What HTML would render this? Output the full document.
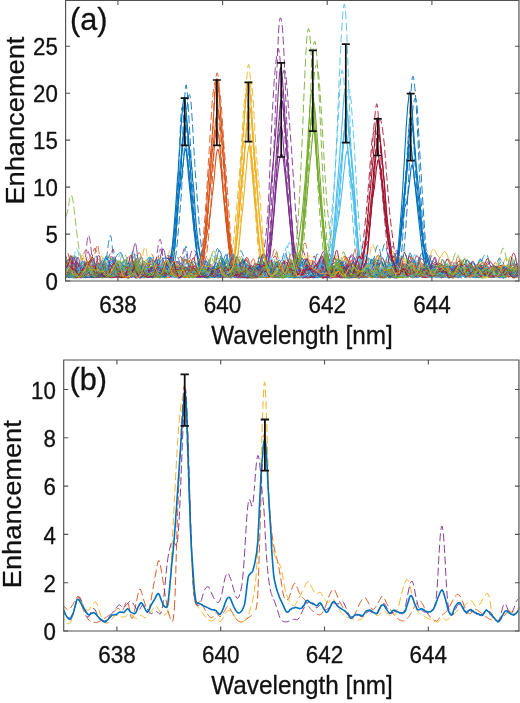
<!DOCTYPE html>
<html lang="en"><head><meta charset="utf-8"><title>Enhancement vs Wavelength</title>
<style>html,body{margin:0;padding:0;background:#fff}svg{display:block}</style></head>
<body>
<svg width="520" height="703" viewBox="0 0 520 703" font-family='"Liberation Sans", Arial, Helvetica, sans-serif' fill="#111" stroke="#111" stroke-width="0.3">
<rect width="520" height="703" fill="#fff" stroke="none"/>
<defs><clipPath id="ca"><rect x="65.6" y="0.5" width="453.9" height="280.5"/></clipPath>
<clipPath id="cb"><rect x="63.7" y="360.0" width="455.8" height="271.0"/></clipPath></defs>
<g clip-path="url(#ca)" fill="none" stroke-linejoin="round" stroke-linecap="butt">
<path d="M64.2 274.6Q65.5 276.9 66.8 274.7T69.3 271.8 71.8 274.1 74.3 277 76.8 277.2 79.3 277.2 81.8 276.8 84.3 277.4 86.8 277.4 89.4 274.8 91.9 272 94.4 274.2 96.9 277.2 99.4 277.1 101.9 275.4 104.4 274.3 106.9 276.1 109.5 277 112 276.8 114.5 276.7 117 273 119.5 271.7 122 272.7 124.5 269.7 127 270.6 129.5 273.3 132.1 272.3 134.6 272.7 137.1 275.3 139.6 273.8 142.1 269.1 144.6 271.3 147.1 272.6 149.6 270.1 152.2 270.1 154.7 263 157.2 260.4 159.7 270.5 162.2 274.5" stroke="#0072BD" stroke-width="0.85"/>
<path d="M162.2 274.5Q163.5 272.6 164.7 270.4T167.2 268 169.7 264.9 172.2 256.3 174.8 237.7 177.5 209.4 179.3 192.2 180 188.3 180.6 184.5 181.3 179.6 182 173.5 182.7 167.4 183.4 161.4 184 155.9 184.7 151.8 185.4 149.7 186.1 150 186.8 152.7 187.4 157.7 188.1 164.2 188.8 171.3 189.5 178.8 190.2 186.3 190.8 193.8 191.5 200.7 192.2 207.1 193.1 215.1 194.9 228.4 197.4 242.5 199.9 254.5 202.4 268.8 204.9 276.6 207.4 275.7 209.9 276.3 212.4 277.2 214.9 273.6" stroke="#0072BD" stroke-width="1.1"/>
<path d="M214.9 273.6Q216.2 270.5 217.5 265.8T220 262.9 222.5 268.7 225 273.7 227.5 272.6 230 266.9 232.5 267.2 235 272.3 237.6 272 240.1 271.4 242.6 274 245.1 276.9 247.6 276.7 250.1 273.4 252.6 267.3 255.1 263.6 257.7 266.3 260.2 268.3 262.7 268.8 265.2 267.6 267.7 266.9 270.2 269.5 272.7 274.1 275.2 277 277.7 276.7 280.3 276.5 282.8 276.7 285.3 276.8 287.8 272.2 290.3 262.2 292.8 264.8 295.3 274.5 297.8 273.7 300.4 269.8 302.9 270.3 305.4 271.6 307.9 269.1 310.4 268.1 312.9 273 315.4 275.6 317.9 274.5 320.4 275.8 323 275.9 325.5 274.2 328 270.6 330.5 267.7 333 270 335.5 273.7 338 276.2 340.5 276.7 343.1 277.2 345.6 277.5 348.1 276.9 350.6 276.4 353.1 277 355.6 275.6 358.1 273.2 360.6 271 363.1 270.7 365.7 274.9 368.2 270.3 370.7 260.4 373.2 263.2 375.7 271.3 378.2 274.6 380.7 275.4 383.2 272 385.8 270.7 388.3 273.9 390.8 276.4 393.3 277.7 395.8 277.3 398.3 272.2 400.8 267.4 403.3 266.7 405.8 268.5 408.4 273.7 410.9 276.5 413.4 276.2 415.9 274.9 418.4 274.3 420.9 276.1 423.4 277.4 425.9 276.4 428.5 271 431 270.2 433.5 275.4 436 273.3 438.5 268.5 441 271.7 443.5 276.3 446 277.1 448.6 277.5 451.1 274.5 453.6 271.1 456.1 271.6 458.6 273.3 461.1 273 463.6 272.8 466.1 274.5 468.6 276.7 471.2 277.3 473.7 272.7 476.2 270 478.7 271.1 481.2 271.7 483.7 273.3 486.2 274 488.7 272 491.3 271.3 493.8 272.4 496.3 271.1 498.8 267.1 501.3 265.2 503.8 267.7 506.3 272.7 508.8 276.3 511.3 272.6 513.9 267.1 516.4 267.6 518.9 268.5 521.4 266.6" stroke="#0072BD" stroke-width="0.85"/>
<path d="M64.2 269.4Q65.5 270.9 66.8 272.5T69.3 272 71.8 270.4 74.3 266.4 76.8 266.1 79.3 273.4 81.8 271.6 84.3 261.2 86.8 261 89.4 266.5 91.9 269.4 94.4 274.9 96.9 277.4 99.4 274.4 101.9 271.3 104.4 271.9 106.9 275 109.5 276.7 112 272.5 114.5 270.5 117 274.7 119.5 277.4 122 274.7 124.5 269.9 127 270.5 129.5 274.3 132.1 275.7 134.6 271.8 137.1 270.1 139.6 270.9 142.1 266.3 144.6 267.7 147.1 275.3 149.6 277.4 152.2 274.2 154.7 266.1 157.2 263.7 159.7 268.4 162.2 267.3 164.7 264.1 167.2 266.4 169.7 265.7 172.2 262 174.8 267 177.3 274.4 179.8 274.6 182.3 268 184.8 264.1 187.3 259.9 189.8 261.7 192.3 271.6 194.9 272.4 197.4 268.3 199.9 266.7 202.4 267.3 204.9 267 207.4 268.8 209.9 273 212.4 275.6 214.9 276.6 217.5 275.2 220 274.7 222.5 275.6 225 274.2 227.5 269.9" stroke="#EDB120" stroke-width="0.8" stroke-dasharray="8 3.5"/>
<polyline points="246.3,92.1 246,92.4 245.6,93.4 245.3,94.8 244.9,96.8 244.6,99.3 244.3,102.5 243.9,106.2 243.6,110.6 243.2,115.7 242.9,121.3 242.6,127 242.2,132.8 241.9,138.7 241.5,144.4 241.2,149.6 240.9,154.5 240.5,159.2 240.2,163.7 239.8,168.3 239.5,172.9 239.2,177.4 238.6,184.5 237.6,196.5 236.3,211.1 235,225.7 233.8,238.9 232.5,249.3 231.3,257.2 230,262.7 228.8,266.7 227.5,269.9" stroke="#EDB120" stroke-width="0.9" stroke-dasharray="8 3.5" stroke-dashoffset="4"/>
<polyline points="246.3,92.1 246.6,92.5 247,93.6 247.3,95.1 247.7,97.3 248,100 248.3,103.3 248.7,107.3 249,111.8 249.4,117 249.7,122.5 250,128 250.4,133.5 250.7,139 251.1,144.3 251.4,149.5 251.7,154.3 252.1,159 252.4,163.6 252.8,168.2 253.1,172.9 253.5,178 254.1,187.9 255.1,207.3 256.4,228.2 257.7,242.9 258.9,252.6 260.2,258.5 261.4,261.6 262.7,263.2 263.9,262.4 265.2,258.2 266.4,255.6 267.7,259.7 269,265.7 270.2,269.1 271.5,270 272.7,268.4 274,267.5 275.2,270.4 276.5,274.2 277.7,276" stroke="#EDB120" stroke-width="0.9" stroke-dasharray="8 3.5" stroke-dashoffset="4"/>
<path d="M277.7 276Q279 276.8 280.3 277.5T282.8 277.5 285.3 274.5 287.8 272.5 290.3 275.1 292.8 272.7 295.3 262.4 297.8 263.6 300.4 271 302.9 268.5 305.4 265.2 307.9 269.7 310.4 275.7 312.9 276.7 315.4 271.3 317.9 267.8 320.4 273.2 323 277 325.5 277.2 328 277.5 330.5 274.8 333 268.5 335.5 259.2 338 256.7 340.5 263.1 343.1 266.5 345.6 271.7 348.1 276.7 350.6 274.7 353.1 271.2 355.6 272.9 358.1 272 360.6 267.1 363.1 268.9 365.7 271.9 368.2 272.1 370.7 271 373.2 269.2 375.7 270 378.2 268.4 380.7 263.2 383.2 265 385.8 273.4 388.3 277.6 390.8 275.5 393.3 274.2 395.8 275.9 398.3 277.6 400.8 277.3 403.3 277.1 405.8 277.2 408.4 276.2 410.9 274.2 413.4 273.7 415.9 273.4 418.4 273.9 420.9 270.7 423.4 268.9 425.9 270.5 428.5 267.6 431 267.1 433.5 268.3 436 270.9 438.5 275.7 441 274.4 443.5 269.2 446 270.9 448.6 276 451.1 276.7 453.6 273.3 456.1 269.2 458.6 266.6 461.1 266 463.6 269 466.1 273 468.6 270.1 471.2 265.9 473.7 267.2 476.2 269.8 478.7 271.8 481.2 270.4 483.7 264.5 486.2 259.5 488.7 260 491.3 261.2 493.8 264.9 496.3 269.5 498.8 270.2 501.3 268.4 503.8 267 506.3 265.8 508.8 265.1 511.3 269.5 513.9 269.2 516.4 266.4 518.9 271.2 521.4 275.9" stroke="#EDB120" stroke-width="0.8" stroke-dasharray="8 3.5"/>
<path d="M64.2 270.8Q65.5 269.9 66.8 267.8T69.3 271.8 71.8 277.2 74.3 269.7 76.8 264.7 79.3 271.4 81.8 277.1 84.3 273.2 86.8 257.7 89.4 255.3 91.9 269.4 94.4 274.3 96.9 272.1 99.4 265.8 101.9 260.8 104.4 260 106.9 259.4 109.5 255.2 112 256.3 114.5 266.1 117 273.6 119.5 275.9 122 273 124.5 269 127 259.3 129.5 259.2 132.1 269.9 134.6 270.6 137.1 269.7 139.6 270.6 142.1 271.3 144.6 272.3 147.1 267.9 149.6 264 152.2 264.8 154.7 269.7 157.2 275.7 159.7 277.2 162.2 277.4 164.7 275.6 167.2 271.9 169.7 270.6 172.2 273.8 174.8 276.2 177.3 276.3 179.8 274.3 182.3 258.9 184.8 249.2 187.3 258.6 189.8 258.2 192.3 249.9 194.9 250.8 197.4 255 199.9 263.1 202.4 271.8 204.9 274.8 207.4 274.2 209.9 275.4 212.4 277 214.9 273.6 217.5 271.5 220 268.9 222.5 262.4 225 264 227.5 267.9 230 270.4 232.5 275.8 235 273.6 237.6 268.1 240.1 270.6 242.6 276.2 245.1 277.6 247.6 276.9 250.1 275 252.6 274.6 255.1 274.6 257.7 271.4 260.2 267" stroke="#7E2F8E" stroke-width="0.8" stroke-dasharray="8 3.5"/>
<polyline points="278.3,48.6 278,48.9 277.6,50 277.3,51.7 277,53.9 276.6,56.4 276.3,59.2 275.9,61.9 275.6,64.9 275.3,68.6 274.9,72.6 274.6,76.6 274.2,80.9 273.9,85.8 273.6,91.3 273.2,97.2 272.9,103.4 272.5,109.5 272.2,115.7 271.9,121.8 271.3,134.7 270.2,161.2 269,191.1 267.7,214.3 266.4,231.1 265.2,242.2 263.9,250.1 262.7,257.5 261.4,263.4 260.2,267" stroke="#7E2F8E" stroke-width="0.9" stroke-dasharray="8 3.5" stroke-dashoffset="4"/>
<polyline points="278.3,48.6 278.7,49.1 279,50.5 279.3,52.7 279.7,55.5 280,59 280.4,63.1 280.7,67.8 281,73 281.4,78.9 281.7,85.1 282.1,91.1 282.4,96.9 282.7,102.7 283.1,108.4 283.4,114.1 283.8,119.6 284.1,125.1 284.4,130.6 284.8,136 285.2,142.9 285.8,152.7 286.7,166.4 287.8,184.6 289,204.3 290.3,222.2 291.6,238.6 292.8,253.6 294.1,264.3 295.3,267.9 296.6,268.1 297.8,268.8 299.1,270.3 300.4,272.8 301.6,275.2 302.9,276.2 304.1,276.5 305.4,276.7 306.6,276.9 307.9,276.9 309.1,276.9 310.4,276.6 311.7,275.8 312.9,274.1" stroke="#7E2F8E" stroke-width="0.9" stroke-dasharray="8 3.5" stroke-dashoffset="4"/>
<path d="M312.9 274.1Q314.2 271.9 315.4 274.8T317.9 277.1 320.4 277.3 323 278.1 325.5 274.4 328 270.7 330.5 272.1 333 275 335.5 274.5 338 272.8 340.5 270.2 343.1 267.9 345.6 268.8 348.1 266.1 350.6 265.2 353.1 266.4 355.6 266.7 358.1 268 360.6 265.7 363.1 264.7 365.7 268.1 368.2 270.7 370.7 270.6 373.2 270.6 375.7 273.5 378.2 276.9 380.7 277.6 383.2 277.7 385.8 274.1 388.3 266 390.8 261 393.3 257 395.8 253.3 398.3 261 400.8 271.7 403.3 272 405.8 271.5 408.4 271.8 410.9 264.8 413.4 259.5 415.9 263 418.4 271.2 420.9 273.7 423.4 269.7 425.9 271.5 428.5 273.6 431 272.8 433.5 275.2 436 273.2 438.5 270.6 441 270.8 443.5 268.5 446 271.2 448.6 274.1 451.1 272.7 453.6 272.8 456.1 272.7 458.6 270.5 461.1 270.8 463.6 271.7 466.1 269.4 468.6 269.7 471.2 271.9 473.7 271.8 476.2 268.6 478.7 266.9 481.2 270 483.7 274.1 486.2 273.5 488.7 270 491.3 268.2 493.8 267.9 496.3 270.2 498.8 267.7 501.3 266.4 503.8 273.9 506.3 277.5 508.8 273.3 511.3 268.6 513.9 269.3 516.4 271.2 518.9 271.2 521.4 270.8" stroke="#7E2F8E" stroke-width="0.8" stroke-dasharray="8 3.5"/>
<path d="M64.2 277.1Q65.5 277.1 66.8 277.1T69.3 276.7 71.8 272.2 74.3 258 76.8 248.8 79.3 256.5 81.8 267.6 84.3 273.3 86.8 276.5 89.4 276.1 91.9 270.7 94.4 265 96.9 264.5 99.4 269.8 101.9 269.6 104.4 263.9 106.9 261.2 109.5 263.1 112 265.7 114.5 268.6 117 274.4 119.5 275.4 122 274.1 124.5 273.2 127 269.9 129.5 266.4 132.1 265 134.6 266.7 137.1 272.2 139.6 273.4 142.1 272.6 144.6 274.3 147.1 275.5 149.6 276.9 152.2 274.7 154.7 274.4 157.2 275.4 159.7 272.6 162.2 274.4 164.7 277.7 167.2 274.6 169.7 271.3 172.2 269.8 174.8 270.1 177.3 272.3 179.8 272.1 182.3 273.3 184.8 275.9 187.3 275.5 189.8 275.7 192.3 277 194.9 277 197.4 271.6 199.9 259 202.4 256.2 204.9 267.5 207.4 275.3 209.9 276.7 212.4 274.4 214.9 269.5 217.5 268.8 220 274.2 222.5 277.6 225 277.6 227.5 277.3 230 276.1 232.5 272.8 235 269.6 237.6 266.6 240.1 265.9 242.6 272.2 245.1 276.9 247.6 271.3 250.1 266.7 252.6 271.3 255.1 274.9 257.7 272.5 260.2 268.6 262.7 269.2 265.2 273.4 267.7 275.5 270.2 270.9 272.7 266.8 275.2 271.9 277.7 276.5 280.3 274.8 282.8 266 285.3 251.5 287.8 247.2 290.3 260.5 292.8 273.4 295.3 276.9 297.8 275.1 300.4 273.3 302.9 271.5 305.4 268.7 307.9 269.3 310.4 272 312.9 270.8 315.4 270.6 317.9 275 320.4 275.5 323 272.4 325.5 269" stroke="#4DBEEE" stroke-width="0.8" stroke-dasharray="8 3.5"/>
<polyline points="344.3,4.1 344,4.6 343.6,6.5 343.3,9.3 342.9,12.8 342.6,16.9 342.3,21.7 341.9,26.8 341.6,31.7 341.2,37 340.9,43.1 340.6,49.8 340.2,56.8 339.9,63.9 339.5,71.4 339.2,79.1 338.9,87.2 338.5,95.5 338.2,103.9 337.8,112.4 337.5,121 336.9,135.1 335.7,159.9 334.3,187.6 333,210 331.8,228.1 330.5,242.8 329.2,254 328,261.6 326.7,266.3 325.5,269" stroke="#4DBEEE" stroke-width="0.9" stroke-dasharray="8 3.5" stroke-dashoffset="4"/>
<polyline points="344.3,4.1 344.6,4.8 345,6.7 345.3,9.6 345.7,13.4 346,18.2 346.3,24 346.7,31 347,39.3 347.4,48.2 347.7,57.4 348.1,66.7 348.4,76.2 348.7,85.7 349.1,95.4 349.4,105 349.8,114.6 350.1,124.1 350.4,133.6 350.8,144.2 351.3,157.4 352,174.2 353.1,195.7 354.4,217.6 355.6,235.7 356.9,250.2 358.1,261.5 359.4,269.5 360.6,274.3 361.9,276.6 363.1,277.1 364.4,276.6 365.7,276 366.9,275.1 368.2,273.6 369.4,272.1 370.7,271 371.9,269.6 373.2,267.1 374.5,265.2 375.7,265.4" stroke="#4DBEEE" stroke-width="0.9" stroke-dasharray="8 3.5" stroke-dashoffset="4"/>
<path d="M375.7 265.4Q377 266.6 378.2 270T380.7 275.5 383.2 276.4 385.8 273.1 388.3 269.4 390.8 271.4 393.3 276.4 395.8 274.8 398.3 267.2 400.8 266.1 403.3 268 405.8 270.4 408.4 275.8 410.9 272.5 413.4 259 415.9 258.4 418.4 271.2 420.9 276.2 423.4 273.3 425.9 261.9 428.5 260.6 431 272.4 433.5 274.1 436 270.7 438.5 273 441 275.7 443.5 272.7 446 267.7 448.6 268.6 451.1 272.7 453.6 271.8 456.1 272.1 458.6 275.3 461.1 274.4 463.6 270.2 466.1 269 468.6 269.9 471.2 266.6 473.7 264.1 476.2 265.5 478.7 261.3 481.2 261.3 483.7 269.2 486.2 271.7 488.7 271.2 491.3 270.9 493.8 271.2 496.3 274.8 498.8 277.6 501.3 274.7 503.8 268.8 506.3 267.5 508.8 270.4 511.3 271 513.9 272.2 516.4 275.3 518.9 275.2 521.4 271.1" stroke="#4DBEEE" stroke-width="0.8" stroke-dasharray="8 3.5"/>
<path d="M64.2 274.4Q65.5 271.5 66.8 268.3T69.3 265.7 71.8 263.7 74.3 264.5 76.8 271.9 79.3 276.4 81.8 277.4 84.3 277.4 86.8 276.8 89.4 277.4 91.9 275 94.4 269.4 96.9 271.9 99.4 275.5 101.9 271.8 104.4 268.9 106.9 268.6 109.5 270.3 112 273 114.5 275.1 117 276.5 119.5 277.1 122 274.9 124.5 271.7 127 271.5 129.5 274.4 132.1 275.8 134.6 266.4 137.1 258.3 139.6 261.2 142.1 264.7 144.6 264.4 147.1 259.9 149.6 257.3 152.2 262.3 154.7 266.6 157.2 267.6 159.7 273.1 162.2 275.8 164.7 272.9 167.2 274.3 169.7 275.5 172.2 269.7 174.8 265.9 177.3 269 179.8 272.5 182.3 267.9 184.8 251.4 187.3 252.8 189.8 271.4 192.3 277.7 194.9 272.9 197.4 268 199.9 269.9 202.4 266 204.9 260.4 207.4 267.3 209.9 275 212.4 273.3 214.9 269.9 217.5 267.5 220 265.5 222.5 268.3 225 272.6 227.5 275.1 230 272.5 232.5 269.5 235 273.6 237.6 277.1 240.1 277 242.6 276.9 245.1 275.4 247.6 270.6 250.1 267.6 252.6 267.2 255.1 267.2 257.7 266.8 260.2 268.9 262.7 274.1 265.2 277.3 267.7 277.6 270.2 276.8 272.7 274.5 275.2 273.7 277.7 276.2 280.3 275.7 282.8 270.1 285.3 265.6 287.8 263 290.3 263.8 292.8 267.1 295.3 263.5 297.8 267.5 300.4 276.8 302.9 277.3 305.4 273.2 307.9 267.8 310.4 267.4 312.9 269.7 315.4 266.3 317.9 263.8 320.4 267.6 323 269.5 325.5 262.1 328 257 330.5 264.4 333 267.5 335.5 266.2 338 268.1 340.5 267.7 343.1 268.9 345.6 270.1 348.1 265.3 350.6 266 353.1 273.4 355.6 277.1 358.1 275.2 360.6 273.7 363.1 272.7 365.7 269.7 368.2 272 370.7 276.7 373.2 273.1 375.7 262.8 378.2 262 380.7 266.7 383.2 266.5 385.8 268.1 388.3 273" stroke="#0072BD" stroke-width="0.8" stroke-dasharray="8 3.5"/>
<polyline points="415.1,98.2 414.8,98.7 414.5,99.7 414.1,100.9 413.8,102.5 413.4,104.7 413.1,107.3 412.8,110.5 412.4,114.3 412.1,119 411.7,124.2 411.4,129.6 411.1,135.1 410.7,140.6 410.4,146.1 410,151.7 409.7,157.6 409.4,164.1 409,171.1 408.7,178.1 408.3,186.7 407.7,198.1 406.9,212 405.8,228 404.6,243.5 403.3,255.7 402.1,264 400.8,267.8 399.6,269.4 398.3,271 397.1,271.6 395.8,270.4 394.5,269.1 393.3,269 392,270.3 390.8,272.8 389.5,274.4 388.3,273" stroke="#0072BD" stroke-width="0.9" stroke-dasharray="8 3.5" stroke-dashoffset="4"/>
<polyline points="415.1,98.2 415.5,98.3 415.8,98.9 416.2,100.1 416.5,101.8 416.8,104.2 417.2,107.4 417.5,111.9 417.9,117.3 418.2,123.4 418.5,129.8 418.9,136.2 419.2,142.5 419.6,148.6 419.9,154.5 420.3,159.9 420.6,165.1 420.9,170.4 421.3,175.6 421.6,180.8 422.2,190.6 423.3,209.6 424.7,230.9 425.9,247.4 427.2,258.6 428.5,263.9 429.7,266.1 431,268.1 432.2,270.3 433.5,273.3 434.7,275.5 436,275.5 437.2,274.2 438.5,272.3 439.8,270.8 441,270.3" stroke="#0072BD" stroke-width="0.9" stroke-dasharray="8 3.5" stroke-dashoffset="4"/>
<path d="M441 270.3Q442.3 270.5 443.5 270.5T446 271.5 448.6 268.2 451.1 266.7 453.6 272.2 456.1 275.5 458.6 276.8 461.1 277.8 463.6 277.4 466.1 274 468.6 270.4 471.2 271.8 473.7 273 476.2 270.1 478.7 263.1 481.2 259.8 483.7 263.7 486.2 266.5 488.7 268 491.3 270.5 493.8 271.9 496.3 266.3 498.8 258.8 501.3 261.1 503.8 269.4 506.3 272.4 508.8 269.8 511.3 270.3 513.9 274.6 516.4 276.7 518.9 277.3 521.4 277.7" stroke="#0072BD" stroke-width="0.8" stroke-dasharray="8 3.5"/>
<path d="M64.2 277.2Q65.5 276.6 66.8 276.9T69.3 276.5 71.8 276.5 74.3 276.5 76.8 276.2 79.3 277.3 81.8 277.5 84.3 275.4 86.8 272.5 89.4 269.1 91.9 265.4 94.4 259 96.9 257.2 99.4 260 101.9 263.1 104.4 267.8 106.9 269.9 109.5 272.7 112 274 114.5 269.2 117 268.5 119.5 273.9 122 274.6 124.5 273.6 127 272.3 129.5 266.2 132.1 259.3 134.6 255.2 137.1 256.2 139.6 261.3 142.1 265.5 144.6 267.8 147.1 267.6 149.6 262.3 152.2 260.7 154.7 262.7 157.2 264.5 159.7 268.9 162.2 274.1 164.7 276.9 167.2 273.9 169.7 265.8 172.2 260.6 174.8 265.9 177.3 270.9 179.8 268.6 182.3 267.1 184.8 268 187.3 268.5 189.8 270.4 192.3 268.7 194.9 268.5 197.4 274.7 199.9 277.8 202.4 273.6 204.9 263.7 207.4 263.8 209.9 272.2 212.4 270.8 214.9 266.6 217.5 267.2 220 267.3 222.5 268.7 225 270.3 227.5 267.5 230 264.8 232.5 265 235 266.5 237.6 266.9 240.1 271.5 242.6 277.2 245.1 274.7 247.6 271.3 250.1 270.5 252.6 270.3 255.1 271.9 257.7 274.2 260.2 271.9 262.7 266.9 265.2 266.6 267.7 262.7 270.2 258.1 272.7 264.3 275.2 270.1 277.7 272.4 280.3 274.9 282.8 276.3 285.3 277.3 287.8 277.6 290.3 277.5 292.8 277.4 295.3 277.6 297.8 277.5 300.4 274 302.9 265.7 305.4 264.9 307.9 271.5 310.4 275.6 312.9 277 315.4 277.5 317.9 277.8 320.4 277.3 323 275.8 325.5 272.5" stroke="#4DBEEE" stroke-width="0.85"/>
<path d="M325.5 272.5Q326.7 270.6 328 269.8T330.5 265.1 333 251.7 335.5 235.1 338 221 339.6 211.5 340.2 205.8 340.9 199.8 341.6 193.9 342.3 187.7 343 181.3 343.6 174.9 344.3 168.5 345 161.9 345.7 156.4 346.4 152.8 347 151.4 347.7 152.4 348.4 155.6 349.1 160.2 349.8 165.5 350.5 171.2 351.1 177.2 351.8 182.9 352.5 187.7 353.2 191.9 353.9 196.5 355.6 215.6 358.1 244 360.6 263.5 363.1 273.6 365.7 274.8 368.2 271.5 370.7 271.3 373.2 275.2 375.7 272.9" stroke="#4DBEEE" stroke-width="1.1"/>
<path d="M375.7 272.9Q377 268.4 378.2 262.2T380.7 256.4 383.2 260 385.8 265.8 388.3 267.1 390.8 265.6 393.3 268.3 395.8 269.9 398.3 267.9 400.8 267.2 403.3 265.2 405.8 267.9 408.4 274.6 410.9 275.3 413.4 272.8 415.9 270.5 418.4 273.1 420.9 276.7 423.4 273.7 425.9 270.2 428.5 271 431 271.7 433.5 272.8 436 273.2 438.5 272.5 441 272.4 443.5 268.5 446 267.6 448.6 271.2 451.1 270.7 453.6 266 456.1 266.4 458.6 271.3 461.1 273.4 463.6 274.8 466.1 276.1 468.6 274.7 471.2 271.9 473.7 270.9 476.2 269.8 478.7 266.2 481.2 265.2 483.7 270.7 486.2 275 488.7 274.9 491.3 272.4 493.8 270 496.3 270.7 498.8 273.2 501.3 276 503.8 277.3 506.3 273.9 508.8 270.7 511.3 270.7 513.9 269.8 516.4 267 518.9 264 521.4 265.6" stroke="#4DBEEE" stroke-width="0.85"/>
<path d="M64.2 265Q65.5 263.7 66.8 265.3T69.3 269.2 71.8 273.5 74.3 276.7 76.8 277.4 79.3 275.4 81.8 275.6 84.3 271 86.8 262.8 89.4 263.5 91.9 258.8 94.4 248.8 96.9 256.1 99.4 271.9 101.9 277.9 104.4 276.6 106.9 275.5 109.5 274.2 112 272.2 114.5 271.4 117 271.6 119.5 274.2 122 276.3 124.5 276.8 127 275.6 129.5 271.8 132.1 270.5 134.6 270.5 137.1 268.4 139.6 270.3 142.1 274.5 144.6 274.5 147.1 271.7 149.6 270.2 152.2 273.2 154.7 277.2 157.2 273.9 159.7 267.9 162.2 262.4 164.7 262.2 167.2 271.4 169.7 275.6 172.2 272.2 174.8 269.4 177.3 264 179.8 257 182.3 261.5 184.8 269.7 187.3 268.9 189.8 266.5 192.3 267.4 194.9 266 197.4 262.6 199.9 265.3 202.4 268.1 204.9 269 207.4 269.6 209.9 272.4 212.4 276.8 214.9 277.3 217.5 277.2 220 275.4 222.5 273.8 225 274.6 227.5 275.4 230 276 232.5 275.9 235 274.5 237.6 274.3 240.1 275.1 242.6 276.4 245.1 277 247.6 274.8 250.1 274.1 252.6 275.6 255.1 276.7 257.7 277.3 260.2 276.9 262.7 276.6 265.2 272.9 267.7 271.1 270.2 273.3 272.7 273.8 275.2 274.7 277.7 275.9 280.3 272.7 282.8 269.4 285.3 271.4 287.8 272.7 290.3 274.8 292.8 277.2 295.3 273.2 297.8 265.9 300.4 265.1 302.9 262.2 305.4 259.8 307.9 267.8 310.4 270.9 312.9 267.9 315.4 269.4 317.9 270.7 320.4 271.9 323 269.7 325.5 259.5 328 253.3 330.5 257 333 266.7 335.5 274 338 269.9 340.5 262.3 343.1 264.2 345.6 272.5 348.1 277.2 350.6 276.7 353.1 276.2 355.6 273.1" stroke="#A2142F" stroke-width="0.8" stroke-dasharray="8 3.5"/>
<polyline points="374.7,130.9 374.3,131 374,131.3 373.6,132 373.3,133 373,134.4 372.6,136.2 372.3,138.4 371.9,141.2 371.6,145.1 371.3,149.5 370.9,153.8 370.6,158.3 370.2,162.7 369.9,167.1 369.6,171.5 369.2,175.9 368.9,180.2 368.5,184.4 368.2,188.6 367.8,193.2 367.4,198.7 366.7,206.4 365.7,217.8 364.4,230.7 363.1,242.5 361.9,252.2 360.6,258.4 359.4,262.7 358.1,266.7 356.9,270.2 355.6,273.1" stroke="#A2142F" stroke-width="0.9" stroke-dasharray="8 3.5" stroke-dashoffset="4"/>
<polyline points="374.7,130.9 375,131.3 375.3,132.1 375.7,133.3 376,134.9 376.4,137 376.7,139.4 377,142.2 377.4,145.2 377.7,148.7 378.1,152.3 378.4,155.9 378.7,159.4 379.1,163 379.4,166.4 379.8,169.5 380.1,172.4 380.4,175.2 380.8,178 381.1,180.8 381.4,183.3 381.7,185.6 382.2,190.9 383.2,202.6 384.5,217.5 385.8,232.1 387,245.6 388.3,256.8 389.5,265.4 390.8,270.8 392,273.3 393.3,273.4 394.5,271.3 395.8,266.8 397.1,263.3 398.3,264 399.6,267.1 400.8,270.6 402.1,273.4 403.3,273.9 404.6,272.5 405.8,269.2 407.1,266.6 408.4,267.1" stroke="#A2142F" stroke-width="0.9" stroke-dasharray="8 3.5" stroke-dashoffset="4"/>
<path d="M408.4 267.1Q409.6 269.3 410.9 273.1T413.4 277 415.9 271.5 418.4 266.6 420.9 269 423.4 270.5 425.9 271.3 428.5 272.7 431 274.9 433.5 276.8 436 277.4 438.5 275.4 441 269.7 443.5 266.6 446 269.3 448.6 272.3 451.1 270.5 453.6 263.9 456.1 262.2 458.6 267.7 461.1 269.4 463.6 269.9 466.1 270.1 468.6 270.2 471.2 274.5 473.7 276.6 476.2 273.8 478.7 268.7 481.2 266.8 483.7 272.3 486.2 275.9 488.7 271.2 491.3 267.3 493.8 267.3 496.3 267.2 498.8 266.1 501.3 265.7 503.8 270.5 506.3 275.9 508.8 275.9 511.3 275.9 513.9 277.2 516.4 276.7 518.9 275.7 521.4 276.2" stroke="#A2142F" stroke-width="0.8" stroke-dasharray="8 3.5"/>
<path d="M64.2 267.8Q65.5 265.5 66.8 262.7T69.3 259.3 71.8 260.1 74.3 265.6 76.8 270.4 79.3 270.9 81.8 273.4 84.3 275.2 86.8 274.6 89.4 275.7 91.9 277.2 94.4 277.6 96.9 274.6 99.4 268.6 101.9 265.3 104.4 267.8 106.9 272.3 109.5 274.6 112 273.5 114.5 271.2 117 268.2 119.5 263.2 122 266 124.5 274.6 127 277.8 129.5 277.7 132.1 277.1 134.6 272.1 137.1 269.4 139.6 273.8 142.1 272.8 144.6 267 147.1 268.6 149.6 274 152.2 274.9 154.7 271.8 157.2 267.5 159.7 262.9 162.2 259.4" stroke="#0072BD" stroke-width="0.85"/>
<path d="M162.2 259.4Q163.5 258.5 164.7 258.3T167.2 258.1 169.7 260.9 172.2 261.8 174.8 246.7 177.3 215.9 178.8 194.6 179.5 186.6 180.2 178.3 180.9 169.8 181.5 160.7 182.2 151.3 182.9 141.9 183.6 133.2 184.3 125.9 185 121 185.6 119 186.3 119.8 187 123.2 187.7 129.5 188.4 137.5 189 144.5 189.7 150.1 190.4 155.5 191.1 161.4 191.8 168.2 192.4 175.7 193.2 183.9 194.9 206.2 197.4 235.7 199.9 253.1 202.4 265 204.9 274.2 207.4 277.3 209.9 277.3 212.4 276.8 214.9 273.6" stroke="#0072BD" stroke-width="1.1"/>
<path d="M214.9 273.6Q216.2 270.4 217.5 268.6T220 270.2 222.5 273.7 225 269.4 227.5 268.7 230 274.8 232.5 274.8 235 271.4 237.6 271.6 240.1 271.4 242.6 272.2 245.1 275.3 247.6 273.8 250.1 270.1 252.6 270.7 255.1 271.7 257.7 268.5 260.2 261.2 262.7 261.6 265.2 266.5 267.7 267.8 270.2 270 272.7 268.6 275.2 264.4 277.7 262 280.3 265.3 282.8 271.7 285.3 274.4 287.8 271.6 290.3 266.9 292.8 263 295.3 262.6 297.8 262.4 300.4 260.6 302.9 265.5 305.4 273.8 307.9 276.7 310.4 276.9 312.9 272.8 315.4 269.4 317.9 268 320.4 263.7 323 259.5 325.5 259.9 328 266.4 330.5 271.4 333 271.9 335.5 271.5 338 272.6 340.5 271.7 343.1 268.6 345.6 271.8 348.1 275.7 350.6 275.2 353.1 273 355.6 269.1 358.1 268.2 360.6 269.9 363.1 273.2 365.7 273 368.2 270.9 370.7 270.5 373.2 272.2 375.7 276.4 378.2 277.9 380.7 273.6 383.2 265.7 385.8 264.5 388.3 269.5 390.8 273.4 393.3 268.9 395.8 260.4 398.3 263.1 400.8 271.9 403.3 276.1 405.8 270.9 408.4 257.9 410.9 254.3 413.4 259.7 415.9 265 418.4 270.4 420.9 271.1 423.4 272.4 425.9 274.5 428.5 271.7 431 268.2 433.5 267.5 436 269.4 438.5 273.2 441 276.2 443.5 275.6 446 275.4 448.6 276.8 451.1 277.6 453.6 277.6 456.1 277.5 458.6 277.3 461.1 276.8 463.6 274.7 466.1 270 468.6 266.8 471.2 270.5 473.7 274.7 476.2 272.3 478.7 270.7 481.2 271 483.7 268.7 486.2 269.5 488.7 274.9 491.3 277.5 493.8 274.8 496.3 272.2 498.8 274.8 501.3 276.7 503.8 273.3 506.3 270.2 508.8 270.9 511.3 270.8 513.9 270.5 516.4 274.1 518.9 275.7 521.4 273.2" stroke="#0072BD" stroke-width="0.85"/>
<path d="M64.2 269.5Q65.5 272.5 66.8 274.7T69.3 273.5 71.8 269.9 74.3 273.3 76.8 276.6 79.3 276.5 81.8 274 84.3 266.4 86.8 264.1 89.4 268.1 91.9 270.7 94.4 269.6 96.9 260.4 99.4 256 101.9 264.8 104.4 272.2 106.9 270.7 109.5 262.7 112 260.3 114.5 264.7 117 269.9 119.5 274.6 122 271.9 124.5 269.6 127 273.8 129.5 273.2 132.1 258.9 134.6 244.4 137.1 252.3 139.6 265 142.1 266 144.6 266 147.1 268.6 149.6 270.3 152.2 268.8 154.7 265.2 157.2 263.4 159.7 266.8 162.2 273 164.7 277.1 167.2 277.3 169.7 277.1 172.2 276.9 174.8 276 177.3 270.6 179.8 268.5 182.3 274.5 184.8 277.8 187.3 277.2 189.8 273.9 192.3 269.7 194.9 270.5 197.4 271.9 199.9 270.1 202.4 266 204.9 261.3 207.4 262.9 209.9 266.5 212.4 269.2 214.9 273.3 217.5 276.5 220 275 222.5 272.4 225 273 227.5 273.5 230 274.1 232.5 275.7 235 275.3 237.6 270.8 240.1 267.7 242.6 267.8 245.1 272.3 247.6 276.8 250.1 274.5 252.6 270.7 255.1 270.4 257.7 269.8 260.2 265.2" stroke="#7E2F8E" stroke-width="0.85"/>
<path d="M260.2 265.2Q261.4 262.6 262.7 262.6T265.2 264 267.7 263.2 270.2 252.5 272.7 228.6 274.6 206.5 275.5 195.8 276.1 187.9 276.8 181.2 277.5 175.5 278.2 169.7 278.9 164.2 279.5 159.8 280.2 156.6 280.9 154.8 281.6 154.3 282.3 154.9 282.9 157.2 283.6 161.5 284.3 167.4 285 173.9 285.7 180.5 286.4 187.2 287 193.7 287.7 200 288.4 206.3 290.1 223.7 292.8 247.6 295.3 256.1 297.8 260 300.4 270.6 302.9 274.4 305.4 269.7 307.9 267.3 310.4 270.4 312.9 273.5" stroke="#7E2F8E" stroke-width="1.1"/>
<path d="M312.9 273.5Q314.2 274.1 315.4 271.6T317.9 268.8 320.4 267.7 323 267.8 325.5 269.5 328 268.3 330.5 268.5 333 271 335.5 273 338 274.4 340.5 274.6 343.1 274.7 345.6 271.8 348.1 263.7 350.6 255.7 353.1 255.6 355.6 262.4 358.1 264.4 360.6 262.2 363.1 262.7 365.7 267.3 368.2 269.5 370.7 268.6 373.2 268.7 375.7 268.8 378.2 269.3 380.7 271.9 383.2 276 385.8 276.8 388.3 275.9 390.8 276 393.3 277.4 395.8 277.9 398.3 277.4 400.8 275.5 403.3 273.4 405.8 274.9 408.4 276.9 410.9 275.4 413.4 272.5 415.9 270.1 418.4 270.1 420.9 271.2 423.4 272.6 425.9 272.8 428.5 271 431 270.7 433.5 273 436 274.8 438.5 275 441 273.7 443.5 268.5 446 260.8 448.6 261.3 451.1 267.2 453.6 268.4 456.1 267.5 458.6 266.7 461.1 266.5 463.6 265.5 466.1 261.4 468.6 261.7 471.2 270.2 473.7 274 476.2 273.7 478.7 275.6 481.2 277 483.7 276.5 486.2 275.3 488.7 274.9 491.3 275.7 493.8 273.5 496.3 268.9 498.8 268.5 501.3 270.9 503.8 272.4 506.3 272.1 508.8 269.4 511.3 266.1 513.9 264.1 516.4 265.5 518.9 267.8 521.4 269.8" stroke="#7E2F8E" stroke-width="0.85"/>
<path d="M64.2 271.5Q65.5 269.6 66.8 267.5T69.3 268.6 71.8 274.7 74.3 276.6 76.8 274.4 79.3 275.1 81.8 277 84.3 276.3 86.8 275.4 89.4 274.1 91.9 275.1 94.4 277.1 96.9 276.9 99.4 272.5 101.9 270.8 104.4 273.2 106.9 272.9 109.5 273.3 112 271 114.5 268.3 117 270.7 119.5 275.1 122 277.3 124.5 277.1 127 277.3 129.5 274.9 132.1 269.1 134.6 264.5 137.1 266.8 139.6 271.5 142.1 269.9 144.6 266.2 147.1 268.3 149.6 271.3 152.2 271.7 154.7 272.5 157.2 271.4 159.7 273.3 162.2 276.7 164.7 274.1 167.2 271.2 169.7 272.4 172.2 272.8 174.8 271.3 177.3 270.8 179.8 269.5 182.3 266.5 184.8 262 187.3 258.8 189.8 262 192.3 268.1 194.9 271.7 197.4 270.7 199.9 262.8 202.4 261.4 204.9 266.5 207.4 267 209.9 272.3 212.4 277.3 214.9 276.9 217.5 277.2 220 277.6 222.5 276 225 269.8 227.5 265" stroke="#EDB120" stroke-width="0.85"/>
<path d="M227.5 265Q228.8 264.8 230 265.6T232.5 264.1 235 253.9 237.6 229.7 239.7 202.1 241 186.7 241.7 179.6 242.4 173.7 243 167.6 243.7 161.3 244.4 153.8 245.1 145.6 245.8 137.6 246.4 131.4 247.1 128.2 247.8 128.3 248.5 131.7 249.2 138.2 249.8 146.7 250.5 155.3 251.2 163.5 251.9 171.2 252.6 178.4 253.2 185.4 253.9 192.4 255.3 207.2 257.7 232.2 260.2 252.5 262.7 262.1 265.2 267.1 267.7 270.9 270.2 271.5 272.7 268.4 275.2 270.4 277.7 271.6" stroke="#EDB120" stroke-width="1.1"/>
<path d="M277.7 271.6Q279 268.8 280.3 268.4T282.8 269.9 285.3 273.2 287.8 275.6 290.3 276.9 292.8 277.7 295.3 278.1 297.8 277.8 300.4 273.5 302.9 270.8 305.4 274.5 307.9 276.9 310.4 275.3 312.9 272 315.4 270.1 317.9 269 320.4 266.6 323 263.1 325.5 259.9 328 262.8 330.5 268.6 333 273.8 335.5 276.8 338 276 340.5 268.2 343.1 257 345.6 259.9 348.1 272 350.6 275.9 353.1 273.2 355.6 270.1 358.1 266.3 360.6 267.1 363.1 273.3 365.7 274 368.2 272.1 370.7 272.7 373.2 269.7 375.7 270.1 378.2 275.4 380.7 277.7 383.2 275.2 385.8 268.1 388.3 262.9 390.8 266 393.3 270.7 395.8 268.3 398.3 266.8 400.8 266.3 403.3 266 405.8 269 408.4 271.2 410.9 271.9 413.4 273.3 415.9 275.5 418.4 275.6 420.9 274.7 423.4 273 425.9 271.5 428.5 272.3 431 273.1 433.5 271.7 436 267.8 438.5 267.8 441 272.1 443.5 273.5 446 271.5 448.6 271 451.1 272.3 453.6 272.8 456.1 271.8 458.6 270.3 461.1 270.9 463.6 274.7 466.1 276.9 468.6 276.7 471.2 273.9 473.7 267.9 476.2 264.7 478.7 266.2 481.2 267.5 483.7 269 486.2 272.5 488.7 275.9 491.3 277.1 493.8 275.2 496.3 270.4 498.8 266 501.3 267.6 503.8 270.5 506.3 271.1 508.8 274.1 511.3 277.1 513.9 277.4 516.4 277.7 518.9 276.7 521.4 274.2" stroke="#EDB120" stroke-width="0.85"/>
<path d="M64.2 264.1Q65.5 262.2 66.8 255.9T69.3 258.6 71.8 272.2 74.3 276.9 76.8 274.6 79.3 267.3 81.8 262.3 84.3 263.7 86.8 269.6 89.4 275.3 91.9 274.2 94.4 272.1 96.9 273.4 99.4 271 101.9 265.5 104.4 267.4 106.9 273.3 109.5 274.5 112 271.5 114.5 269.3 117 267.7 119.5 265.1 122 267.4 124.5 272.1 127 271.7 129.5 266.3 132.1 265.4 134.6 269.7 137.1 270.8 139.6 268.2 142.1 267.6 144.6 271.7 147.1 270.7 149.6 265.1 152.2 261.3 154.7 262.6 157.2 268.8 159.7 273.2 162.2 269.7 164.7 264.2 167.2 268.1 169.7 272.6 172.2 270.6 174.8 269.4 177.3 270 179.8 271.8 182.3 273.3 184.8 271.3 187.3 273.1 189.8 274.8 192.3 273.7 194.9 274.2 197.4 274.4 199.9 273.9 202.4 273.5 204.9 274.2 207.4 276.1 209.9 277.8 212.4 275.5 214.9 271.5 217.5 269.9 220 265.6 222.5 264.3 225 269.6 227.5 274.6 230 277.7 232.5 277.7 235 277.5 237.6 277.8 240.1 277.7 242.6 275.4 245.1 268.6 247.6 265.7 250.1 270.9 252.6 275.7 255.1 270.4 257.7 261.8 260.2 268.1 262.7 277 265.2 276.4 267.7 271.8 270.2 273.2 272.7 277.7 275.2 277.2 277.7 274.3 280.3 269.9 282.8 270.1 285.3 269.4 287.8 268.2 290.3 271.8 292.8 270.4 295.3 261.3 297.8 255.6 300.4 257.5 302.9 259.9 305.4 263.5 307.9 266 310.4 261.2 312.9 263.5 315.4 273.9 317.9 277.7 320.4 277.7 323 278 325.5 277.4 328 277.4 330.5 277.7 333 277.3 335.5 276 338 272.2 340.5 266.5 343.1 259.6 345.6 256.4 348.1 264.4 350.6 274.3 353.1 272.9 355.6 268.6" stroke="#A2142F" stroke-width="0.8" stroke-dasharray="8 3.5"/>
<polyline points="380.4,119.8 380.1,120 379.7,120.5 379.4,121.1 379.1,121.8 378.7,122.6 378.4,123.7 378,125.2 377.7,127.1 377.4,129.4 377,132.5 376.7,136.7 376.3,141.6 376,146.5 375.7,151.5 375.3,156.4 375,161.3 374.6,166.2 374.3,170.9 374,175.3 373.5,181.3 372.8,190.4 371.8,202 370.7,215.4 369.4,228.1 368.2,237.9 366.9,244 365.7,245.7 364.4,247.1 363.1,252.3 361.9,258.9 360.6,264.7 359.4,268.4 358.1,269 356.9,268.5 355.6,268.6" stroke="#A2142F" stroke-width="0.9" stroke-dasharray="8 3.5" stroke-dashoffset="4"/>
<polyline points="380.4,119.8 380.8,120.4 381.1,121.5 381.4,123.1 381.8,125 382.1,126.9 382.5,128.9 382.8,131.2 383.1,133.7 383.5,136.8 383.8,140 384.2,143.1 384.5,146.6 384.8,150.8 385.2,155.4 385.5,159.9 385.9,164.4 386.2,168.8 386.5,173.2 386.9,177.6 387.4,184.8 388.4,197.3 389.5,211.3 390.8,222.6 392,232.6 393.3,242.4 394.5,252 395.8,261.6 397.1,268.2 398.3,269.1 399.6,266.1 400.8,261.3 402.1,256.4 403.3,253.1 404.6,252.4 405.8,255.2 407.1,259.3 408.4,262.4" stroke="#A2142F" stroke-width="0.9" stroke-dasharray="8 3.5" stroke-dashoffset="4"/>
<path d="M408.4 262.4Q409.6 264.9 410.9 265.8T413.4 263.7 415.9 257 418.4 258.7 420.9 268.1 423.4 270.3 425.9 265.8 428.5 268.7 431 275.6 433.5 274.9 436 270.4 438.5 270.6 441 273.7 443.5 272.6 446 269.4 448.6 268.7 451.1 273.1 453.6 276.9 456.1 277.1 458.6 273.1 461.1 269.5 463.6 270.3 466.1 272 468.6 275.6 471.2 277.5 473.7 276.2 476.2 270.5 478.7 267.2 481.2 269.7 483.7 270.3 486.2 264.7 488.7 264.3 491.3 273.4 493.8 276.3 496.3 272 498.8 268 501.3 268.2 503.8 268.9 506.3 268.3 508.8 269.3 511.3 270.9 513.9 269.9 516.4 267.1 518.9 267.6 521.4 268.4" stroke="#A2142F" stroke-width="0.8" stroke-dasharray="8 3.5"/>
<path d="M64.2 265.9Q65.5 262.7 66.8 267.2T69.3 274.8 71.8 277.4 74.3 272.5 76.8 267.2 79.3 267.1 81.8 268.7 84.3 271.8 86.8 275.8 89.4 277.3 91.9 272.4 94.4 258 96.9 245.4 99.4 256.5 101.9 273.6 104.4 276.2 106.9 272.2 109.5 271.1 112 269.9 114.5 262.9 117 263.4 119.5 269.9 122 274.5 124.5 276.9 127 277.6 129.5 276.2 132.1 273.7 134.6 273.2 137.1 270.3 139.6 267.9 142.1 271.7 144.6 276.3 147.1 277.6 149.6 274.4 152.2 265.1 154.7 264.3 157.2 270.6 159.7 271.6 162.2 269.4 164.7 267.5 167.2 271.9 169.7 276.3 172.2 276.3 174.8 271.2 177.3 267.6 179.8 269.2 182.3 273.3 184.8 277.5 187.3 275.4 189.8 271.5 192.3 272.5 194.9 274.4" stroke="#D95319" stroke-width="0.8" stroke-dasharray="8 3.5"/>
<polyline points="217.2,72.9 216.9,73 216.6,74.1 216.2,76 215.9,78.3 215.5,81.2 215.2,85 214.9,89.5 214.5,94.9 214.2,101.1 213.8,108.1 213.5,115.4 213.2,122.3 212.8,129 212.5,135.6 212.1,142.1 211.8,148.5 211.5,154.9 211.1,161.3 210.8,167.7 210.4,174.2 210,182.3 209.4,193.8 208.5,208.7 207.4,227.1 206.2,244.1 204.9,255 203.6,261.8 202.4,267 201.1,270.3 199.9,271.6 198.6,272.1 197.4,273 196.1,274 194.9,274.4" stroke="#D95319" stroke-width="0.9" stroke-dasharray="8 3.5" stroke-dashoffset="4"/>
<polyline points="217.2,72.9 217.6,73.5 217.9,74.9 218.3,76.9 218.6,79.6 218.9,83.3 219.3,87.8 219.6,93.3 220,99.7 220.3,106.5 220.6,113.4 221,120.2 221.3,126.9 221.7,133.3 222,139.7 222.3,146 222.7,152.3 223,158.6 223.4,164.8 223.9,174.9 225,192.7 226.2,213.7 227.5,233.4 228.8,250.3 230,262.7 231.3,270.6 232.5,274.3 233.8,274.5 235,272.3 236.3,270.2 237.6,270.8 238.8,272.7 240.1,274.6 241.3,275.6 242.6,274.6 243.8,272.5 245.1,270.4 246.3,268.6 247.6,267.8" stroke="#D95319" stroke-width="0.9" stroke-dasharray="8 3.5" stroke-dashoffset="4"/>
<path d="M247.6 267.8Q248.9 267.4 250.1 268.2T252.6 272.1 255.1 275.2 257.7 274.6 260.2 275.5 262.7 277.4 265.2 277.8 267.7 277.1 270.2 268.7 272.7 254.5 275.2 248.6 277.7 255.8 280.3 266.1 282.8 268.5 285.3 268.2 287.8 269.7 290.3 273.4 292.8 275.8 295.3 270.7 297.8 261.1 300.4 257.5 302.9 250.4 305.4 243.1 307.9 258.2 310.4 274.1 312.9 276.8 315.4 276.5 317.9 275.2 320.4 272.7 323 266.8 325.5 262.3 328 264.6 330.5 268.9 333 270.2 335.5 269.6 338 268.3 340.5 268.3 343.1 270.1 345.6 273.3 348.1 270.6 350.6 260.5 353.1 262.2 355.6 272.3 358.1 271.8 360.6 272.7 363.1 277 365.7 277.1 368.2 272.5 370.7 266.2 373.2 261.9 375.7 262 378.2 269.2 380.7 275.5 383.2 277 385.8 274.2 388.3 270.7 390.8 273.3 393.3 276.5 395.8 275.6 398.3 275.8 400.8 277.1 403.3 277.2 405.8 274.5 408.4 274.6 410.9 277.4 413.4 277.7 415.9 277.1 418.4 273.7 420.9 270.4 423.4 269.3 425.9 268.6 428.5 269.6 431 268.2 433.5 263.7 436 263 438.5 265 441 267.7 443.5 268.9 446 269.1 448.6 272.7 451.1 274.6 453.6 274.4 456.1 274.4 458.6 272.1 461.1 268.7 463.6 269 466.1 272.2 468.6 275.2 471.2 274 473.7 268.1 476.2 265 478.7 266.9 481.2 271.5 483.7 275.3 486.2 276.1 488.7 276.9 491.3 277.6 493.8 274 496.3 270.8 498.8 269.1 501.3 270.6 503.8 273.6 506.3 274.5 508.8 274.8 511.3 274.8 513.9 274.2 516.4 272.9 518.9 272.5 521.4 269.8" stroke="#D95319" stroke-width="0.8" stroke-dasharray="8 3.5"/>
<path d="M64.2 271.2Q65.5 277.2 66.8 277.6T69.3 274.9 71.8 261.9 74.3 254.4 76.8 265.7 79.3 274.6 81.8 271.9 84.3 268.3 86.8 267.5 89.4 271.5 91.9 276.3 94.4 273 96.9 267.9 99.4 272.1 101.9 277.1 104.4 277.3 106.9 277.9 109.5 276.9 112 275.5 114.5 272.8 117 270.8 119.5 270.4 122 268.7 124.5 270.4 127 274.1 129.5 273.4 132.1 272.9 134.6 271.1 137.1 270.3 139.6 273.5 142.1 271.8 144.6 268.1 147.1 268.9 149.6 273.8 152.2 277.1 154.7 273.9 157.2 269.5 159.7 268.1 162.2 265.7 164.7 265.2 167.2 264.5 169.7 261 172.2 263.3 174.8 268.1 177.3 267.8 179.8 265.9 182.3 267 184.8 270.8 187.3 269.9 189.8 263 192.3 264 194.9 269.9 197.4 270.8 199.9 270.8 202.4 274 204.9 271.2 207.4 265.4 209.9 267.7 212.4 268.7 214.9 264.5 217.5 263 220 263.2 222.5 261 225 262.6 227.5 263.1 230 258.3 232.5 260.6 235 268.3 237.6 266.5 240.1 257.7 242.6 260.1 245.1 267.3 247.6 266.7 250.1 265.8 252.6 268.4 255.1 269.1 257.7 260.4 260.2 258.3 262.7 266.8 265.2 269.1 267.7 266.5 270.2 265.7 272.7 270.9 275.2 273.9 277.7 270.2 280.3 272.5 282.8 276.7 285.3 273.5 287.8 270.3 290.3 271.2" stroke="#77AC30" stroke-width="0.8" stroke-dasharray="8 3.5"/>
<polyline points="314.6,41.1 314.3,41.7 314,43 313.6,45 313.3,47.5 312.9,50.7 312.6,54.5 312.3,58.9 311.9,64.2 311.6,70.4 311.2,77.4 310.9,84.6 310.5,92 310.2,99.5 309.9,107.1 309.5,114.8 309.2,122.4 308.8,129.9 308.5,137.4 308.2,144.8 307.8,153.7 307.2,165.2 306.5,179.6 305.4,196.8 304.1,214 302.9,228.4 301.6,241.6 300.4,254.9 299.1,265.8 297.8,271.7 296.6,274 295.3,274.2 294.1,273.3 292.8,272.6 291.6,272 290.3,271.2" stroke="#77AC30" stroke-width="0.9" stroke-dasharray="8 3.5" stroke-dashoffset="4"/>
<polyline points="314.6,41.1 315,41.5 315.3,42.8 315.7,44.8 316,47.5 316.3,51 316.7,55.2 317,59.7 317.4,64.8 317.7,70.6 318,76.7 318.4,82.7 318.7,88.7 319.1,94.9 319.4,101.6 319.7,108.9 320.1,116.5 320.4,124.1 320.8,131.6 321.1,139.2 321.7,152.2 322.8,176.5 324.2,203.3 325.5,224.3 326.7,238.6 328,245.7 329.2,249.4 330.5,253.6 331.8,258.7 333,265.4 334.3,271.6 335.5,274.9 336.8,276 338,275.2 339.3,271.4 340.5,263.3 341.8,255.2 343.1,251.8" stroke="#77AC30" stroke-width="0.9" stroke-dasharray="8 3.5" stroke-dashoffset="4"/>
<path d="M343.1 251.8Q344.3 250.7 345.6 257.8T348.1 271.5 350.6 277.5 353.1 277.5 355.6 277.9 358.1 276.9 360.6 276 363.1 273.7 365.7 271.9 368.2 272.7 370.7 270.3 373.2 267.2 375.7 268.4 378.2 271.5 380.7 274.9 383.2 277.3 385.8 277.9 388.3 278 390.8 273 393.3 262.2 395.8 261.7 398.3 271.8 400.8 277.2 403.3 277.9 405.8 276.2 408.4 273.1 410.9 271.2 413.4 268.9 415.9 264.7 418.4 264.8 420.9 270.6 423.4 272.4 425.9 272.4 428.5 272.2 431 268.7 433.5 264.4 436 265.3 438.5 270.2 441 271.3 443.5 269.1 446 268 448.6 269.2 451.1 266.7 453.6 258 456.1 252.6 458.6 256.9 461.1 265.8 463.6 271.3 466.1 272.6 468.6 274.1 471.2 272.1 473.7 271.4 476.2 273.6 478.7 274.4 481.2 273.1 483.7 268.9 486.2 267.9 488.7 271.7 491.3 274 493.8 271 496.3 269 498.8 269.3 501.3 270.2 503.8 274.3 506.3 274.5 508.8 266.2 511.3 258.7 513.9 261.5 516.4 268.4 518.9 267.9 521.4 263.2" stroke="#77AC30" stroke-width="0.8" stroke-dasharray="8 3.5"/>
<path d="M64.2 277.3Q65.5 277.2 66.8 277.1T69.3 276.9 71.8 277.1 74.3 275.1 76.8 270.1 79.3 267.9 81.8 261.8 84.3 252.1 86.8 250.1 89.4 253.3 91.9 261.1 94.4 269.5 96.9 269.2 99.4 264.3 101.9 265.3 104.4 272.2 106.9 276.4 109.5 273.7 112 270.9 114.5 273.9 117 274.5 119.5 269.7 122 267.7 124.5 266.7 127 266.9 129.5 272.7 132.1 276.1 134.6 271.3 137.1 262.8 139.6 261.9 142.1 270.9 144.6 275.5 147.1 269 149.6 258 152.2 254.5 154.7 265.2 157.2 275.5 159.7 277.2 162.2 274.8 164.7 273.5 167.2 269.7 169.7 262.3 172.2 265.6 174.8 274.1 177.3 276.7 179.8 274.6 182.3 275.1 184.8 277 187.3 273.6 189.8 268.1 192.3 266.2 194.9 268.1" stroke="#D95319" stroke-width="0.8" stroke-dasharray="8 3.5"/>
<polyline points="215.1,81.6 214.8,82.3 214.5,83.8 214.1,85.8 213.8,88.1 213.4,90.5 213.1,93 212.8,95.8 212.4,99.2 212.1,103.4 211.7,108.4 211.4,113.7 211.1,119.3 210.7,124.9 210.4,130.5 210,136.1 209.7,141.7 209.4,147.2 209,152.7 208.7,158.2 208.3,163.8 207.9,171.8 207.1,184.5 206.1,200.3 204.9,217.8 203.6,234.5 202.4,247.6 201.1,257.6 199.9,264.4 198.6,268.3 197.4,269.5 196.1,269 194.9,268.1" stroke="#D95319" stroke-width="0.9" stroke-dasharray="8 3.5" stroke-dashoffset="4"/>
<polyline points="215.1,81.6 215.5,81.7 215.8,82.3 216.2,83.7 216.5,86.1 216.8,89.4 217.2,93.4 217.5,98 217.9,103.4 218.2,109 218.5,114.7 218.9,120.1 219.2,125.3 219.6,130.3 219.9,135.2 220.2,140.1 220.6,145 220.9,149.9 221.3,155.2 221.8,163.8 222.7,178.7 223.8,195.8 225,211 226.3,224.3 227.5,235.8 228.8,246.5 230,257.1 231.3,265.6 232.5,269.9 233.8,271.5 235,272.1 236.3,272.5 237.6,273.5 238.8,274.9 240.1,276.4 241.3,277.5 242.6,277.7 243.8,277.3 245.1,276.6 246.3,276.2 247.6,276.4" stroke="#D95319" stroke-width="0.9" stroke-dasharray="8 3.5" stroke-dashoffset="4"/>
<path d="M247.6 276.4Q248.9 277.1 250.1 276.9T252.6 276.7 255.1 271 257.7 261.4 260.2 257.6 262.7 266.3 265.2 276.5 267.7 277.5 270.2 277.1 272.7 276.6 275.2 276.3 277.7 275.5 280.3 272.6 282.8 268.2 285.3 259.6 287.8 259.6 290.3 270.7 292.8 273.7 295.3 274.8 297.8 277.6 300.4 277.1 302.9 276.6 305.4 271.9 307.9 270.4 310.4 275.4 312.9 277.3 315.4 274.4 317.9 269.2 320.4 271.8 323 277.4 325.5 276.7 328 276.6 330.5 276.3 333 270.4 335.5 268 338 273.2 340.5 276.8 343.1 277.1 345.6 276.8 348.1 272.8 350.6 263.8 353.1 260.8 355.6 268.7 358.1 275.1 360.6 275 363.1 275.6 365.7 277.1 368.2 277.1 370.7 277.4 373.2 277.4 375.7 277 378.2 277.4 380.7 277.9 383.2 277.4 385.8 276.8 388.3 276.9 390.8 273.4 393.3 270.6 395.8 273.4 398.3 275.8 400.8 276.7 403.3 276.7 405.8 271.8 408.4 267.4 410.9 268.7 413.4 268.6 415.9 269.9 418.4 270.9 420.9 271 423.4 273.7 425.9 274 428.5 274.9 431 275.1 433.5 273.7 436 271.3 438.5 265.4 441 264.8 443.5 270.5 446 273.6 448.6 274.9 451.1 277 453.6 278 456.1 275.5 458.6 272.9 461.1 274.8 463.6 275.7 466.1 272.1 468.6 271 471.2 273.2 473.7 272.7 476.2 272.6 478.7 271.2 481.2 267.8 483.7 271.9 486.2 275.1 488.7 271.8 491.3 270.8 493.8 273.7 496.3 276.5 498.8 277.4 501.3 275.3 503.8 271.9 506.3 273.2 508.8 276.4 511.3 276.5 513.9 274.4 516.4 272.4 518.9 272.1 521.4 273.5" stroke="#D95319" stroke-width="0.8" stroke-dasharray="8 3.5"/>
<path d="M64.2 261.4Q65.5 264.3 66.8 263.5T69.3 265.3 71.8 269.6 74.3 269.7 76.8 272 79.3 276.9 81.8 277.6 84.3 277.2 86.8 272.1 89.4 262.3 91.9 260.6 94.4 266.8 96.9 273.7 99.4 277.2 101.9 274.4 104.4 266.1 106.9 264.4 109.5 271.5 112 276 114.5 277 117 274.3 119.5 272.2 122 272.1 124.5 270.1 127 269.3 129.5 274 132.1 277.3 134.6 273.2 137.1 269 139.6 272 142.1 274.6 144.6 275.8 147.1 275.2 149.6 270.3 152.2 272.9 154.7 276.5 157.2 275.3 159.7 275.9 162.2 274.1 164.7 274.2 167.2 277.1 169.7 277.3 172.2 273.4 174.8 266.3 177.3 261.9 179.8 265.9 182.3 271.9 184.8 269.4 187.3 267.7 189.8 266.6 192.3 259.5 194.9 261.2 197.4 272.1 199.9 277 202.4 276.8 204.9 273.4 207.4 271.1 209.9 270 212.4 268 214.9 268.9 217.5 271.2 220 272.5 222.5 268.2 225 263.5 227.5 263.4 230 270.2 232.5 276.6 235 273.5 237.6 272.6 240.1 274.6 242.6 274.1 245.1 274.1 247.6 275.4 250.1 277.4 252.6 278 255.1 276.3 257.7 273 260.2 266.2 262.7 262 265.2 262.9 267.7 266.1 270.2 269.3 272.7 272.5 275.2 276.4 277.7 276.3 280.3 271.5 282.8 262.5 285.3 266.1 287.8 275.6 290.3 273.1 292.8 270.1 295.3 269.9 297.8 268.3 300.4 269.9 302.9 274.9 305.4 277.2 307.9 275.7 310.4 271.2 312.9 267.4 315.4 265.7 317.9 267.8 320.4 272 323 275 325.5 277.3 328 276 330.5 273.1 333 271.4 335.5 273.7 338 276.7 340.5 277.4 343.1 277.8 345.6 277.3 348.1 275.4 350.6 271.6 353.1 269.5 355.6 269.5" stroke="#A2142F" stroke-width="0.85"/>
<path d="M355.6 269.5Q356.9 269.5 358.1 271.4T360.6 274.8 363.1 274.2 365.7 265.8 368.2 246.4 370.5 220.2 371.9 203.9 372.6 198.5 373.3 194.1 374 189.9 374.7 184.8 375.3 178.8 376 172.6 376.7 166.8 377.4 162.3 378.1 159.9 378.7 159.8 379.4 161.8 380.1 165.1 380.8 169.3 381.5 173.9 382.1 179.1 382.8 185.4 383.5 192.1 384.2 198.9 384.9 205.9 386.1 218.6 388.3 240.8 390.8 256.2 393.3 257 395.8 261.4 398.3 269.4 400.8 273.7 403.3 275.9 405.8 270.7 408.4 259.3" stroke="#A2142F" stroke-width="1.1"/>
<path d="M408.4 259.3Q409.6 252.8 410.9 258.2T413.4 262.9 415.9 267.4 418.4 273.9 420.9 274.6 423.4 270.1 425.9 267.1 428.5 267.9 431 265.4 433.5 263.6 436 268.1 438.5 272.2 441 272.1 443.5 271.4 446 273 448.6 270.8 451.1 269.7 453.6 275 456.1 276.4 458.6 275.4 461.1 273.9 463.6 271.1 466.1 269.8 468.6 273.5 471.2 274.1 473.7 269.9 476.2 271.2 478.7 271.6 481.2 268.8 483.7 272.1 486.2 276.4 488.7 276 491.3 273.1 493.8 268.6 496.3 267.5 498.8 268.5 501.3 268.5 503.8 270.6 506.3 275.1 508.8 277.2 511.3 274.8 513.9 272.5 516.4 271.5 518.9 269.7 521.4 268.7" stroke="#A2142F" stroke-width="0.85"/>
<path d="M64.2 273.7Q65.5 273.6 66.8 275.2T69.3 275.1 71.8 271.9 74.3 268.5 76.8 266.3 79.3 261.9 81.8 255.4 84.3 261.1 86.8 272 89.4 272.9 91.9 270.8 94.4 271.4 96.9 272.5 99.4 271.5 101.9 272.3 104.4 275.6 106.9 276.5 109.5 272.2 112 266.8 114.5 269.6 117 273.9 119.5 271.4 122 270.2 124.5 271.4 127 269 129.5 266.9 132.1 269.3 134.6 273.5 137.1 272.3 139.6 271 142.1 271.5 144.6 263.9 147.1 260.8 149.6 270.1 152.2 276.3 154.7 276.3 157.2 276.7 159.7 277.8 162.2 273.9 164.7 267.4 167.2 267.1 169.7 270.7 172.2 271.1 174.8 269.9 177.3 273.1 179.8 276.4 182.3 275.1 184.8 271.2 187.3 270.1 189.8 274.5 192.3 275.7 194.9 269.7 197.4 269.1 199.9 273.1 202.4 272.8 204.9 269.1 207.4 268.3 209.9 273.3 212.4 277.2 214.9 275.8 217.5 270 220 267.6 222.5 271.1 225 270.1 227.5 268.7" stroke="#EDB120" stroke-width="0.85"/>
<path d="M227.5 268.7Q228.8 270.7 230 271.5T232.5 266 235 245.7 237.6 214.3 240.1 178.5 241.8 154.5 242.5 144.2 243.1 134.1 243.8 124.6 244.5 116 245.2 108 245.9 100 246.5 92 247.2 85.5 247.9 82 248.6 81.8 249.3 84.9 249.9 90.9 250.6 99.2 251.3 108.2 252 117.5 252.7 127 253.3 136.6 254 145.8 254.7 154.3 255.7 166.6 257.7 193.3 260.2 227.1 262.7 250.3 265.2 260.2 267.7 267.2 270.2 274.6 272.7 277 275.2 277.4 277.7 277.2" stroke="#EDB120" stroke-width="1.1"/>
<path d="M277.7 277.2Q279 276.7 280.3 274.5T282.8 271.4 285.3 266.9 287.8 263.9 290.3 267.2 292.8 270.4 295.3 269.6 297.8 270.8 300.4 273.4 302.9 270.1 305.4 263.8 307.9 258.9 310.4 264.7 312.9 274.6 315.4 273.3 317.9 266.1 320.4 264.4 323 261.2 325.5 257 328 264.8 330.5 275 333 277.3 335.5 273.3 338 267.6 340.5 267.5 343.1 273.7 345.6 278 348.1 277.8 350.6 277.7 353.1 278 355.6 277.7 358.1 276.3 360.6 271.9 363.1 268.1 365.7 269.6 368.2 273.4 370.7 273.4 373.2 270.6 375.7 270.6 378.2 272.2 380.7 273.4 383.2 274.7 385.8 275 388.3 275.1 390.8 273.6 393.3 274.3 395.8 276 398.3 274.9 400.8 269.4 403.3 265 405.8 270.3 408.4 275.8 410.9 277.3 413.4 275.6 415.9 268.6 418.4 260.9 420.9 264.3 423.4 269.9 425.9 270.3 428.5 270.5 431 267.9 433.5 266.6 436 268.1 438.5 270.4 441 271.6 443.5 270.4 446 269.2 448.6 272.7 451.1 277.1 453.6 277.9 456.1 277.5 458.6 275.7 461.1 269.6 463.6 260.6 466.1 260.3 468.6 268.9 471.2 274.3 473.7 275 476.2 272.4 478.7 267.1 481.2 265.3 483.7 266.8 486.2 270.9 488.7 276 491.3 277.2 493.8 275.4 496.3 271 498.8 267.1 501.3 268.5 503.8 271 506.3 270 508.8 268.1 511.3 269.6 513.9 272.9 516.4 271.3 518.9 268.2 521.4 269.7" stroke="#EDB120" stroke-width="0.85"/>
<path d="M64.2 269.7Q65.5 267.9 66.8 268T69.3 266.3 71.8 263.5 74.3 263.1 76.8 268.9 79.3 272.4 81.8 267 84.3 264.2 86.8 271.8 89.4 277.4 91.9 277.3 94.4 275.7 96.9 272.6 99.4 269.6 101.9 264.1 104.4 261.9 106.9 265.4 109.5 262.6 112 251.2 114.5 254.9 117 266.9 119.5 269.4 122 269.3 124.5 270.1 127 271.7 129.5 273.9 132.1 271.5 134.6 261.1 137.1 263.4 139.6 272.7 142.1 271.5 144.6 273.1 147.1 276.9 149.6 277 152.2 273.8 154.7 267 157.2 265.2 159.7 267.1 162.2 265.4 164.7 264.3 167.2 260.4 169.7 256 172.2 260.8 174.8 263 177.3 261.9 179.8 266.2 182.3 268.7 184.8 267.9 187.3 272.5 189.8 277.5 192.3 269.8 194.9 256.4 197.4 255.4 199.9 263.9 202.4 272.1 204.9 277.2 207.4 277.3 209.9 275.1 212.4 272.3 214.9 272 217.5 272.3 220 271 222.5 267.6 225 261.7 227.5 257.4 230 257.5 232.5 264 235 273.3 237.6 276.9 240.1 277.3 242.6 273.5 245.1 267.7 247.6 268.1 250.1 272.4 252.6 275.9 255.1 276.9 257.7 276.7 260.2 276.8 262.7 277.4 265.2 274.2 267.7 270.5 270.2 268.5 272.7 260.9 275.2 255.9 277.7 261.5 280.3 264.7 282.8 262.7 285.3 264.9 287.8 269 290.3 272.2 292.8 273.2 295.3 273.3 297.8 273.4 300.4 270.6 302.9 267.3 305.4 268.2 307.9 271.6 310.4 270.2 312.9 259.9 315.4 259.2 317.9 269 320.4 274.2 323 276.4 325.5 276.9 328 275.9 330.5 269 333 259.4 335.5 259.5 338 265.2 340.5 267.8 343.1 270.7 345.6 270.5 348.1 266.9 350.6 266.5 353.1 270.6 355.6 272.8" stroke="#A2142F" stroke-width="0.8" stroke-dasharray="8 3.5"/>
<polyline points="376.6,103.8 376.3,104.7 376,106.7 375.6,109.2 375.3,112.2 374.9,115.7 374.6,119.4 374.3,123 373.9,126.7 373.6,130.7 373.2,135.3 372.9,140.4 372.6,145.8 372.2,151.3 371.9,156.5 371.5,161.2 371.2,165.6 370.9,170.1 370.5,174.5 370.2,179 369.8,183.5 369.5,188.1 369,195.7 368,209 366.9,223.9 365.7,236 364.4,246.1 363.1,254.7 361.9,261.3 360.6,265.3 359.4,267.9 358.1,270.4 356.9,272.1 355.6,272.8" stroke="#A2142F" stroke-width="0.9" stroke-dasharray="8 3.5" stroke-dashoffset="4"/>
<polyline points="376.6,103.8 377,104.2 377.3,105.8 377.7,108.8 378,112.5 378.3,116.8 378.7,121.7 379,127.1 379.4,132.9 379.7,138.8 380.1,144.8 380.4,150.7 380.7,156.6 381.1,162.5 381.4,168.3 381.8,174 382.1,179.2 382.4,183.8 382.9,189.6 383.6,198.8 384.6,210.2 385.8,222.6 387,234.4 388.3,243.9 389.5,251.6 390.8,258.2 392,263.1 393.3,265.8 394.5,268.2 395.8,272.2 397.1,275.7 398.3,276.8 399.6,276.1 400.8,274.2 402.1,272.1 403.3,270.8 404.6,270 405.8,269.3 407.1,269.1 408.4,269.8" stroke="#A2142F" stroke-width="0.9" stroke-dasharray="8 3.5" stroke-dashoffset="4"/>
<path d="M408.4 269.8Q409.6 271 410.9 272.5T413.4 274 415.9 270.3 418.4 263.2 420.9 258.9 423.4 260.3 425.9 265.4 428.5 270 431 271.4 433.5 272.1 436 275.1 438.5 277 441 274.6 443.5 268.7 446 261.7 448.6 259.5 451.1 265.9 453.6 271.5 456.1 273.2 458.6 274.6 461.1 274.2 463.6 271.5 466.1 269.8 468.6 272.6 471.2 275.2 473.7 273.7 476.2 268 478.7 262.3 481.2 265.9 483.7 271.9 486.2 270.5 488.7 267.9 491.3 270.7 493.8 273.6 496.3 272.8 498.8 272.1 501.3 269.3 503.8 267.5 506.3 270.2 508.8 272.7 511.3 271.8 513.9 272.8 516.4 276 518.9 275.7 521.4 274.8" stroke="#A2142F" stroke-width="0.8" stroke-dasharray="8 3.5"/>
<path d="M64.2 272Q65.5 271.2 66.8 270.9T69.3 269 71.8 269.8 74.3 273.2 76.8 272.9 79.3 272.5 81.8 273.2 84.3 275.4 86.8 277.4 89.4 275 91.9 272.9 94.4 270.1 96.9 268.5 99.4 272.1 101.9 275.7 104.4 274.7 106.9 273.6 109.5 275.9 112 275.6 114.5 272.4 117 274.2 119.5 277.4 122 277.8 124.5 276.4 127 273.1 129.5 269.6 132.1 262.2 134.6 261.6 137.1 270.3 139.6 275.6 142.1 274.3 144.6 269.3 147.1 268.4 149.6 265.1 152.2 265.2 154.7 271 157.2 273.5 159.7 276.1 162.2 277.7 164.7 278 167.2 277.8 169.7 274.8 172.2 274 174.8 273.5 177.3 264.3 179.8 264.7 182.3 274.7 184.8 277.6 187.3 276 189.8 270.3 192.3 267.1 194.9 272.7 197.4 277 199.9 271.4 202.4 266.7 204.9 269.9 207.4 270.6 209.9 261.6 212.4 255.6 214.9 257.1 217.5 266.4 220 275.8 222.5 276.1 225 275.6 227.5 274.3 230 274.2 232.5 275.7 235 276.9 237.6 277.7 240.1 274.1 242.6 270.5 245.1 273.8 247.6 277.6 250.1 275.9 252.6 274.5 255.1 271.5 257.7 263.8 260.2 263.7 262.7 271.6 265.2 270.2 267.7 264 270.2 267.7 272.7 272.1 275.2 266.9 277.7 263.6 280.3 265.1 282.8 262.6 285.3 256.9 287.8 246.3 290.3 244 292.8 257.8 295.3 268.4 297.8 270.1 300.4 268.7 302.9 270.3 305.4 271.7 307.9 273.6 310.4 276.7 312.9 272.8 315.4 267.4 317.9 267.5 320.4 270.6 323 272.1 325.5 269.1" stroke="#4DBEEE" stroke-width="0.8" stroke-dasharray="8 3.5"/>
<polyline points="342.1,70.1 341.7,71.1 341.4,73 341,75.8 340.7,79.1 340.4,83 340,87.5 339.7,92.6 339.3,98.4 339,104.6 338.7,110.8 338.3,117.1 338,123.3 337.6,129.6 337.3,135.9 337,142 336.6,147.8 336.3,153.4 335.9,158.8 335.5,165.5 334.9,174.8 334.1,185.9 333,198.5 331.8,212.1 330.5,226.6 329.2,240.8 328,253.8 326.7,263.8 325.5,269.1" stroke="#4DBEEE" stroke-width="0.9" stroke-dasharray="8 3.5" stroke-dashoffset="4"/>
<polyline points="342.1,70.1 342.4,70.2 342.7,71.2 343.1,73 343.4,75.4 343.8,78.5 344.1,82.3 344.4,86.8 344.8,91.9 345.1,97.7 345.5,104.3 345.8,111.2 346.1,118 346.5,124.7 346.8,131.2 347.2,137.4 347.5,143.3 347.8,149 348.2,154.7 348.5,160.4 348.9,166 349.4,174.8 350.5,190.3 351.8,208.5 353.1,225.9 354.4,240.8 355.6,252 356.9,258.8 358.1,260.8 359.4,260.7 360.6,261.3 361.9,262.5 363.1,264.3 364.4,266.6 365.7,269.1 366.9,270.6 368.2,269.9 369.4,268.7 370.7,268.8 371.9,269.9 373.2,271.7 374.5,273.7 375.7,275.4" stroke="#4DBEEE" stroke-width="0.9" stroke-dasharray="8 3.5" stroke-dashoffset="4"/>
<path d="M375.7 275.4Q377 276.9 378.2 276.8T380.7 275.8 383.2 273.1 385.8 268.8 388.3 259.7 390.8 257.1 393.3 264.7 395.8 270.5 398.3 274.9 400.8 276.9 403.3 275.4 405.8 274.4 408.4 266.9 410.9 259.1 413.4 265.7 415.9 268.2 418.4 259.8 420.9 256.1 423.4 257.5 425.9 259.5 428.5 266.5 431 272.7 433.5 271.1 436 270.6 438.5 273.7 441 271.7 443.5 266.7 446 267.3 448.6 268.6 451.1 269 453.6 273.3 456.1 277 458.6 276.7 461.1 275.7 463.6 276.5 466.1 277.7 468.6 273.5 471.2 267 473.7 267.4 476.2 266.8 478.7 261.9 481.2 260.4 483.7 261.9 486.2 265.9 488.7 268.9 491.3 273 493.8 276.3 496.3 272.9 498.8 269.8 501.3 273.9 503.8 277.6 506.3 274.5 508.8 269.9 511.3 267.8 513.9 269.8 516.4 273.1 518.9 270.6 521.4 266.1" stroke="#4DBEEE" stroke-width="0.8" stroke-dasharray="8 3.5"/>
<path d="M64.2 271.6Q65.5 273.6 66.8 274.3T69.3 272.1 71.8 271.2 74.3 274.9 76.8 276.8 79.3 276.8 81.8 274.2 84.3 267.3 86.8 261.4 89.4 258.3 91.9 259 94.4 266.3 96.9 269.3 99.4 261.2 101.9 256.2 104.4 266.7 106.9 276.4 109.5 274.7 112 273.6 114.5 275.2 117 274.8 119.5 275.5 122 277.8 124.5 276.9 127 272.8 129.5 267.9 132.1 265.4 134.6 266.9 137.1 271.3 139.6 275.6 142.1 277.7 144.6 276.3 147.1 270.4 149.6 263.2 152.2 259 154.7 264.6 157.2 274 159.7 272.8 162.2 268.3 164.7 272.3 167.2 277.5 169.7 275.4 172.2 271.5 174.8 273.2 177.3 276.5 179.8 277.2 182.3 277.4 184.8 277.6 187.3 276.3 189.8 274.6 192.3 275.8 194.9 277.2 197.4 274 199.9 271.7 202.4 274.7 204.9 276.4 207.4 275.8 209.9 275.9 212.4 275.5 214.9 272.5 217.5 270.2 220 273 222.5 276.6 225 273.5 227.5 267.1" stroke="#EDB120" stroke-width="0.85"/>
<path d="M227.5 267.1Q228.8 264.1 230 268.9T232.5 272.8 235 268.8 237.6 256.5 240.1 234 242.1 213.6 243.2 203.1 243.8 196.2 244.5 188.7 245.2 181.1 245.9 173.5 246.6 166 247.2 158.8 247.9 152.2 248.6 147.5 249.3 145.6 250 146.6 250.6 150 251.3 155.6 252 162.5 252.7 169.9 253.4 177.5 254 185 254.7 192.6 255.4 200.3 256.1 208.1 257.7 225.3 260.2 249.2 262.7 263.9 265.2 267.1 267.7 266.7 270.2 266.8 272.7 268.2 275.2 273.2 277.7 275.3" stroke="#EDB120" stroke-width="1.1"/>
<path d="M277.7 275.3Q279 274.1 280.3 272.8T282.8 273 285.3 275.7 287.8 272.9 290.3 265.2 292.8 262.4 295.3 265.8 297.8 267.3 300.4 263.1 302.9 257.1 305.4 256.8 307.9 263.6 310.4 269.1 312.9 270.2 315.4 270.6 317.9 271.5 320.4 271.2 323 272.6 325.5 275.6 328 274.4 330.5 273.6 333 276.1 335.5 277.4 338 274.6 340.5 271.2 343.1 270.8 345.6 270.2 348.1 270 350.6 270.7 353.1 266.7 355.6 265.3 358.1 265.2 360.6 261.4 363.1 265.4 365.7 272.2 368.2 273.5 370.7 271.2 373.2 271.1 375.7 274 378.2 270.1 380.7 265.9 383.2 268.9 385.8 269.1 388.3 263.9 390.8 254.9 393.3 252 395.8 263.3 398.3 273.3 400.8 275.8 403.3 274.4 405.8 271.1 408.4 268.9 410.9 270.3 413.4 275 415.9 276.3 418.4 269.6 420.9 263.5 423.4 266.3 425.9 268.8 428.5 263.2 431 253.3 433.5 249.3 436 252.6 438.5 257 441 256.6 443.5 252.4 446 252.6 448.6 258.6 451.1 268.3 453.6 271.2 456.1 268.8 458.6 272.4 461.1 276.1 463.6 273 466.1 268.8 468.6 268.9 471.2 271.1 473.7 273.2 476.2 272.3 478.7 271.8 481.2 272.5 483.7 275.1 486.2 277.2 488.7 276.6 491.3 274.2 493.8 274.3 496.3 276.8 498.8 273.7 501.3 268.5 503.8 262.2 506.3 258 508.8 261.8 511.3 268.1 513.9 274.1 516.4 277.5 518.9 276.1 521.4 274.8" stroke="#EDB120" stroke-width="0.85"/>
<path d="M64.2 277.2Q65.5 277.1 66.8 276.6T69.3 274.6 71.8 274.9 74.3 277.4 76.8 277.8 79.3 277.1 81.8 273.9 84.3 270.3 86.8 273.2 89.4 276.8 91.9 273.6 94.4 272.1 96.9 273.9 99.4 272.2 101.9 268.9 104.4 265.8 106.9 265.4 109.5 270.2 112 273.7 114.5 274.8 117 276.6 119.5 277.4 122 274.7 124.5 274.2 127 272.8 129.5 269.3 132.1 269.9 134.6 269.6 137.1 267.3 139.6 266 142.1 268.9 144.6 273 147.1 271.9 149.6 264.5 152.2 262.2 154.7 270.2 157.2 276 159.7 276.5 162.2 274.4 164.7 269.6 167.2 264.7 169.7 268.4 172.2 271.8 174.8 269.5 177.3 272.1 179.8 274.9 182.3 274.8 184.8 272.8 187.3 270.4 189.8 272.3 192.3 271.9 194.9 268.5" stroke="#D95319" stroke-width="0.85"/>
<path d="M194.9 268.5Q196.1 268 197.4 264.6T199.9 259.4 202.4 251.1 204.9 235.2 207.4 213.8 209.2 197.8 210 190.5 210.7 184.5 211.3 177.7 212 170.2 212.7 162.8 213.4 155.8 214.1 148.4 214.7 140.7 215.4 134.7 216.1 130.8 216.8 129.1 217.5 129.6 218.1 132.2 218.8 137.2 219.5 143.8 220.2 151 220.9 158.4 221.5 167.3 222.2 177.8 222.9 188.4 224.7 209.1 227.5 234.9 230 256.7 232.5 268.3 235 262.1 237.6 258 240.1 265.2 242.6 266.5 245.1 261.2 247.6 261.8" stroke="#D95319" stroke-width="1.1"/>
<path d="M247.6 261.8Q248.9 264 250.1 266T252.6 269.8 255.1 274.1 257.7 275.6 260.2 271.8 262.7 267.5 265.2 264.1 267.7 268.4 270.2 276.1 272.7 277.6 275.2 274.3 277.7 270.1 280.3 270.8 282.8 272.5 285.3 270.1 287.8 269.1 290.3 270.5 292.8 272.2 295.3 275 297.8 274.2 300.4 275.2 302.9 277.9 305.4 275.1 307.9 271.9 310.4 270.2 312.9 270.3 315.4 270.7 317.9 265.4 320.4 265 323 272.1 325.5 275.9 328 276.6 330.5 272.7 333 268.5 335.5 269.9 338 273 340.5 273.7 343.1 275.1 345.6 277.1 348.1 276.5 350.6 276 353.1 275.3 355.6 275.2 358.1 274.8 360.6 267.4 363.1 260.8 365.7 261.5 368.2 264.9 370.7 265.7 373.2 263.1 375.7 258.8 378.2 254.9 380.7 260.6 383.2 269.3 385.8 274 388.3 277.4 390.8 277.9 393.3 275.8 395.8 271.7 398.3 270.3 400.8 267.4 403.3 263.4 405.8 265.3 408.4 263.8 410.9 258.1 413.4 262 415.9 269.9 418.4 269.6 420.9 268.7 423.4 271.9 425.9 273 428.5 272.2 431 269.2 433.5 265.4 436 264 438.5 266.3 441 271.2 443.5 272.9 446 270.5 448.6 268.2 451.1 263.6 453.6 264.4 456.1 270.5 458.6 269.6 461.1 267.3 463.6 269 466.1 271.2 468.6 270.4 471.2 268 473.7 267.4 476.2 269.4 478.7 269.9 481.2 268.1 483.7 269.7 486.2 274.6 488.7 276.9 491.3 276.5 493.8 274.9 496.3 271.6 498.8 268.5 501.3 267.6 503.8 269.5 506.3 270 508.8 267.6 511.3 268.3 513.9 269.7 516.4 266.9 518.9 267.9 521.4 274.4" stroke="#D95319" stroke-width="0.85"/>
<path d="M64.2 268.9Q65.5 267.9 66.8 271.6T69.3 273.9 71.8 269.6 74.3 266.3 76.8 266 79.3 265 81.8 267.4 84.3 269.5 86.8 266.4 89.4 268.6 91.9 271.2 94.4 268.3 96.9 267.4 99.4 269.1 101.9 272.4 104.4 273.6 106.9 271.9 109.5 270.2 112 267.6 114.5 261.1 117 255.1 119.5 252.8 122 254.8 124.5 261.4 127 263.8 129.5 263.7 132.1 270.1 134.6 276.8 137.1 277.8 139.6 274.6 142.1 271.8 144.6 272.6 147.1 271.4 149.6 268.9 152.2 270.7 154.7 275.1 157.2 275.4 159.7 271.4 162.2 269.1 164.7 267.9 167.2 266 169.7 268.9 172.2 274.7 174.8 277.5 177.3 277.6 179.8 277.4 182.3 276.5 184.8 276.4 187.3 275.7 189.8 273 192.3 271.3 194.9 272.9 197.4 273.6 199.9 271.6 202.4 274.3 204.9 275.9 207.4 275.2 209.9 276.5 212.4 277.1 214.9 276.7 217.5 275.7 220 274.7 222.5 274.4 225 276.2 227.5 273.1 230 262.4 232.5 262.2 235 271 237.6 272.4 240.1 266.2 242.6 259.1 245.1 267 247.6 277.6 250.1 277.5 252.6 274.7 255.1 273.1 257.7 275.4 260.2 277.4 262.7 277 265.2 275.6 267.7 273.9 270.2 274.6 272.7 276.8 275.2 277.7 277.7 273.4 280.3 269 282.8 267.9 285.3 263.9 287.8 263.4 290.3 270.1 292.8 275.7 295.3 273.3 297.8 268.7 300.4 272.5 302.9 277.2 305.4 275.6 307.9 271.6 310.4 268.7 312.9 271.8 315.4 274.7 317.9 271 320.4 269.8 323 274.3 325.5 277.8 328 275.7 330.5 268.3 333 268 335.5 273.3 338 270.8 340.5 266.4 343.1 265.3 345.6 269.7 348.1 274.4 350.6 272.4 353.1 270.9 355.6 273.3 358.1 275.6 360.6 277.1 363.1 277.2 365.7 277.1 368.2 277.1 370.7 276.2 373.2 274 375.7 267.5 378.2 261.1 380.7 263 383.2 264.9 385.8 267.1 388.3 273.8" stroke="#0072BD" stroke-width="0.85"/>
<path d="M388.3 273.8Q389.5 276.6 390.8 276.5T393.3 275.8 395.8 270.2 398.3 259.5 400.8 240.3 403.3 217.3 404.9 207.1 405.5 205.5 406.2 203.6 406.9 201.5 407.5 197.7 408.2 192.5 408.9 187.2 409.6 181.5 410.3 175 410.9 169.3 411.6 165.7 412.3 165.2 413 168 413.7 172.8 414.3 178.8 415 184.4 415.7 189.5 416.4 194.8 417.1 200.1 417.7 204.9 418.4 209.4 419.2 214.6 420.9 227.4 423.4 243.9 425.9 252.4 428.5 259.2 431 266.8 433.5 273.4 436 277.2 438.5 276.2 441 273.3" stroke="#0072BD" stroke-width="1.1"/>
<path d="M441 273.3Q442.3 271 443.5 270.4T446 270.8 448.6 273.4 451.1 275 453.6 274.5 456.1 275.6 458.6 277.2 461.1 275.2 463.6 272 466.1 270.8 468.6 272 471.2 273.9 473.7 275.3 476.2 274.7 478.7 270.1 481.2 265.5 483.7 266.9 486.2 270.7 488.7 273.9 491.3 276.9 493.8 277.1 496.3 275.4 498.8 274.4 501.3 274.7 503.8 272.8 506.3 269.5 508.8 269.9 511.3 270.8 513.9 268.8 516.4 266.9 518.9 266.3 521.4 266.7" stroke="#0072BD" stroke-width="0.85"/>
<path d="M64.2 277.3Q65.5 276.9 66.8 276.9T69.3 277.2 71.8 272.5 74.3 269.7 76.8 273.6 79.3 276 81.8 277.3 84.3 277.5 86.8 277.1 89.4 276.8 91.9 276.8 94.4 277.5 96.9 277.4 99.4 273.2 101.9 269 104.4 273 106.9 275.2 109.5 271.5 112 268.8 114.5 270.3 117 274.5 119.5 273.8 122 271 124.5 273.6 127 274.6 129.5 271.7 132.1 273.4 134.6 273.9 137.1 268.5 139.6 260.7 142.1 257.7 144.6 267.6 147.1 277 149.6 277 152.2 276.5 154.7 274.2 157.2 264 159.7 250.8 162.2 257 164.7 272.9 167.2 274.8 169.7 272.9 172.2 272.6 174.8 268.8 177.3 267.1 179.8 269.4 182.3 269.7 184.8 266.7 187.3 261.9 189.8 262.2 192.3 271 194.9 277.1 197.4 277 199.9 272.3 202.4 267.6 204.9 268.6 207.4 273.9 209.9 276.6 212.4 272.5 214.9 270.7 217.5 273 220 270.9 222.5 267.2 225 271.7 227.5 271.9 230 268 232.5 272.1 235 272.6 237.6 268.9 240.1 267.1 242.6 269.3 245.1 271.2 247.6 272.6 250.1 272.8 252.6 269.1 255.1 268.5 257.7 269.7 260.2 270.8" stroke="#7E2F8E" stroke-width="0.8" stroke-dasharray="8 3.5"/>
<polyline points="284.3,69.9 283.9,70.4 283.6,71.3 283.2,72.8 282.9,74.7 282.6,77.2 282.2,80.1 281.9,83.5 281.5,87.7 281.2,92.3 280.9,97 280.5,101.8 280.2,106.7 279.8,111.7 279.5,116.7 279.2,121.8 278.8,127.4 278.5,133.1 278.1,139 277.7,146.4 277.1,156.6 276.3,170.7 275.2,189.9 274,210.3 272.7,228.2 271.5,243.1 270.2,254.8 269,263.2 267.7,267.9 266.4,269.7 265.2,269.3 263.9,268.6 262.7,269.7 261.4,271.1 260.2,270.8" stroke="#7E2F8E" stroke-width="0.9" stroke-dasharray="8 3.5" stroke-dashoffset="4"/>
<polyline points="284.3,69.9 284.6,70.1 284.9,70.9 285.3,72.3 285.6,74.3 286,76.7 286.3,79.6 286.6,82.9 287,86.7 287.3,90.9 287.7,95.8 288,101 288.3,106.2 288.7,111.3 289,116.3 289.4,121.1 289.7,125.7 290,130.2 290.4,134.6 290.7,139 291.1,143.5 291.7,151.8 292.7,167.9 294.1,187.6 295.3,206.9 296.6,223.9 297.8,236.6 299.1,245 300.4,248.7 301.6,249.8 302.9,250.6 304.1,252.8 305.4,258.1 306.6,264.3 307.9,269.1 309.1,272 310.4,272.5 311.7,272.2 312.9,272.5" stroke="#7E2F8E" stroke-width="0.9" stroke-dasharray="8 3.5" stroke-dashoffset="4"/>
<path d="M312.9 272.5Q314.2 273.2 315.4 272.9T317.9 273.4 320.4 269.9 323 266.5 325.5 271.9 328 277 330.5 276.6 333 275.1 335.5 274.4 338 275.8 340.5 276.6 343.1 271.1 345.6 265.6 348.1 270.8 350.6 276.2 353.1 273.4 355.6 272.1 358.1 271.6 360.6 264.8 363.1 265.5 365.7 272.2 368.2 274.2 370.7 276.4 373.2 277.4 375.7 275.4 378.2 273.7 380.7 274.3 383.2 269.9 385.8 268.5 388.3 274.5 390.8 276.9 393.3 272.2 395.8 269.3 398.3 273.7 400.8 276.9 403.3 276.8 405.8 274.9 408.4 275.1 410.9 276.9 413.4 277.2 415.9 272.2 418.4 259.7 420.9 264 423.4 276.6 425.9 276.1 428.5 275.4 431 276.8 433.5 275 436 273.6 438.5 276.2 441 278 443.5 276.7 446 275.4 448.6 276.5 451.1 275.4 453.6 273.3 456.1 270.4 458.6 267.8 461.1 269.9 463.6 271.7 466.1 273 468.6 272.2 471.2 268 473.7 267.9 476.2 270.5 478.7 272.7 481.2 273.3 483.7 271 486.2 272.7 488.7 276.1 491.3 277.1 493.8 277.4 496.3 276.1 498.8 271.1 501.3 268.3 503.8 271.9 506.3 274.5 508.8 274.3 511.3 275.7 513.9 273.6 516.4 265.8 518.9 263 521.4 268.9" stroke="#7E2F8E" stroke-width="0.8" stroke-dasharray="8 3.5"/>
<path d="M64.2 271.8Q65.5 275.5 66.8 276.7T69.3 277.6 71.8 277.5 74.3 277.9 76.8 275.3 79.3 268.7 81.8 262.2 84.3 263.7 86.8 270.7 89.4 272.5 91.9 270.6 94.4 266.2 96.9 264.5 99.4 271.6 101.9 273.8 104.4 262.4 106.9 256.2 109.5 266.7 112 276.1 114.5 274.9 117 270.2 119.5 268.2 122 267.3 124.5 266.1 127 266.9 129.5 269.2 132.1 271 134.6 270.5 137.1 272.1 139.6 275.9 142.1 277.4 144.6 275.6 147.1 275.3 149.6 277.2 152.2 276.4 154.7 274.5 157.2 275.6 159.7 277.7 162.2 276.9 164.7 272.4 167.2 266.6 169.7 268.4 172.2 275.4 174.8 275.2 177.3 270.3 179.8 268 182.3 265.4 184.8 260.1 187.3 262.3 189.8 268.8 192.3 272.3 194.9 276.2 197.4 277.7 199.9 277 202.4 277.1 204.9 276.5 207.4 271.3 209.9 269.3 212.4 274.4 214.9 277.4 217.5 275.9 220 275.5 222.5 276.6 225 277.2 227.5 274.6 230 270.1 232.5 273.2 235 277.6 237.6 276 240.1 272.7 242.6 265.7 245.1 265 247.6 273.7 250.1 276.9 252.6 276.2 255.1 273 257.7 269 260.2 267.8 262.7 270.5 265.2 270.8 267.7 265.4 270.2 267.2 272.7 274.6 275.2 276.4 277.7 274 280.3 272.4 282.8 270.2 285.3 267.7 287.8 272.2 290.3 277.3 292.8 277.6 295.3 277.4 297.8 277.4 300.4 277.9 302.9 278 305.4 277 307.9 276.1 310.4 277 312.9 277.8 315.4 277.7 317.9 275.8 320.4 272.8 323 270 325.5 265.1 328 264.4 330.5 268.7 333 271.6 335.5 273.5 338 272.6 340.5 268 343.1 269 345.6 273.3 348.1 272.7 350.6 270.4 353.1 270.3 355.6 274.6 358.1 278.1 360.6 276.2 363.1 272.4 365.7 269.6 368.2 269.2 370.7 271.9 373.2 275.6 375.7 277.3 378.2 277.2 380.7 272.8 383.2 267.1 385.8 271.4 388.3 277.2" stroke="#0072BD" stroke-width="0.85"/>
<path d="M388.3 277.2Q389.5 277.3 390.8 277.3T393.3 274.4 395.8 269.1 398.3 257 400.8 231.8 403.3 203.8 404.8 187.9 405.5 180.8 406.2 173.7 406.8 166.5 407.5 158.6 408.2 149.9 408.9 141.5 409.6 133.6 410.2 127.3 410.9 123.7 411.6 123.1 412.3 125.6 413 130.9 413.6 138.4 414.3 146.5 415 155.4 415.7 164.9 416.4 174.3 417 183.1 417.7 190.7 418.9 201.8 420.9 222.8 423.4 245 425.9 262.3 428.5 273.2 431 276.7 433.5 275.9 436 273.4 438.5 273 441 272.8" stroke="#0072BD" stroke-width="1.1"/>
<path d="M441 272.8Q442.3 272.3 443.5 272.3T446 273.1 448.6 273.5 451.1 275.3 453.6 277 456.1 274.7 458.6 273.1 461.1 274.2 463.6 276.5 466.1 277.3 468.6 276.2 471.2 276.5 473.7 276 476.2 276.2 478.7 277.3 481.2 277.1 483.7 276.2 486.2 275.1 488.7 272.8 491.3 270.2 493.8 270.8 496.3 270.5 498.8 268.7 501.3 273 503.8 277.8 506.3 274.2 508.8 269.8 511.3 265 513.9 264.8 516.4 273.1 518.9 275.3 521.4 272.7" stroke="#0072BD" stroke-width="0.85"/>
<path d="M64.2 271.8Q65.5 270.9 66.8 268.7T69.3 266.4 71.8 271.4 74.3 276.5 76.8 274.8 79.3 270.5 81.8 269.2 84.3 270.6 86.8 271 89.4 269 91.9 266.3 94.4 268.6 96.9 273.3 99.4 276.3 101.9 274.4 104.4 269.5 106.9 269.2 109.5 271.1 112 274.7 114.5 277.5 117 277.3 119.5 277.4 122 275.1 124.5 272.5 127 271.4 129.5 269.9 132.1 272.3 134.6 276.5 137.1 277.2 139.6 272.6 142.1 273.1 144.6 275.9 147.1 268.4 149.6 265.3 152.2 271.2 154.7 272.9 157.2 267.8 159.7 264.6 162.2 268.5 164.7 270.3 167.2 267.5 169.7 263.4 172.2 261 174.8 267.4 177.3 275.5 179.8 273.3 182.3 263.1 184.8 259.8 187.3 262.4 189.8 260.3 192.3 264 194.9 270" stroke="#D95319" stroke-width="0.85"/>
<path d="M194.9 270Q196.1 269.9 197.4 270.8T199.9 269.9 202.4 262.3 204.9 247.2 207.4 232.1 209.8 216.7 211.3 204.3 211.9 198.5 212.6 192.7 213.3 186.8 214 180 214.7 172.3 215.3 164.6 216 157.6 216.7 152.5 217.4 149.9 218.1 149.6 218.7 151.7 219.4 155.9 220.1 161.6 220.8 167.6 221.5 173.9 222.1 180.7 222.8 187.4 223.5 194 224.2 200 225.4 209.8 227.5 226.1 230 245.6 232.5 259.7 235 265.3 237.6 271.2 240.1 276.2 242.6 273.3 245.1 268.2 247.6 268.8" stroke="#D95319" stroke-width="1.1"/>
<path d="M247.6 268.8Q248.9 270.5 250.1 273.8T252.6 277.2 255.1 277.6 257.7 277.8 260.2 272.6 262.7 266.9 265.2 268.3 267.7 269.7 270.2 268.7 272.7 269.3 275.2 270.4 277.7 272.5 280.3 275.9 282.8 276.2 285.3 271 287.8 268.9 290.3 272.8 292.8 275.2 295.3 274.5 297.8 270.4 300.4 270.5 302.9 275.5 305.4 277.3 307.9 276.9 310.4 276.7 312.9 277.2 315.4 274.1 317.9 270.5 320.4 273.8 323 273.7 325.5 269.8 328 271.3 330.5 273.1 333 275.3 335.5 277.6 338 277.1 340.5 277 343.1 275 345.6 274.6 348.1 277.1 350.6 277 353.1 275 355.6 272.4 358.1 270.5 360.6 272.9 363.1 276.9 365.7 277.2 368.2 275.7 370.7 275.1 373.2 272 375.7 265 378.2 266 380.7 270.1 383.2 267.9 385.8 270.2 388.3 275.4 390.8 277.1 393.3 274.3 395.8 269.9 398.3 269.9 400.8 270 403.3 265.6 405.8 265 408.4 272.2 410.9 275.5 413.4 272.2 415.9 269.3 418.4 270.7 420.9 274.6 423.4 277 425.9 277.5 428.5 276.9 431 275.1 433.5 273.4 436 274.5 438.5 276.6 441 276.9 443.5 276.7 446 274.1 448.6 271.9 451.1 272.3 453.6 274 456.1 275.7 458.6 276.5 461.1 277.1 463.6 275.4 466.1 272 468.6 270.4 471.2 270.7 473.7 269.8 476.2 268.8 478.7 268.6 481.2 268.3 483.7 269.8 486.2 272 488.7 272.2 491.3 272 493.8 270.8 496.3 267.5 498.8 266.7 501.3 270.8 503.8 275.3 506.3 275.4 508.8 272.6 511.3 269.8 513.9 270.2 516.4 272 518.9 271.2 521.4 271.5" stroke="#D95319" stroke-width="0.85"/>
<path d="M64.2 268.9Q65.5 275 66.8 276.4T69.3 277.1 71.8 267.9 74.3 256.4 76.8 259.8 79.3 271 81.8 274.5 84.3 272.8 86.8 271.8 89.4 271.2 91.9 270.1 94.4 269.8 96.9 268.3 99.4 267.5 101.9 270.4 104.4 270.2 106.9 256.3 109.5 237.6 112 244.1 114.5 263.7 117 273.1 119.5 277 122 274.9 124.5 272.8 127 271.3 129.5 270.1 132.1 274.4 134.6 277.8 137.1 277.9 139.6 277.1 142.1 277.3 144.6 274.2 147.1 270.2 149.6 270.2 152.2 271.2 154.7 272.1 157.2 273.5 159.7 273.2 162.2 269.8" stroke="#0072BD" stroke-width="0.8" stroke-dasharray="8 3.5"/>
<polyline points="186.3,84.9 185.9,85.2 185.6,87.2 185.2,90.5 184.9,94.6 184.6,99.3 184.2,104.6 183.9,110.5 183.5,116.9 183.2,123.5 182.9,130.3 182.5,137 182.2,143.6 181.8,150.2 181.5,156.6 181.2,162.8 180.8,168.6 180.5,173.9 180.1,179 179.8,184.2 179.4,189.8 179,196.3 178.3,205.8 177.3,220.1 176,235.8 174.8,249.4 173.5,260.4 172.2,268.2 171,273 169.7,275.1 168.5,275 167.2,273.3 166,271 164.7,269.4 163.5,268.8 162.2,269.8" stroke="#0072BD" stroke-width="0.9" stroke-dasharray="8 3.5" stroke-dashoffset="4"/>
<polyline points="186.3,84.9 186.6,86.8 187,90.2 187.3,94 187.6,98.4 188,103.4 188.3,108.6 188.7,113.9 189,119.4 189.3,125.3 189.7,131.4 190,137.5 190.4,143.8 190.7,150 191,156.3 191.4,162.6 191.7,168.9 192.1,175.2 192.4,181.5 192.7,187.7 193.1,193.6 193.3,198.7 193.8,206.6 194.9,221 196.1,237.3 197.4,251.2 198.6,261.4 199.9,266.6 201.1,268.1 202.4,267.2 203.6,266.4 204.9,268.2 206.2,271.2 207.4,273.9 208.7,275.5 209.9,275.2 211.2,274.1 212.4,273.1 213.7,272.7 214.9,273.3" stroke="#0072BD" stroke-width="0.9" stroke-dasharray="8 3.5" stroke-dashoffset="4"/>
<path d="M214.9 273.3Q216.2 274.4 217.5 275.2T220 276.3 222.5 275.1 225 267.1 227.5 255 230 253.9 232.5 261.4 235 260.9 237.6 255.2 240.1 251.2 242.6 253.7 245.1 263.1 247.6 268.8 250.1 269 252.6 268.7 255.1 270 257.7 274.3 260.2 277.1 262.7 277 265.2 277 267.7 276.4 270.2 275.5 272.7 276 275.2 273 277.7 266.4 280.3 263.6 282.8 257 285.3 252.4 287.8 262.6 290.3 268.7 292.8 265.9 295.3 265.3 297.8 266 300.4 270.5 302.9 275.7 305.4 276.9 307.9 277.3 310.4 277.1 312.9 276.9 315.4 276.8 317.9 273.6 320.4 270.2 323 271.7 325.5 275.3 328 276.9 330.5 276.6 333 275.1 335.5 273 338 269.8 340.5 268.3 343.1 270.1 345.6 270.2 348.1 268.7 350.6 268.7 353.1 266.8 355.6 264.9 358.1 267.2 360.6 268.9 363.1 267.3 365.7 262.3 368.2 259.5 370.7 261.9 373.2 264.1 375.7 264.8 378.2 264.2 380.7 268 383.2 275.5 385.8 273.2 388.3 269.4 390.8 274.3 393.3 277.4 395.8 274.3 398.3 264.2 400.8 261.8 403.3 272.1 405.8 274.6 408.4 270.2 410.9 265.6 413.4 270.4 415.9 277.8 418.4 277.3 420.9 274.5 423.4 267.1 425.9 255.7 428.5 253.6 431 261.2 433.5 269.6 436 272.3 438.5 268.7 441 262.5 443.5 261.5 446 267.1 448.6 267.3 451.1 266.9 453.6 269.7 456.1 270.8 458.6 272.6 461.1 275.5 463.6 271.2 466.1 268.4 468.6 272 471.2 273.7 473.7 275.3 476.2 277 478.7 276.9 481.2 275.4 483.7 272 486.2 268.5 488.7 268.7 491.3 269.5 493.8 269.2 496.3 272 498.8 273.9 501.3 273.2 503.8 270.2 506.3 267.5 508.8 270 511.3 274.5 513.9 275.4 516.4 273.7 518.9 271.5 521.4 270.8" stroke="#0072BD" stroke-width="0.8" stroke-dasharray="8 3.5"/>
<path d="M64.2 277Q65.5 276.8 66.8 277.3T69.3 275.2 71.8 271.9 74.3 270.3 76.8 265.3 79.3 265.1 81.8 272.7 84.3 276.9 86.8 274.1 89.4 268.6 91.9 270.1 94.4 274.9 96.9 271.8 99.4 267.8 101.9 266.8 104.4 262 106.9 265.5 109.5 274.5 112 277.1 114.5 276.4 117 270.4 119.5 265.6 122 269.4 124.5 270 127 265 129.5 262.7 132.1 255.8 134.6 258.1 137.1 270.8 139.6 274.7 142.1 275.6 144.6 269.5 147.1 261.2 149.6 264.4 152.2 267.5 154.7 262.4 157.2 256.9 159.7 264.1 162.2 275.3 164.7 277.8 167.2 277.8 169.7 277.4 172.2 276 174.8 272.4 177.3 272.3 179.8 274.4 182.3 270.4 184.8 267.4 187.3 268 189.8 267.7 192.3 272.5 194.9 275.1 197.4 263.6 199.9 261.2 202.4 272.9 204.9 277 207.4 276.8 209.9 277.3 212.4 276.8 214.9 274.1 217.5 270.9 220 271 222.5 274.5 225 277.5 227.5 274.3" stroke="#EDB120" stroke-width="0.8" stroke-dasharray="8 3.5"/>
<polyline points="248.6,64.3 248.2,64.8 247.9,66.5 247.5,69.2 247.2,72.7 246.9,77 246.5,81.8 246.2,86.7 245.8,92.1 245.5,97.9 245.2,104.4 244.8,111.6 244.5,119.2 244.1,126.7 243.8,133.8 243.5,140.4 243.1,146.7 242.8,152.9 242.4,159.1 242.1,165.3 241.8,171.5 241.4,177.7 240.9,187.5 239.9,204.3 238.8,222.6 237.6,236.6 236.3,246.8 235,253.4 233.8,258.1 232.5,263 231.3,267 230,269.3 228.8,271.3 227.5,274.3" stroke="#EDB120" stroke-width="0.9" stroke-dasharray="8 3.5" stroke-dashoffset="4"/>
<polyline points="248.6,64.3 248.9,64.9 249.2,66.8 249.6,69.7 249.9,73.5 250.3,78.1 250.6,83.5 250.9,89.6 251.3,96.7 251.6,104.7 252,113.2 252.3,121.7 252.6,130.2 253,138.6 253.3,146.8 253.7,154.9 254,162.5 254.3,169.4 254.8,178.3 255.5,191.7 256.5,207.7 257.7,224.1 258.9,239.6 260.2,252.6 261.4,262.9 262.7,270.4 263.9,275 265.2,276.7 266.4,275.8 267.7,273.1 269,270.2 270.2,269.2 271.5,269.4 272.7,270.4 274,270.5 275.2,268.2 276.5,265 277.7,262.3" stroke="#EDB120" stroke-width="0.9" stroke-dasharray="8 3.5" stroke-dashoffset="4"/>
<path d="M277.7 262.3Q279 259.8 280.3 263.9T282.8 270.3 285.3 272.7 287.8 270.2 290.3 261.7 292.8 256 295.3 264.2 297.8 274.3 300.4 276 302.9 270.8 305.4 266.3 307.9 266.6 310.4 266.6 312.9 267 315.4 270.4 317.9 275 320.4 276.7 323 273.6 325.5 270 328 270.9 330.5 271.7 333 267.6 335.5 267.1 338 270.5 340.5 272.8 343.1 276.1 345.6 277.2 348.1 277.4 350.6 276.7 353.1 272.9 355.6 273.5 358.1 275.3 360.6 271.2 363.1 268.4 365.7 267.3 368.2 267.4 370.7 273.2 373.2 277.5 375.7 275.7 378.2 269.9 380.7 266.1 383.2 264.8 385.8 259.7 388.3 262.5 390.8 269.1 393.3 269.2 395.8 268.3 398.3 263.6 400.8 258 403.3 258.8 405.8 264.7 408.4 271 410.9 274 413.4 276 415.9 277.1 418.4 273.8 420.9 268.2 423.4 267.9 425.9 271.6 428.5 272.1 431 269.9 433.5 267.1 436 263.7 438.5 266.3 441 269.9 443.5 268.2 446 268.4 448.6 271.6 451.1 275 453.6 275.2 456.1 270.1 458.6 265.3 461.1 267.1 463.6 269.4 466.1 267.4 468.6 265.5 471.2 266 473.7 267 476.2 267.6 478.7 271.3 481.2 275.1 483.7 276.7 486.2 277.7 488.7 277.5 491.3 277.2 493.8 273.5 496.3 268.1 498.8 268.5 501.3 271.5 503.8 272.4 506.3 272.3 508.8 271.2 511.3 270.1 513.9 271.8 516.4 274.7 518.9 274.5 521.4 271.1" stroke="#EDB120" stroke-width="0.8" stroke-dasharray="8 3.5"/>
<path d="M64.2 275.1Q65.5 273.6 66.8 272.5T69.3 264.7 71.8 260.6 74.3 261.7 76.8 264.8 79.3 272.4 81.8 276.5 84.3 276.9 86.8 271.9 89.4 264.7 91.9 265.7 94.4 272.6 96.9 274.9 99.4 276.2 101.9 277.6 104.4 277.6 106.9 277.4 109.5 277 112 275.4 114.5 273.7 117 271.8 119.5 263.2 122 254.9 124.5 253.9 127 260.1 129.5 265.2 132.1 262.1 134.6 264.5 137.1 269.9 139.6 269.5 142.1 268.3 144.6 267.1 147.1 266.9 149.6 267.6 152.2 270.6 154.7 272.8 157.2 273 159.7 269.2 162.2 263.9 164.7 266.9 167.2 272.8 169.7 273 172.2 271.7 174.8 274.5 177.3 277.2 179.8 273.3 182.3 271.5 184.8 275.2 187.3 277.3 189.8 277.7 192.3 277.5 194.9 276.1 197.4 271.2 199.9 265.2 202.4 267.8 204.9 273.1 207.4 275.4 209.9 277.1 212.4 276.8 214.9 274.7 217.5 267.2 220 265.4 222.5 269.6 225 264.8 227.5 265.5 230 273.7 232.5 275.6 235 275.2 237.6 271.1 240.1 266.9 242.6 271.8 245.1 277.3 247.6 277.7 250.1 278.1 252.6 278.1 255.1 278 257.7 277.5 260.2 273.5 262.7 268 265.2 267 267.7 269.9 270.2 274.6 272.7 276.9 275.2 273 277.7 268.7 280.3 268.6 282.8 269.5 285.3 272 287.8 275.8 290.3 275.5" stroke="#77AC30" stroke-width="0.8" stroke-dasharray="8 3.5"/>
<polyline points="316.4,64.9 316,65 315.7,65.7 315.4,66.9 315,68.7 314.7,71 314.3,74 314,77.8 313.7,82.5 313.3,87.7 313,93 312.6,98.4 312.3,103.9 312,109.4 311.6,115 311.3,120.6 310.9,126.2 310.6,131.9 310.3,137.5 309.9,143.3 309.5,149.6 308.9,160.4 307.9,180 306.6,202.4 305.4,221.8 304.1,237.4 302.9,248.5 301.6,256.5 300.4,262.5 299.1,267.4 297.8,272.3 296.6,275.9 295.3,277.2 294.1,277 292.8,275.7 291.6,274.8 290.3,275.5" stroke="#77AC30" stroke-width="0.9" stroke-dasharray="8 3.5" stroke-dashoffset="4"/>
<polyline points="316.4,64.9 316.7,65.1 317.1,65.6 317.4,66.4 317.7,67.9 318.1,69.9 318.4,72.5 318.8,75.7 319.1,79.4 319.4,83.6 319.8,88.3 320.1,93.2 320.5,98.2 320.8,103.2 321.1,108.2 321.5,113.5 321.8,119 322.2,124.9 322.5,130.9 322.8,137 323.2,143.1 323.5,149.1 323.9,155.3 324.4,165.1 325.5,182.3 326.7,200.8 328,214.5 329.2,225.6 330.5,236.2 331.8,245.5 333,252.6 334.3,257.6 335.5,260.4 336.8,263.3 338,268.9 339.3,274.2 340.5,276.1 341.8,275.6 343.1,273.9" stroke="#77AC30" stroke-width="0.9" stroke-dasharray="8 3.5" stroke-dashoffset="4"/>
<path d="M343.1 273.9Q344.3 271.5 345.6 264.6T348.1 257.3 350.6 263.4 353.1 269.7 355.6 267 358.1 265.1 360.6 265.9 363.1 261.7 365.7 254.9 368.2 260.7 370.7 273.2 373.2 276.2 375.7 274 378.2 272.5 380.7 269.4 383.2 264.6 385.8 262.4 388.3 264.2 390.8 268.7 393.3 274.4 395.8 277.3 398.3 276.8 400.8 274.4 403.3 271.8 405.8 271.2 408.4 270 410.9 269.3 413.4 266.3 415.9 264.3 418.4 268.3 420.9 269.3 423.4 269.8 425.9 274.3 428.5 276.7 431 277.2 433.5 273.8 436 269.3 438.5 271.7 441 273 443.5 269.1 446 266.8 448.6 266.6 451.1 268 453.6 270.1 456.1 269.4 458.6 267.5 461.1 267.1 463.6 268.1 466.1 270.5 468.6 271.4 471.2 269.2 473.7 268.5 476.2 273.7 478.7 277.6 481.2 277.8 483.7 277.9 486.2 276.3 488.7 273.6 491.3 271.2 493.8 268.9 496.3 270.3 498.8 274.9 501.3 276.7 503.8 275.3 506.3 273.1 508.8 273.6 511.3 276.5 513.9 277.9 516.4 275.9 518.9 274.7 521.4 275.9" stroke="#77AC30" stroke-width="0.8" stroke-dasharray="8 3.5"/>
<path d="M64.2 260.9Q65.5 268.3 66.8 269.6T69.3 273.7 71.8 277.3 74.3 277.7 76.8 275.3 79.3 274.2 81.8 273.2 84.3 265.9 86.8 264 89.4 267.5 91.9 268.1 94.4 271.5 96.9 273.3 99.4 269.6 101.9 268.5 104.4 269.9 106.9 271.4 109.5 272.2 112 269.5 114.5 272.3 117 277 119.5 276.8 122 274.4 124.5 273.4 127 272.4 129.5 264.9 132.1 253.4 134.6 254.9 137.1 267.7 139.6 268.3 142.1 266.8 144.6 273.4 147.1 276.1 149.6 276.1 152.2 277.3 154.7 277.6 157.2 277.5 159.7 277 162.2 273.3 164.7 268.1 167.2 265.7 169.7 266.1 172.2 267.3 174.8 261.8 177.3 256.9 179.8 262.9 182.3 268.4 184.8 270.7 187.3 273.8 189.8 272.3 192.3 270.5 194.9 274.3 197.4 277.1 199.9 276.7 202.4 274.3 204.9 268.8 207.4 266.5 209.9 269.9 212.4 272.9 214.9 275.2 217.5 272.2 220 261.7 222.5 263.4 225 273.3 227.5 272 230 269.1 232.5 270.3 235 269.9 237.6 270 240.1 270.4 242.6 273.2 245.1 276.5 247.6 273.8 250.1 269.4 252.6 267.7 255.1 267.4 257.7 269.6 260.2 273.5 262.7 274.8 265.2 275.9 267.7 275.2 270.2 268.6 272.7 262.6 275.2 261.9 277.7 266.8 280.3 273 282.8 275.8 285.3 276 287.8 272.3 290.3 267.1 292.8 265.1 295.3 261.5 297.8 263.7 300.4 273.4 302.9 275.4 305.4 273.5 307.9 273.6 310.4 275.5 312.9 274.1 315.4 261.4 317.9 254.5 320.4 265.1 323 274.7 325.5 277.1 328 276 330.5 270.6 333 266.6 335.5 271.8 338 274.7 340.5 272 343.1 271.3 345.6 270.2 348.1 272.7 350.6 277.1 353.1 277 355.6 276.8 358.1 276 360.6 272.7 363.1 272.3 365.7 267.8 368.2 259.2 370.7 262.3 373.2 269.2 375.7 273.5 378.2 276.6 380.7 276.6 383.2 275.7 385.8 270.4 388.3 264.6" stroke="#0072BD" stroke-width="0.8" stroke-dasharray="8 3.5"/>
<polyline points="413,76.2 412.6,76.5 412.3,77.7 412,80 411.6,83.6 411.3,88.2 410.9,93.3 410.6,99.2 410.3,105.7 409.9,112.4 409.6,119 409.2,125.4 408.9,131.6 408.6,137.7 408.2,143.8 407.9,149.8 407.5,155.8 407.2,161.8 406.9,167.7 406.4,176.1 405.6,189.7 404.5,207.3 403.3,228.1 402.1,247.3 400.8,260.4 399.6,268.5 398.3,272.8 397.1,275 395.8,276.3 394.5,275.8 393.3,272.5 392,268.3 390.8,265.5 389.5,264.1 388.3,264.6" stroke="#0072BD" stroke-width="0.9" stroke-dasharray="8 3.5" stroke-dashoffset="4"/>
<polyline points="413,76.2 413.3,76.8 413.7,78.2 414,80.5 414.3,83.3 414.7,86.5 415,89.8 415.4,93.5 415.7,97.9 416,102.9 416.4,108.6 416.7,114.8 417.1,121.3 417.4,128.1 417.7,135.4 418.1,143 418.4,150.6 418.8,158.2 419.1,165.9 419.4,173.1 419.8,179.6 420.3,187.8 421.1,200.3 422.2,215.2 423.4,230.5 424.7,245.3 425.9,258.8 427.2,268.7 428.5,272.4 429.7,270.9 431,265.4 432.2,260.8 433.5,261.8 434.7,264.6 436,264.9 437.2,264.5 438.5,265 439.8,266.1 441,267.6" stroke="#0072BD" stroke-width="0.9" stroke-dasharray="8 3.5" stroke-dashoffset="4"/>
<path d="M441 267.6Q442.3 269.3 443.5 271.4T446 275.8 448.6 278.1 451.1 276.6 453.6 273.5 456.1 274.9 458.6 277.7 461.1 274.3 463.6 271.4 466.1 273.4 468.6 275.9 471.2 277.1 473.7 277.6 476.2 277.5 478.7 277.6 481.2 277.4 483.7 277.5 486.2 274.6 488.7 274.1 491.3 274.3 493.8 272.6 496.3 275.1 498.8 277.4 501.3 277.4 503.8 276.8 506.3 277.5 508.8 274.3 511.3 269.7 513.9 270 516.4 270.3 518.9 268 521.4 267.2" stroke="#0072BD" stroke-width="0.8" stroke-dasharray="8 3.5"/>
<path d="M64.2 270.2Q65.5 268.4 66.8 267.1T69.3 259.8 71.8 257.1 74.3 263.2 76.8 267.7 79.3 269.4 81.8 266.4 84.3 264.6 86.8 269.5 89.4 270 91.9 265 94.4 263 96.9 266.1 99.4 273.6 101.9 276.9 104.4 269.4 106.9 265.9 109.5 273 112 275.3 114.5 275.2 117 277 119.5 277.6 122 277.4 124.5 275.2 127 272.6 129.5 271.7 132.1 270.5 134.6 270.6 137.1 274.9 139.6 277.1 142.1 276.9 144.6 276.9 147.1 277 149.6 275.7 152.2 275.1 154.7 276.7 157.2 274.9 159.7 268.1 162.2 269.8" stroke="#0072BD" stroke-width="0.8" stroke-dasharray="8 3.5"/>
<polyline points="189.2,94.5 188.9,94.8 188.5,95.9 188.2,97.6 187.9,99.9 187.5,102.7 187.2,106.1 186.8,110 186.5,114.5 186.2,119.4 185.8,124.7 185.5,130.1 185.1,135.5 184.8,140.9 184.5,146.3 184.1,151.7 183.8,157.1 183.4,162.3 183.1,167.5 182.8,172.5 182.4,177.6 182,183.3 181.6,190.4 180.9,200 179.8,213.5 178.5,228.6 177.3,242.9 176,254.4 174.8,260.9 173.5,263.9 172.2,265.2 171,266.3 169.7,268.9 168.5,272 167.2,275 166,276.9 164.7,277 163.5,274.8 162.2,269.8" stroke="#0072BD" stroke-width="0.9" stroke-dasharray="8 3.5" stroke-dashoffset="4"/>
<polyline points="189.2,94.5 189.6,94.8 189.9,95.6 190.2,97 190.6,99 190.9,101.7 191.3,105.3 191.6,109.7 191.9,115.1 192.3,120.8 192.6,126.7 193,132.6 193.3,138.6 193.6,144.5 194,150.2 194.3,155.7 194.7,161.3 195,166.8 195.3,172.2 196,181.4 197.2,198 198.6,216.8 199.9,232.2 201.1,244.7 202.4,254.8 203.6,263.1 204.9,270.2 206.2,275.2 207.4,277 208.7,276.8 209.9,275.5 211.2,274.7 212.4,275.6 213.7,276.8 214.9,276.7" stroke="#0072BD" stroke-width="0.9" stroke-dasharray="8 3.5" stroke-dashoffset="4"/>
<path d="M214.9 276.7Q216.2 276 217.5 274.9T220 274.3 222.5 273.4 225 271.1 227.5 273.9 230 272.2 232.5 258.7 235 258.3 237.6 267.3 240.1 265.5 242.6 261.1 245.1 266.6 247.6 273.3 250.1 272.1 252.6 269.5 255.1 267.9 257.7 267.9 260.2 270 262.7 272.6 265.2 274.8 267.7 276.4 270.2 275.3 272.7 274.3 275.2 274.5 277.7 270.1 280.3 268.6 282.8 273.9 285.3 273.1 287.8 270.8 290.3 270.9 292.8 269.8 295.3 269.5 297.8 270.2 300.4 272.2 302.9 270.7 305.4 266.6 307.9 271.6 310.4 276.3 312.9 273.1 315.4 274.4 317.9 276.7 320.4 268.9 323 262.3 325.5 258.7 328 258.4 330.5 265.1 333 267.4 335.5 264.9 338 261.6 340.5 262.9 343.1 267.2 345.6 267.6 348.1 262.9 350.6 262.6 353.1 271 355.6 276 358.1 274.2 360.6 273.6 363.1 275.8 365.7 276.7 368.2 275.2 370.7 270.5 373.2 265.7 375.7 263.8 378.2 259.3 380.7 255.2 383.2 248 385.8 246.2 388.3 259.5 390.8 272.1 393.3 276.7 395.8 277.1 398.3 272.3 400.8 264.3 403.3 265.9 405.8 266.7 408.4 265.3 410.9 270.2 413.4 275.1 415.9 276.7 418.4 274 420.9 269.9 423.4 270 425.9 273 428.5 270.9 431 266.3 433.5 265.2 436 264 438.5 263.8 441 268.3 443.5 274.4 446 276.9 448.6 271.8 451.1 266.5 453.6 268.1 456.1 271.3 458.6 272.1 461.1 271.7 463.6 272.5 466.1 272.1 468.6 266.5 471.2 265 473.7 271.5 476.2 276.3 478.7 276.2 481.2 271.7 483.7 267.9 486.2 269 488.7 271.2 491.3 272.9 493.8 273.9 496.3 270.4 498.8 264.8 501.3 260.9 503.8 264.7 506.3 270.7 508.8 269.9 511.3 270.8 513.9 275.2 516.4 277 518.9 274.3 521.4 270.8" stroke="#0072BD" stroke-width="0.8" stroke-dasharray="8 3.5"/>
<path d="M64.2 268.6Q65.5 271.5 66.8 273.2T69.3 273.6 71.8 266 74.3 260.7 76.8 263 79.3 267 81.8 270.4 84.3 274 86.8 277.3 89.4 277.1 91.9 276 94.4 271.6 96.9 264.9 99.4 263.7 101.9 270.2 104.4 275.8 106.9 274.4 109.5 271.7 112 274.3 114.5 275.5 117 270.2 119.5 268.2 122 272 124.5 276.1 127 276.1 129.5 270.7 132.1 267.8 134.6 273.1 137.1 275.9 139.6 274.6 142.1 274.2 144.6 267.5 147.1 264.2 149.6 272.4 152.2 277.4 154.7 276.8 157.2 277.3 159.7 276.7 162.2 274.1 164.7 274.9 167.2 275 169.7 272 172.2 272.3 174.8 271.8 177.3 268.5 179.8 268.4 182.3 271.3 184.8 271.2 187.3 270.7 189.8 271.6 192.3 271.6 194.9 274 197.4 277.1 199.9 274 202.4 268.6 204.9 268.1 207.4 269.3 209.9 271.4 212.4 273.1 214.9 273.8 217.5 275.6 220 277.3 222.5 277.6 225 276.8 227.5 277 230 277.1 232.5 273.9 235 268.7 237.6 266.1 240.1 264.6 242.6 263.1 245.1 259.6 247.6 258 250.1 266.1 252.6 274.8 255.1 277.3 257.7 275.8 260.2 270.9 262.7 267.8 265.2 269.4 267.7 273.7 270.2 276.2 272.7 275.2 275.2 275.4 277.7 277.2 280.3 277.1 282.8 273.6 285.3 271.2 287.8 267.6 290.3 263.1 292.8 266.3 295.3 273.5 297.8 274.1 300.4 270.4 302.9 272.8 305.4 276.9 307.9 277.9 310.4 277.2 312.9 277.1 315.4 274 317.9 272.2 320.4 271.5 323 265.1 325.5 255.9 328 255.8 330.5 262.5 333 269 335.5 275.4 338 273.6 340.5 267.8 343.1 267.7 345.6 268 348.1 266.5 350.6 268.4 353.1 270.3 355.6 271.4" stroke="#A2142F" stroke-width="0.85"/>
<path d="M355.6 271.4Q356.9 272.2 358.1 273.3T360.6 272.3 363.1 268.1 365.7 261.4 368.2 243.4 370.7 215.9 372.3 198 373 190.4 373.7 182.7 374.4 174.8 375 166.7 375.7 158.5 376.4 150.3 377.1 142.9 377.8 137.7 378.4 135.5 379.1 136.1 379.8 138.8 380.5 143.3 381.2 149.3 381.8 155.7 382.5 162.9 383.2 170.8 383.9 178.9 384.6 187.4 385.2 196.6 386.3 211.3 388.3 233.4 390.8 254.2 393.3 268.2 395.8 269.9 398.3 264.4 400.8 267 403.3 274.5 405.8 274.2 408.4 268.9" stroke="#A2142F" stroke-width="1.1"/>
<path d="M408.4 268.9Q409.6 266.9 410.9 265.2T413.4 267.3 415.9 271.5 418.4 272 420.9 274.6 423.4 277.3 425.9 277.4 428.5 277.2 431 277 433.5 274.6 436 269.6 438.5 264.4 441 264.4 443.5 270.8 446 272.2 448.6 269.7 451.1 270.8 453.6 272.7 456.1 267.6 458.6 260.9 461.1 264.3 463.6 272.7 466.1 276.8 468.6 276.9 471.2 274.7 473.7 274.2 476.2 272.8 478.7 270.2 481.2 269.7 483.7 266.3 486.2 260.3 488.7 260.9 491.3 267.6 493.8 270.3 496.3 270.5 498.8 271 501.3 272.1 503.8 274 506.3 274.7 508.8 274.6 511.3 272.6 513.9 271.8 516.4 274.6 518.9 272.9 521.4 269.1" stroke="#A2142F" stroke-width="0.85"/>
<path d="M64.2 277.5Q65.5 277.4 66.8 275.8T69.3 275.2 71.8 276.9 74.3 277.2 76.8 274.8 79.3 275.4 81.8 276.5 84.3 268.6 86.8 263.5 89.4 271.6 91.9 277.8 94.4 276.3 96.9 276.3 99.4 276.8 101.9 274.9 104.4 274.5 106.9 276.6 109.5 277.5 112 277.4 114.5 274 117 271.9 119.5 275.2 122 273.9 124.5 269.6 127 269.9 129.5 272.3 132.1 270.1 134.6 265.6 137.1 265.4 139.6 267.9 142.1 270.1 144.6 273.5 147.1 275.9 149.6 274.7 152.2 273 154.7 272.3 157.2 268.9 159.7 266 162.2 267.5 164.7 272.9 167.2 274.9 169.7 274.3 172.2 276.1 174.8 275.9 177.3 270.4 179.8 266.3 182.3 271.2 184.8 276.4 187.3 275.9 189.8 272.8 192.3 269.2 194.9 272.8" stroke="#D95319" stroke-width="0.85"/>
<path d="M194.9 272.8Q196.1 278 197.4 276.8T199.9 274 202.4 265.7 204.9 247.2 207.4 216.9 209.8 181.6 211.2 160.8 211.9 154.3 212.6 148.9 213.3 143.5 213.9 137.6 214.6 131.1 215.3 124.6 216 118.2 216.7 112.7 217.3 109.2 218 109 218.7 111.6 219.4 116.7 220.1 123.5 220.7 130.8 221.4 138.2 222.1 145.9 222.8 153.7 223.5 161.6 224.2 170.4 225.4 187.4 227.5 214.7 230 241 232.5 254.7 235 262.4 237.6 272.1 240.1 276.7 242.6 277 245.1 277.2 247.6 274.7" stroke="#D95319" stroke-width="1.1"/>
<path d="M247.6 274.7Q248.9 272 250.1 266.7T252.6 259.4 255.1 262.8 257.7 271.6 260.2 275.2 262.7 271.9 265.2 268.6 267.7 270.5 270.2 270.3 272.7 269.8 275.2 274.3 277.7 274.4 280.3 271 282.8 272.2 285.3 272.2 287.8 264.1 290.3 254.9 292.8 255.8 295.3 267 297.8 274.9 300.4 273.2 302.9 274.4 305.4 277.8 307.9 278 310.4 270.5 312.9 261.3 315.4 263.1 317.9 268.4 320.4 272.1 323 273.6 325.5 272 328 271.1 330.5 269.7 333 270.6 335.5 273.7 338 270.7 340.5 268 343.1 269.4 345.6 273.6 348.1 276.9 350.6 276.4 353.1 275.8 355.6 273.9 358.1 274.6 360.6 277.4 363.1 275.5 365.7 271.2 368.2 270.8 370.7 274.2 373.2 274.2 375.7 274.7 378.2 277.1 380.7 277.3 383.2 275.2 385.8 271.5 388.3 270.6 390.8 270.3 393.3 269.8 395.8 273.7 398.3 277.3 400.8 277.4 403.3 276.1 405.8 275.2 408.4 276.5 410.9 274.2 413.4 268.9 415.9 270.5 418.4 275.8 420.9 276.6 423.4 274.2 425.9 271.7 428.5 270 431 269.5 433.5 269.6 436 270.2 438.5 274.1 441 277.8 443.5 275.9 446 274.7 448.6 274.3 451.1 274 453.6 274.8 456.1 275 458.6 275 461.1 273.1 463.6 272 466.1 271 468.6 266.7 471.2 266.7 473.7 271.6 476.2 270.9 478.7 266.6 481.2 263.4 483.7 262.7 486.2 267.1 488.7 268.9 491.3 266.5 493.8 267.8 496.3 272.5 498.8 276.2 501.3 276.5 503.8 272.3 506.3 272.6 508.8 276 511.3 273 513.9 268.7 516.4 267.1 518.9 271.4 521.4 274.1" stroke="#D95319" stroke-width="0.85"/>
<path d="M64.2 277.3Q65.5 277.4 66.8 276.6T69.3 276.4 71.8 277 74.3 273.5 76.8 268.1 79.3 265.8 81.8 266.4 84.3 269.6 86.8 271.3 89.4 271.1 91.9 272.8 94.4 274.1 96.9 275.4 99.4 275.8 101.9 275.3 104.4 276.1 106.9 271.5 109.5 263.9 112 261.3 114.5 259.8 117 260.7 119.5 263.4 122 263.4 124.5 268 127 274.7 129.5 273.4 132.1 269.6 134.6 267.6 137.1 267.1 139.6 270.8 142.1 274.3 144.6 275.8 147.1 275.1 149.6 272.1 152.2 267.4 154.7 261.4 157.2 263 159.7 269.5 162.2 271.8 164.7 272.1 167.2 273 169.7 273.4 172.2 275.4 174.8 277.1 177.3 273.5 179.8 268.1 182.3 266.9 184.8 268.7 187.3 267.8 189.8 265.2 192.3 262.2 194.9 263.1 197.4 269.3 199.9 273.4 202.4 270.2 204.9 263.3 207.4 262.2 209.9 268.4 212.4 273.9 214.9 271.2 217.5 270.6 220 275.2 222.5 276.1 225 274.4 227.5 269.6 230 266.7 232.5 272.7 235 275.5 237.6 271.8 240.1 270.7 242.6 274.3 245.1 277.2 247.6 275.4 250.1 276 252.6 276.4 255.1 271.6 257.7 267.6 260.2 264.9 262.7 258.9 265.2 257.4 267.7 265.2 270.2 271.8 272.7 274 275.2 271.2 277.7 262.8 280.3 260.9 282.8 268.5 285.3 274.9 287.8 277 290.3 276.9 292.8 275.8 295.3 274.1 297.8 274 300.4 272.7 302.9 271.6 305.4 273.3 307.9 273.2 310.4 272.8 312.9 273.7 315.4 274.2 317.9 274.2 320.4 275.3 323 275.3 325.5 270.9 328 266.5 330.5 264.9 333 263.6 335.5 262.3 338 259.9 340.5 265.5 343.1 275.2 345.6 277.6 348.1 278 350.6 277.7 353.1 277.2 355.6 277.2 358.1 276 360.6 275.8 363.1 274.8 365.7 269.2 368.2 264.7 370.7 267.5 373.2 274.5 375.7 277 378.2 269.7 380.7 262.3 383.2 264.9 385.8 267.9 388.3 267.1" stroke="#0072BD" stroke-width="0.85"/>
<path d="M388.3 267.1Q389.5 267.3 390.8 268.3T393.3 267.7 395.8 264.6 398.3 252.5 400.8 229.2 402.9 209.9 404.1 200.6 404.8 194.6 405.5 187.8 406.1 180.8 406.8 173.8 407.5 166.3 408.2 158.4 408.9 150.9 409.5 145.5 410.2 144 410.9 145.8 411.6 150.1 412.3 156.1 412.9 163.1 413.6 170.3 414.3 177.4 415 184.2 415.7 190.6 416.3 197.2 417 203.7 418.5 218 420.9 239.9 423.4 258 425.9 265.4 428.5 267 431 269.8 433.5 273.7 436 274.3 438.5 268.5 441 264.6" stroke="#0072BD" stroke-width="1.1"/>
<path d="M441 264.6Q442.3 264.4 443.5 265.5T446 266.2 448.6 266.3 451.1 267.8 453.6 268.9 456.1 269.3 458.6 269.5 461.1 265.3 463.6 259.6 466.1 262.6 468.6 267.4 471.2 264.5 473.7 263.4 476.2 266.7 478.7 268.3 481.2 269.7 483.7 270.9 486.2 271.1 488.7 272.2 491.3 270.5 493.8 266.1 496.3 267.4 498.8 270 501.3 267.5 503.8 267.4 506.3 270.8 508.8 271.1 511.3 273.4 513.9 276.6 516.4 275.8 518.9 274.5 521.4 274.9" stroke="#0072BD" stroke-width="0.85"/>
<path d="M64.2 272.1Q65.5 273.5 66.8 275.5T69.3 277.5 71.8 277.2 74.3 277.1 76.8 277.4 79.3 276.7 81.8 271.8 84.3 268.5 86.8 271.4 89.4 272.6 91.9 272.6 94.4 275.3 96.9 276.7 99.4 272.2 101.9 265.4 104.4 259.8 106.9 258.5 109.5 263.6 112 267.5 114.5 268.1 117 270.4 119.5 271.6 122 266.6 124.5 260.4 127 263.4 129.5 269.9 132.1 269.7 134.6 266.1 137.1 265.2 139.6 266.4 142.1 270.1 144.6 274.1 147.1 272.9 149.6 268.9 152.2 267.3 154.7 272.6 157.2 277.5 159.7 275.8 162.2 275.3" stroke="#0072BD" stroke-width="0.85"/>
<path d="M162.2 275.3Q163.5 277 164.7 277.1T167.2 271.2 169.7 260.7 172.2 247.7 174.8 227.2 176.8 205.9 177.9 192.5 178.5 184.3 179.2 176.5 179.9 168.9 180.6 161.5 181.3 154.2 181.9 147.1 182.6 140.5 183.3 135.7 184 134.2 184.7 136.1 185.3 140.6 186 147.2 186.7 154.9 187.4 162.9 188.1 171 188.7 178.6 189.4 185.6 190.1 192.4 190.8 199.2 192.4 215 194.9 237.6 197.4 255.8 199.9 268.5 202.4 273.3 204.9 272.4 207.4 270.4 209.9 271.4 212.4 272.9 214.9 266.2" stroke="#0072BD" stroke-width="1.1"/>
<path d="M214.9 266.2Q216.2 260.2 217.5 254.7T220 251.1 222.5 259.8 225 266.8 227.5 265.3 230 267.2 232.5 273.5 235 274.1 237.6 271.7 240.1 274.6 242.6 277.8 245.1 277.9 247.6 275.6 250.1 273.7 252.6 273.8 255.1 271.5 257.7 269.3 260.2 270 262.7 271.4 265.2 273.7 267.7 276.3 270.2 276 272.7 271.8 275.2 269.8 277.7 273.5 280.3 275.4 282.8 273.7 285.3 272.2 287.8 274.6 290.3 276.9 292.8 273.6 295.3 262.7 297.8 257.7 300.4 264.3 302.9 265.9 305.4 261 307.9 263.8 310.4 270.1 312.9 268.2 315.4 265.4 317.9 266.8 320.4 268.3 323 262.8 325.5 255.9 328 259.1 330.5 267.1 333 273.8 335.5 274.7 338 271.7 340.5 269.6 343.1 268.5 345.6 271.8 348.1 276.5 350.6 276.3 353.1 275 355.6 275.6 358.1 276 360.6 276.9 363.1 277.7 365.7 273.7 368.2 267.8 370.7 262.8 373.2 258.5 375.7 264.2 378.2 274.2 380.7 277.6 383.2 277.7 385.8 277 388.3 276.4 390.8 276.4 393.3 276.6 395.8 277.2 398.3 275.6 400.8 272.9 403.3 272.9 405.8 273.6 408.4 274.7 410.9 276.5 413.4 277.5 415.9 274.5 418.4 263.9 420.9 254.4 423.4 255.4 425.9 262.7 428.5 268.8 431 268.8 433.5 268.4 436 271 438.5 272.5 441 272.5 443.5 272.8 446 273.7 448.6 275 451.1 273.6 453.6 267.4 456.1 266.2 458.6 270.2 461.1 270.3 463.6 269.6 466.1 272.3 468.6 273.6 471.2 270.5 473.7 268.7 476.2 268.8 478.7 267.7 481.2 269.3 483.7 272.2 486.2 272.1 488.7 270.7 491.3 273.3 493.8 277 496.3 275.5 498.8 271.4 501.3 267.9 503.8 267.4 506.3 271 508.8 272.8 511.3 272.1 513.9 273.1 516.4 272.9 518.9 274.4 521.4 276.5" stroke="#0072BD" stroke-width="0.85"/>
<path d="M64.2 272.7Q65.5 272.9 66.8 275.4T69.3 274.7 71.8 263.1 74.3 257.8 76.8 267.6 79.3 276.1 81.8 277.8 84.3 274.2 86.8 269.5 89.4 267.6 91.9 266 94.4 266.4 96.9 268.9 99.4 271.9 101.9 267.8 104.4 265.7 106.9 270.5 109.5 267.5 112 262.9 114.5 264.6 117 269.2 119.5 270.9 122 269.9 124.5 272.9 127 275.6 129.5 274.6 132.1 274.5 134.6 276.2 137.1 277.5 139.6 274.5 142.1 269.3 144.6 266.3 147.1 268.2 149.6 274.3 152.2 277.9 154.7 276.3 157.2 271.6 159.7 261 162.2 250.1 164.7 252.7 167.2 266.9 169.7 276 172.2 276.9 174.8 275.4 177.3 270 179.8 267.6 182.3 271 184.8 271.5 187.3 268.7 189.8 270.1 192.3 273.2 194.9 275.6 197.4 277 199.9 275.5 202.4 272.8 204.9 269.3 207.4 265.4 209.9 265.1 212.4 271.4 214.9 276.6 217.5 277.8 220 277 222.5 275.5 225 274.2 227.5 269.7 230 265.7 232.5 268.6 235 273.4 237.6 274.3 240.1 273.2 242.6 273.8 245.1 276.6 247.6 278.1 250.1 277.7 252.6 275.7 255.1 272.3 257.7 272.8 260.2 274" stroke="#7E2F8E" stroke-width="0.85"/>
<path d="M260.2 274Q261.4 272.9 262.7 271.9T265.2 264.5 267.7 236.9 270.2 198 272.7 167.4 274.3 150.1 275 141.6 275.7 132.9 276.4 123.6 277.1 112.9 277.7 101.4 278.4 90 279.1 79.6 279.8 71.8 280.5 67.9 281.1 68 281.8 71.9 282.5 79.3 283.2 89 283.9 99.3 284.5 110.1 285.2 121.3 285.9 132.5 286.6 143.6 287.3 154.3 288.3 170.9 290.3 200.4 292.8 233.8 295.3 252 297.8 259.3 300.4 269.9 302.9 276.7 305.4 276.9 307.9 276.8 310.4 276.9 312.9 277.2" stroke="#7E2F8E" stroke-width="1.1"/>
<path d="M312.9 277.2Q314.2 277.4 315.4 277.1T317.9 274.7 320.4 273.1 323 275.5 325.5 277.1 328 277.4 330.5 278.1 333 277.4 335.5 275.4 338 271.2 340.5 267.9 343.1 270.1 345.6 272 348.1 264.5 350.6 255.9 353.1 260.1 355.6 267.4 358.1 266.1 360.6 262.5 363.1 264.7 365.7 265.1 368.2 264.7 370.7 267 373.2 269.6 375.7 272.4 378.2 273.3 380.7 272 383.2 269.4 385.8 271.5 388.3 274.1 390.8 272 393.3 269.6 395.8 266.8 398.3 267.2 400.8 265.6 403.3 264.6 405.8 265.8 408.4 261.2 410.9 263.5 413.4 273.1 415.9 276.7 418.4 273.3 420.9 268.9 423.4 264.8 425.9 261.6 428.5 262.3 431 267.8 433.5 271.6 436 274.3 438.5 276.2 441 276.2 443.5 277.3 446 274.3 448.6 270.1 451.1 269.8 453.6 273.9 456.1 277 458.6 275.7 461.1 274.6 463.6 273.8 466.1 273.9 468.6 274.9 471.2 274.9 473.7 271.9 476.2 271 478.7 273.9 481.2 272.7 483.7 269.4 486.2 269.2 488.7 270.4 491.3 272.1 493.8 274.6 496.3 276.5 498.8 277.2 501.3 277.2 503.8 273.8 506.3 268.9 508.8 268.9 511.3 270.8 513.9 269.7 516.4 269.3 518.9 269.7 521.4 270.1" stroke="#7E2F8E" stroke-width="0.85"/>
<path d="M64.2 261.8Q65.5 257.9 66.8 261.2T69.3 267.8 71.8 274.3 74.3 277.3 76.8 277.3 79.3 275.2 81.8 272.6 84.3 270.9 86.8 267.6 89.4 265.9 91.9 266.5 94.4 266.6 96.9 267.4 99.4 269.2 101.9 271.1 104.4 274.7 106.9 274 109.5 272.3 112 271.4 114.5 267.8 117 265.4 119.5 267.2 122 272 124.5 270.2 127 267.1 129.5 268.4 132.1 268.7 134.6 264.9 137.1 262.3 139.6 267.1 142.1 274.5 144.6 277 147.1 271.9 149.6 262.1 152.2 260.4 154.7 265.8 157.2 265.8 159.7 266.5 162.2 270 164.7 272.4 167.2 275.2 169.7 272.5 172.2 267.8 174.8 270.8 177.3 275.7 179.8 273.4 182.3 266.5 184.8 268.7 187.3 275.2 189.8 275.9 192.3 276.3 194.9 276.9" stroke="#D95319" stroke-width="0.85"/>
<path d="M194.9 276.9Q196.1 276.5 197.4 275.6T199.9 271.8 202.4 259.9 204.9 233.4 207.4 195.8 209.3 168.8 210.2 158 210.9 150.2 211.6 142.1 212.3 133.7 213 125 213.6 115.5 214.3 104.9 215 94.1 215.7 85.7 216.4 80.5 217 78.7 217.7 80.9 218.4 86.8 219.1 95.1 219.8 103.4 220.4 111.4 221.1 119.3 221.8 127.2 222.5 135.1 223.2 142.7 224.9 170.3 227.5 216.8 230 251.8 232.5 267.8 235 272.3 237.6 274.9 240.1 271.2 242.6 266.8 245.1 270.4 247.6 272.8" stroke="#D95319" stroke-width="1.1"/>
<path d="M247.6 272.8Q248.9 272.4 250.1 273.4T252.6 274.7 255.1 273.1 257.7 273.5 260.2 277 262.7 277.5 265.2 276.3 267.7 275.2 270.2 271.6 272.7 269.4 275.2 264.6 277.7 261.2 280.3 268.3 282.8 271.5 285.3 266.8 287.8 268.1 290.3 274.4 292.8 272.8 295.3 265.1 297.8 267.5 300.4 272.2 302.9 270.5 305.4 271.3 307.9 273.2 310.4 272.5 312.9 267.5 315.4 265.6 317.9 269.4 320.4 269.4 323 270.2 325.5 271.2 328 267.4 330.5 263.2 333 261.6 335.5 262.5 338 264.4 340.5 264.7 343.1 261.4 345.6 257.7 348.1 261.3 350.6 265.1 353.1 264.1 355.6 267.3 358.1 271.3 360.6 273 363.1 275.6 365.7 277.3 368.2 275.1 370.7 274.3 373.2 270.9 375.7 267.7 378.2 269.1 380.7 269.3 383.2 268.9 385.8 270.6 388.3 272.9 390.8 271.7 393.3 265.2 395.8 258 398.3 256.2 400.8 261.7 403.3 270.5 405.8 276.2 408.4 273.5 410.9 267.4 413.4 267.3 415.9 266.2 418.4 261.5 420.9 262.2 423.4 264.3 425.9 267.4 428.5 274.1 431 277.3 433.5 275.2 436 272.1 438.5 272.9 441 275.4 443.5 276.1 446 274.4 448.6 270.9 451.1 267.1 453.6 265.3 456.1 267 458.6 268.9 461.1 269.6 463.6 268.9 466.1 268.3 468.6 273.3 471.2 276.5 473.7 271.8 476.2 268.1 478.7 270.3 481.2 271.4 483.7 268.9 486.2 271.3 488.7 276.2 491.3 277.2 493.8 276.2 496.3 273.7 498.8 271.1 501.3 267.4 503.8 266.6 506.3 271.9 508.8 275.6 511.3 276 513.9 272.2 516.4 266.3 518.9 265.8 521.4 268.4" stroke="#D95319" stroke-width="0.85"/>
<path d="M64.2 273.3Q65.5 278.1 66.8 276.6T69.3 274.7 71.8 275.9 74.3 277.5 76.8 275.5 79.3 271.9 81.8 271.8 84.3 273.9 86.8 272.1 89.4 269.2 91.9 272.4 94.4 275.3 96.9 273.8 99.4 271.8 101.9 269.7 104.4 272.4 106.9 276.5 109.5 276.8 112 276 114.5 268.8 117 262.4 119.5 268.5 122 275.8 124.5 277.6 127 277.5 129.5 273.9 132.1 265.5 134.6 262.1 137.1 265.5 139.6 266.6 142.1 268.2 144.6 270.3 147.1 272.7 149.6 273.7 152.2 270.7 154.7 272.8 157.2 276.2 159.7 274.3 162.2 271.4 164.7 271.8 167.2 274.4 169.7 275.6 172.2 273.5 174.8 273.9 177.3 277.5 179.8 277.4 182.3 276.8 184.8 276.1 187.3 276.4 189.8 277 192.3 275.8 194.9 273.9 197.4 272.4 199.9 270.8 202.4 267.5 204.9 270.5 207.4 276.1 209.9 275.1 212.4 270.1 214.9 264 217.5 264.1 220 266.4 222.5 262.9 225 255.9 227.5 259 230 265.7 232.5 267 235 268.6 237.6 266.8 240.1 264.8 242.6 268.9 245.1 274.5 247.6 276.7 250.1 276.9 252.6 271.5 255.1 266.8 257.7 270.2 260.2 274.9 262.7 275.2 265.2 270.9 267.7 265.6 270.2 265.4 272.7 270.1 275.2 275 277.7 277.5 280.3 277.4 282.8 276.9 285.3 276.9 287.8 273.6 290.3 268.7 292.8 272.5 295.3 277.5 297.8 276.6 300.4 276.4 302.9 270.6 305.4 264 307.9 264.4 310.4 267.7 312.9 273.4 315.4 275.4 317.9 275.3 320.4 275.6 323 273.4 325.5 270.5 328 268.1 330.5 267.3 333 266.2 335.5 266.9 338 271 340.5 272.2 343.1 271.5 345.6 270.5 348.1 271 350.6 272.6 353.1 271.9 355.6 274.1 358.1 275.5 360.6 273.1 363.1 270.1 365.7 268.6 368.2 271.6 370.7 271 373.2 265.1 375.7 265.3 378.2 265.5 380.7 261.2 383.2 268.3 385.8 274.7 388.3 267.4" stroke="#0072BD" stroke-width="0.85"/>
<path d="M388.3 267.4Q389.5 262 390.8 264.8T393.3 268.6 395.8 264.8 398.3 246.8 400.8 217 402.8 187.3 403.9 168 404.6 155.8 405.3 144 405.9 132.4 406.6 121.2 407.3 111.7 408 104.1 408.7 97.5 409.3 93 410 91.9 410.7 94.5 411.4 100.6 412.1 109.4 412.7 119 413.4 128.3 414.1 137.6 414.8 146.5 415.5 154.7 416.1 162.8 416.8 170.9 418.4 185.7 420.9 214 423.4 241.9 425.9 255.6 428.5 264.6 431 271 433.5 270.3 436 271.2 438.5 274.6 441 274.9" stroke="#0072BD" stroke-width="1.1"/>
<path d="M441 274.9Q442.3 273.8 443.5 272.5T446 272.8 448.6 274.1 451.1 273.3 453.6 274.2 456.1 275.3 458.6 273.4 461.1 271.9 463.6 273.6 466.1 274.5 468.6 271.9 471.2 271.2 473.7 272.6 476.2 273.2 478.7 273.5 481.2 272.2 483.7 272.7 486.2 275.4 488.7 272.6 491.3 269.5 493.8 270.7 496.3 271.3 498.8 273.1 501.3 276.5 503.8 278 506.3 276.3 508.8 272.8 511.3 271.3 513.9 273 516.4 275.6 518.9 277.3 521.4 276.4" stroke="#0072BD" stroke-width="0.85"/>
<path d="M64.2 275.4Q65.5 273.4 66.8 274.3T69.3 276.4 71.8 277.1 74.3 275 76.8 273.6 79.3 271.5 81.8 272.5 84.3 276.1 86.8 273.8 89.4 270.9 91.9 272.8 94.4 275.7 96.9 276.7 99.4 276.9 101.9 275.9 104.4 272.3 106.9 264.3 109.5 258.3 112 262.4 114.5 267.4 117 263.4 119.5 262 122 265.8 124.5 269.6 127 273 129.5 274.3 132.1 275 134.6 274.1 137.1 274.2 139.6 274.1 142.1 269 144.6 264 147.1 269.7 149.6 275.2 152.2 271.3 154.7 269.5 157.2 268.3 159.7 266.2 162.2 267.4 164.7 270.9 167.2 273.7 169.7 274.8 172.2 276.3 174.8 276.2 177.3 276.7 179.8 277.3 182.3 277.2 184.8 274.1 187.3 272.3 189.8 274.9 192.3 273 194.9 270.9 197.4 271.3 199.9 271 202.4 270.5 204.9 272.1 207.4 275.9 209.9 272.1 212.4 266.6 214.9 270.8 217.5 272.7 220 270.5 222.5 269.6 225 264.5 227.5 259.7 230 257.7 232.5 254.2 235 256.6 237.6 268.1 240.1 276.3 242.6 275.9 245.1 275.8 247.6 277.4 250.1 276.4 252.6 274.5 255.1 269.2 257.7 266.3 260.2 268.8 262.7 269 265.2 268.5 267.7 264.3 270.2 257.3 272.7 261.5 275.2 269.1 277.7 270.3 280.3 273.6 282.8 276.9 285.3 277.5 287.8 277.4 290.3 275.7 292.8 272.5 295.3 270.7 297.8 270.4 300.4 266.6 302.9 261.4 305.4 260.3 307.9 265.4 310.4 268.9 312.9 264.8 315.4 261.8 317.9 263.2 320.4 267.7 323 272.7 325.5 274.5" stroke="#4DBEEE" stroke-width="0.85"/>
<path d="M325.5 274.5Q326.7 274.9 328 272.6T330.5 266.4 333 254.4 335.5 231.3 338 206.2 339.6 191.4 340.3 182.5 341 173.7 341.7 165 342.4 156.5 343.1 148.1 343.7 139.8 344.4 130.9 345.1 121.9 345.8 114.9 346.5 111.2 347.2 111.1 347.8 114.5 348.5 120.7 349.2 128.4 349.9 136.3 350.6 144.2 351.2 152.3 351.9 160.6 352.6 169.4 353.3 178.4 354 187.9 355.6 210.6 358.1 243 360.6 264.8 363.1 270.6 365.7 266.4 368.2 264 370.7 270.4 373.2 274.9 375.7 273.5" stroke="#4DBEEE" stroke-width="1.1"/>
<path d="M375.7 273.5Q377 273.3 378.2 272.5T380.7 270 383.2 267.1 385.8 266.8 388.3 267.5 390.8 264.4 393.3 264 395.8 267.6 398.3 268.4 400.8 272.5 403.3 276.2 405.8 271.4 408.4 270.2 410.9 275.4 413.4 273.1 415.9 267.5 418.4 270.8 420.9 276.2 423.4 275.3 425.9 272.8 428.5 273.5 431 275.5 433.5 273.1 436 271 438.5 274.9 441 277.4 443.5 276.2 446 275.2 448.6 272.7 451.1 268.7 453.6 264 456.1 263.8 458.6 268 461.1 273.6 463.6 276.2 466.1 273.2 468.6 272.3 471.2 270.7 473.7 267.7 476.2 269 478.7 272.2 481.2 275.8 483.7 277.4 486.2 276.7 488.7 274.3 491.3 271 493.8 272.2 496.3 276.1 498.8 277.2 501.3 275.5 503.8 271.8 506.3 266.8 508.8 261.8 511.3 263.9 513.9 270.7 516.4 272.7 518.9 271.2 521.4 271.9" stroke="#4DBEEE" stroke-width="0.85"/>
<path d="M64.2 272.5Q65.5 274.7 66.8 271.4T69.3 262.6 71.8 261.5 74.3 271.6 76.8 277.7 79.3 275.2 81.8 270.2 84.3 269.2 86.8 268.3 89.4 268.4 91.9 272 94.4 274.7 96.9 274.3 99.4 273.3 101.9 273.1 104.4 269.3 106.9 268.5 109.5 273.9 112 272.9 114.5 268.1 117 270.9 119.5 274.7 122 273.7 124.5 272.2 127 270.8 129.5 268.9 132.1 268 134.6 264.2 137.1 265.9 139.6 270.9 142.1 260.1 144.6 247.2 147.1 255.4 149.6 269.9 152.2 274.4 154.7 271 157.2 268.4 159.7 271.8 162.2 270.8 164.7 262.8 167.2 256.2 169.7 250.5 172.2 250.2 174.8 259.8 177.3 267.3 179.8 267 182.3 261.8 184.8 258.2 187.3 259.6 189.8 263.2 192.3 264 194.9 262.3 197.4 266.9 199.9 273.1 202.4 268.3 204.9 263.7 207.4 268.4 209.9 271.5 212.4 273.7 214.9 276.5 217.5 277.2 220 277.6 222.5 275.7 225 271.2 227.5 267.2" stroke="#EDB120" stroke-width="0.8" stroke-dasharray="8 3.5"/>
<polyline points="250.8,81 250.4,81.5 250.1,82.8 249.7,84.7 249.4,87.1 249.1,90 248.7,93.3 248.4,96.8 248,100.9 247.7,105.5 247.4,110.4 247,115.3 246.7,120.2 246.3,125.2 246,130.3 245.7,135.6 245.3,140.9 245,146.2 244.6,151.5 244.3,156.8 243.7,167.3 242.6,188.3 241.3,212.2 240.1,231.4 238.8,246.1 237.6,256.1 236.3,262.3 235,265.6 233.8,267.1 232.5,267.8 231.3,267.7 230,266.8 228.8,266.2 227.5,267.2" stroke="#EDB120" stroke-width="0.9" stroke-dasharray="8 3.5" stroke-dashoffset="4"/>
<polyline points="250.8,81 251.1,81.3 251.4,82.5 251.8,84.6 252.1,87.4 252.5,90.8 252.8,94.9 253.1,99.6 253.5,105 253.8,110.9 254.2,117.1 254.5,123.2 254.8,129.1 255.2,134.9 255.5,140.7 255.9,146.4 256.2,151.7 256.5,156.4 256.9,160.6 257.2,164.4 257.6,169 258.2,175.3 259.1,184.9 260.2,199.2 261.4,216.5 262.7,235 263.9,251.5 265.2,262.8 266.4,269.4 267.7,272 269,271.3 270.2,268.4 271.5,265.8 272.7,266.6 274,268.1 275.2,267.8 276.5,267.1 277.7,267.5" stroke="#EDB120" stroke-width="0.9" stroke-dasharray="8 3.5" stroke-dashoffset="4"/>
<path d="M277.7 267.5Q279 268.3 280.3 268.1T282.8 270.8 285.3 275.5 287.8 274.8 290.3 265 292.8 261.9 295.3 267.4 297.8 270.4 300.4 271.8 302.9 270 305.4 264.8 307.9 256.9 310.4 259.6 312.9 270.1 315.4 275.8 317.9 277.9 320.4 277.2 323 276.1 325.5 276 328 271.2 330.5 264.8 333 268.6 335.5 275.5 338 275.6 340.5 271 343.1 267.7 345.6 270.1 348.1 274.1 350.6 273.9 353.1 273.8 355.6 276.2 358.1 277.8 360.6 277.1 363.1 276.8 365.7 274.2 368.2 264.5 370.7 250 373.2 245 375.7 252.3 378.2 256.6 380.7 262.2 383.2 268.6 385.8 264.4 388.3 266.3 390.8 274.3 393.3 273.1 395.8 267.8 398.3 267.2 400.8 269.3 403.3 271.7 405.8 275.6 408.4 274.6 410.9 272.5 413.4 275 415.9 277 418.4 275.9 420.9 271 423.4 266.7 425.9 267.2 428.5 268.6 431 270.3 433.5 271.3 436 273.2 438.5 276.5 441 276.8 443.5 273.6 446 270.1 448.6 269.2 451.1 273 453.6 275.3 456.1 272.9 458.6 272.8 461.1 273.2 463.6 273.3 466.1 274.4 468.6 272.6 471.2 272 473.7 271.7 476.2 271.5 478.7 274.9 481.2 277.2 483.7 277.2 486.2 276.2 488.7 275 491.3 275.2 493.8 271.9 496.3 265.2 498.8 264.3 501.3 271.2 503.8 276.7 506.3 277.3 508.8 275.2 511.3 271.8 513.9 271.9 516.4 272.5 518.9 272.6 521.4 273.6" stroke="#EDB120" stroke-width="0.8" stroke-dasharray="8 3.5"/>
<path d="M64.2 274.4Q65.5 271.8 66.8 272.6T69.3 274.4 71.8 274.9 74.3 271.6 76.8 269.4 79.3 271.3 81.8 275.2 84.3 277 86.8 275.4 89.4 275.6 91.9 276.8 94.4 275 96.9 268.9 99.4 264.1 101.9 262.3 104.4 265.3 106.9 272.8 109.5 276.6 112 275.6 114.5 268.6 117 263.5 119.5 264.1 122 264.9 124.5 267.8 127 270.9 129.5 270.6 132.1 267.7 134.6 266 137.1 266.5 139.6 269 142.1 273.3 144.6 276 147.1 275.7 149.6 273.8 152.2 274.8 154.7 274.3 157.2 263.6 159.7 262.9 162.2 273.9" stroke="#0072BD" stroke-width="0.8" stroke-dasharray="8 3.5"/>
<polyline points="182.5,106.6 182.1,107 181.8,108 181.5,110 181.1,113.7 180.8,119 180.4,126 180.1,133.8 179.8,141.7 179.4,149.7 179.1,157.6 178.7,165.2 178.4,171.9 178.1,178.1 177.7,183.9 177.3,190.9 176.7,200.5 175.9,212.5 174.8,226.8 173.5,240.4 172.2,250.9 171,257.8 169.7,260.9 168.5,262.9 167.2,266.4 166,270.5 164.7,274.1 163.5,275.8 162.2,273.9" stroke="#0072BD" stroke-width="0.9" stroke-dasharray="8 3.5" stroke-dashoffset="4"/>
<polyline points="182.5,106.6 182.8,106.6 183.2,107.2 183.5,108 183.8,108.8 184.2,109.8 184.5,111.4 184.9,113.7 185.2,116.4 185.5,119.6 185.9,123.1 186.2,126.8 186.6,130.4 186.9,134.4 187.2,138.9 187.6,143.7 187.9,148.5 188.3,153.3 188.6,158 188.9,162.6 189.3,167.2 189.6,171.7 190,176.3 190.3,180.9 190.6,185.5 191.2,193.4 192.3,208.1 193.6,224.5 194.9,237.7 196.1,248.6 197.4,258.1 198.6,266 199.9,271.8 201.1,274.8 202.4,274.3 203.6,272.8 204.9,272.4 206.2,273.2 207.4,274.7 208.7,276.4 209.9,277.3 211.2,277.6 212.4,277.3 213.7,276.9 214.9,276.8" stroke="#0072BD" stroke-width="0.9" stroke-dasharray="8 3.5" stroke-dashoffset="4"/>
<path d="M214.9 276.8Q216.2 277 217.5 276.7T220 276.7 222.5 275.5 225 273.6 227.5 275.4 230 277.7 232.5 276.8 235 274.9 237.6 275.5 240.1 277.6 242.6 278 245.1 276.7 247.6 272.3 250.1 270.9 252.6 272.9 255.1 272.2 257.7 263.6 260.2 255.7 262.7 260.5 265.2 271.7 267.7 277.5 270.2 272.8 272.7 269.4 275.2 271.4 277.7 272.4 280.3 274.1 282.8 272.6 285.3 269 287.8 269.2 290.3 271.2 292.8 271.9 295.3 271.4 297.8 268.1 300.4 260.9 302.9 258.6 305.4 262.5 307.9 268.7 310.4 274.5 312.9 274.9 315.4 272.1 317.9 271.5 320.4 273.9 323 276.6 325.5 276.5 328 270.7 330.5 264.1 333 267.7 335.5 273.6 338 270.6 340.5 267.6 343.1 263.5 345.6 263.5 348.1 270.6 350.6 268.2 353.1 262.2 355.6 266.3 358.1 268.8 360.6 266 363.1 265.1 365.7 268.7 368.2 275.2 370.7 273.3 373.2 262.9 375.7 250.3 378.2 245.9 380.7 255.1 383.2 267.3 385.8 273.5 388.3 275.5 390.8 276.7 393.3 277.5 395.8 277.8 398.3 276.8 400.8 270.5 403.3 256.7 405.8 254 408.4 265.3 410.9 271.2 413.4 274.2 415.9 276.8 418.4 277 420.9 271.9 423.4 267.3 425.9 271.7 428.5 273.6 431 268.9 433.5 266.3 436 268.3 438.5 272.6 441 275.1 443.5 272.7 446 269.6 448.6 271.8 451.1 274.9 453.6 272.5 456.1 270.6 458.6 269.5 461.1 267.3 463.6 265.1 466.1 260.9 468.6 261 471.2 265.9 473.7 271.4 476.2 274.3 478.7 270.6 481.2 262.8 483.7 256.4 486.2 254 488.7 259.6 491.3 266.7 493.8 267.3 496.3 268.1 498.8 271.2 501.3 273.4 503.8 272.3 506.3 271.9 508.8 273.1 511.3 273.7 513.9 272.5 516.4 271.5 518.9 272.2 521.4 274.4" stroke="#0072BD" stroke-width="0.8" stroke-dasharray="8 3.5"/>
<path d="M64.2 257.8Q65.5 259.2 66.8 262.1T69.3 271.1 71.8 277.3 74.3 275.5 76.8 272.4 79.3 274.2 81.8 277.4 84.3 275.9 86.8 272.7 89.4 274.4 91.9 277.4 94.4 277.1 96.9 277 99.4 275.1 101.9 271.6 104.4 269.3 106.9 271.3 109.5 275.6 112 275 114.5 267.3 117 265.7 119.5 269.1 122 268.9 124.5 271.8 127 271.3 129.5 268.9 132.1 273.4 134.6 277 137.1 276.9 139.6 277.4 142.1 277.4 144.6 277 147.1 275.2 149.6 275.1 152.2 277.2 154.7 274.1 157.2 268.5 159.7 271.8 162.2 277.1 164.7 274.4 167.2 274.8 169.7 276.5 172.2 270.4 174.8 268.2 177.3 273.1 179.8 273.4 182.3 270.6 184.8 272 187.3 274.6 189.8 274.3 192.3 271.8 194.9 270.2 197.4 272.9 199.9 274.2 202.4 270.6 204.9 265.6 207.4 267 209.9 273.2 212.4 271.8 214.9 258.3 217.5 248.5 220 254.5 222.5 265.9 225 264.9 227.5 260.1 230 264.5 232.5 268.3 235 270.8 237.6 275.2 240.1 275.5 242.6 273.2 245.1 268.1 247.6 265.1 250.1 272.1 252.6 276.9 255.1 274.3 257.7 266.6 260.2 264.5 262.7 269.9 265.2 272.2 267.7 268.5 270.2 267.9 272.7 273 275.2 273.8 277.7 273.9 280.3 276.1 282.8 277 285.3 277 287.8 275.7 290.3 274.2 292.8 271.5 295.3 267.6 297.8 265 300.4 262.9 302.9 262.3 305.4 266.6 307.9 270.8 310.4 270.2 312.9 273.3 315.4 277.4 317.9 277.5 320.4 277 323 268.9 325.5 260.5 328 266.9 330.5 276.2 333 278.1 335.5 273.4 338 264.3 340.5 263.2 343.1 265.2 345.6 265.9 348.1 271.4 350.6 269.7 353.1 259.9 355.6 259.9 358.1 265.7 360.6 264.1 363.1 262.5 365.7 265.6 368.2 265.8 370.7 263.5 373.2 268.3 375.7 274.8 378.2 274.9 380.7 272.3 383.2 270.6 385.8 271.5 388.3 271.5" stroke="#0072BD" stroke-width="0.8" stroke-dasharray="8 3.5"/>
<polyline points="410.7,117 410.4,117.3 410,118.3 409.7,120.1 409.3,122.6 409,126 408.7,130.1 408.3,134.6 408,139.8 407.6,145.5 407.3,151.2 407,156.5 406.6,161.4 406.3,166.2 405.9,170.8 405.6,175.3 405.3,179.9 404.9,184.4 404.6,188.9 404.2,193.5 403.8,199.9 403,209.9 402,222 400.8,234.4 399.6,244.6 398.3,249.6 397.1,252.1 395.8,254.4 394.5,257.5 393.3,262.3 392,266.9 390.8,269.3 389.5,270.5 388.3,271.5" stroke="#0072BD" stroke-width="0.9" stroke-dasharray="8 3.5" stroke-dashoffset="4"/>
<polyline points="410.7,117 411,117.4 411.4,118.4 411.7,119.9 412.1,122 412.4,125.1 412.7,128.9 413.1,133.2 413.4,138.1 413.8,143.5 414.1,149.1 414.4,154.7 414.8,160.1 415.1,165.2 415.5,170.3 415.8,175.3 416.1,180.4 416.5,185.6 416.8,190.4 417.2,194.7 417.7,199.9 418.6,207.4 419.7,217.2 420.9,229.3 422.2,242.7 423.4,256.5 424.7,267.7 425.9,273.4 427.2,275.8 428.5,276.9 429.7,276.2 431,273.1 432.2,269.9 433.5,268.9 434.7,269.4 436,270.9 437.2,272.5 438.5,273.4 439.8,273.4 441,272.1" stroke="#0072BD" stroke-width="0.9" stroke-dasharray="8 3.5" stroke-dashoffset="4"/>
<path d="M441 272.1Q442.3 270.2 443.5 269.9T446 267.9 448.6 267.2 451.1 267.5 453.6 267.1 456.1 268.6 458.6 269.5 461.1 264.4 463.6 261.6 466.1 266.8 468.6 269 471.2 270.3 473.7 271.2 476.2 268.5 478.7 269.6 481.2 274.4 483.7 276.3 486.2 273 488.7 271.7 491.3 272.6 493.8 271.9 496.3 273.7 498.8 276.2 501.3 276.7 503.8 275.2 506.3 270.7 508.8 269 511.3 269.7 513.9 264.1 516.4 257.9 518.9 259.9 521.4 264.7" stroke="#0072BD" stroke-width="0.8" stroke-dasharray="8 3.5"/>
<path d="M64.2 266.6Q65.5 265.5 66.8 261.6T69.3 260.5 71.8 265.6 74.3 264.6 76.8 261.8 79.3 266.1 81.8 271 84.3 272 86.8 271.5 89.4 273.7 91.9 276.9 94.4 277.3 96.9 277.3 99.4 277.4 101.9 277.4 104.4 275.4 106.9 273.7 109.5 275.2 112 276.8 114.5 277.1 117 276.8 119.5 274.2 122 268.7 124.5 265.8 127 266.8 129.5 265.6 132.1 263.9 134.6 264.3 137.1 266 139.6 270 142.1 274.8 144.6 277.4 147.1 275.7 149.6 270.6 152.2 266.6 154.7 270.8 157.2 274.4 159.7 274 162.2 275 164.7 275.2 167.2 273.5 169.7 270.5 172.2 268.1 174.8 267.4 177.3 267 179.8 264 182.3 264.2 184.8 267.5 187.3 267.1 189.8 267.3 192.3 269.6 194.9 272.2 197.4 275.9 199.9 277.4 202.4 276.8 204.9 275.5 207.4 270.6 209.9 264.8 212.4 267.7 214.9 271.1 217.5 269.7 220 270.7 222.5 274.1 225 274.8 227.5 270.5 230 262.2 232.5 255 235 259.5 237.6 266.9 240.1 263.6 242.6 263.5 245.1 269.6 247.6 270.8 250.1 268.9 252.6 268 255.1 270.5 257.7 270.9 260.2 262.4" stroke="#7E2F8E" stroke-width="0.85"/>
<path d="M260.2 262.4Q261.4 255.7 262.7 254.6T265.2 256 267.7 254.9 270.2 237.8 272.7 205 274.5 179.1 275.3 168 276 159 276.6 150 277.3 141 278 132.1 278.7 123.5 279.4 115.4 280 108.1 280.7 102.8 281.4 100.4 282.1 100.6 282.8 103.7 283.5 109.5 284.1 117.1 284.8 125 285.5 133.1 286.2 141.6 286.9 150.7 287.5 160.6 288.2 170.6 290.1 197.8 292.8 233.7 295.3 255.8 297.8 268.4 300.4 274 302.9 273.7 305.4 269 307.9 264.8 310.4 266.1 312.9 270.4" stroke="#7E2F8E" stroke-width="1.1"/>
<path d="M312.9 270.4Q314.2 272 315.4 270.1T317.9 262.9 320.4 261.1 323 269.4 325.5 274.4 328 274.9 330.5 276.4 333 277.4 335.5 277 338 276.7 340.5 275.3 343.1 268.1 345.6 263.7 348.1 270.5 350.6 276.7 353.1 277.2 355.6 277.3 358.1 277.9 360.6 277.2 363.1 276.2 365.7 272.9 368.2 270.6 370.7 270.8 373.2 265.6 375.7 261.9 378.2 264.2 380.7 260.8 383.2 258.6 385.8 266.2 388.3 271.8 390.8 273.9 393.3 275.5 395.8 267.8 398.3 260.9 400.8 267.5 403.3 274.1 405.8 275.5 408.4 273 410.9 269.9 413.4 270.2 415.9 268.2 418.4 267.7 420.9 270.1 423.4 269.5 425.9 268.9 428.5 268.8 431 268.3 433.5 267.7 436 266.7 438.5 267.6 441 269.9 443.5 268.5 446 266.3 448.6 266.3 451.1 268.7 453.6 272.5 456.1 272.3 458.6 269.7 461.1 269.6 463.6 271.9 466.1 275.1 468.6 276.3 471.2 273.5 473.7 273.1 476.2 275.8 478.7 275.5 481.2 272.6 483.7 268.7 486.2 265.8 488.7 263.1 491.3 262.5 493.8 266.9 496.3 270.9 498.8 272.3 501.3 272.5 503.8 274.7 506.3 274.5 508.8 273.8 511.3 275.9 513.9 276.9 516.4 274.9 518.9 270.3 521.4 268.4" stroke="#7E2F8E" stroke-width="0.85"/>
<path d="M64.2 270.2Q65.5 274.2 66.8 275.1T69.3 273.7 71.8 274.3 74.3 277.2 76.8 275 79.3 273.6 81.8 275.8 84.3 277.5 86.8 277.5 89.4 277.4 91.9 276.8 94.4 275.8 96.9 276.5 99.4 276.4 101.9 276.2 104.4 277.4 106.9 274.4 109.5 272.4 112 274.9 114.5 271.5 117 269.3 119.5 271.5 122 269.1 124.5 265.2 127 266.1 129.5 268.6 132.1 269.7 134.6 269.9 137.1 271.3 139.6 272.4 142.1 265 144.6 261.9 147.1 264.5 149.6 259.5 152.2 260.4 154.7 269.9 157.2 272.6 159.7 272.8 162.2 269.4" stroke="#0072BD" stroke-width="0.85"/>
<path d="M162.2 269.4Q163.5 265 164.7 263.6T167.2 265.6 169.7 265.7 172.2 248.5 174.8 217.8 176.7 190.5 177.8 175.4 178.5 165.5 179.2 155.2 179.9 144.7 180.5 134.3 181.2 124.8 181.9 116.2 182.6 107.9 183.3 101.4 183.9 97.9 184.6 97.8 185.3 101.6 186 108.7 186.7 117.7 187.3 126.9 188 136 188.7 145.3 189.4 154.8 190.1 164.5 190.7 174.2 192.3 196.4 194.9 231.1 197.4 255.7 199.9 266.8 202.4 273.7 204.9 277.4 207.4 277.9 209.9 276.2 212.4 275.3 214.9 273.4" stroke="#0072BD" stroke-width="1.1"/>
<path d="M214.9 273.4Q216.2 270.8 217.5 266.3T220 259.5 222.5 258.1 225 265.5 227.5 273.7 230 271.6 232.5 266.3 235 264.2 237.6 264.9 240.1 263.7 242.6 261.1 245.1 262.3 247.6 264.9 250.1 266.9 252.6 268.2 255.1 268.2 257.7 267.1 260.2 267.4 262.7 265 265.2 264 267.7 266.3 270.2 268.3 272.7 269.3 275.2 264.2 277.7 265.8 280.3 274.4 282.8 277.5 285.3 274.1 287.8 263.7 290.3 259.8 292.8 265.2 295.3 271 297.8 272 300.4 266 302.9 260.8 305.4 264.7 307.9 269.5 310.4 270 312.9 273.8 315.4 275.7 317.9 276.1 320.4 277.2 323 274.9 325.5 270.7 328 272.2 330.5 276 333 271.1 335.5 264.8 338 262 340.5 260.6 343.1 265.1 345.6 269 348.1 270 350.6 271.9 353.1 272.3 355.6 270.7 358.1 267.1 360.6 266.9 363.1 270.7 365.7 272.7 368.2 272.7 370.7 274.7 373.2 276.7 375.7 275.5 378.2 274.9 380.7 274.9 383.2 272.6 385.8 263 388.3 255.4 390.8 260.4 393.3 265.5 395.8 260.5 398.3 260.1 400.8 267.5 403.3 269.7 405.8 267.7 408.4 263.8 410.9 262.3 413.4 261.6 415.9 265.2 418.4 270.9 420.9 271.5 423.4 268.2 425.9 267.2 428.5 270 431 267.6 433.5 265.7 436 270.6 438.5 276.1 441 277.5 443.5 275.7 446 273.1 448.6 273.5 451.1 275 453.6 275.6 456.1 274.9 458.6 271.4 461.1 268.2 463.6 272.5 466.1 276.4 468.6 274.4 471.2 272.5 473.7 273.5 476.2 275.2 478.7 275.2 481.2 272.7 483.7 270.4 486.2 270.9 488.7 271.2 491.3 272.7 493.8 275.6 496.3 274 498.8 270.6 501.3 269.9 503.8 267.9 506.3 266.5 508.8 271 511.3 274.3 513.9 268.8 516.4 264 518.9 269.1 521.4 275.9" stroke="#0072BD" stroke-width="0.85"/>
<path d="M64.2 276.1Q65.5 274.7 66.8 272T69.3 270.4 71.8 271.6 74.3 268.5 76.8 269.1 79.3 275 81.8 277.6 84.3 274 86.8 268.5 89.4 267.4 91.9 269.4 94.4 273.2 96.9 276 99.4 277 101.9 277.7 104.4 277.4 106.9 277 109.5 276.3 112 275.3 114.5 274.3 117 270.7 119.5 267.6 122 263.1 124.5 261.3 127 268.7 129.5 272.7 132.1 272.8 134.6 269.5 137.1 267.1 139.6 272.8 142.1 277.3 144.6 277.7 147.1 277.3 149.6 274.2 152.2 273.9 154.7 275.4 157.2 271.8 159.7 269.5 162.2 270 164.7 270.6 167.2 270.4 169.7 272 172.2 273.6 174.8 275.1 177.3 276.5 179.8 276.8 182.3 275.7 184.8 270.1 187.3 267 189.8 272.4 192.3 277.6 194.9 277.3 197.4 272.8 199.9 270.7 202.4 271.6 204.9 273.7 207.4 277.3 209.9 277.6 212.4 276.6 214.9 272.1 217.5 264.4 220 262.1 222.5 266.8 225 265.9 227.5 264 230 270.2 232.5 265 235 256.3 237.6 264.6 240.1 274 242.6 276.1 245.1 276 247.6 272.5 250.1 269.8 252.6 272.4 255.1 275.5 257.7 276 260.2 273.2 262.7 268.5 265.2 266.9 267.7 264.3 270.2 262.1 272.7 263.7 275.2 265.9 277.7 271.7 280.3 277.3 282.8 278.1 285.3 277.5 287.8 274.9 290.3 271.1" stroke="#77AC30" stroke-width="0.85"/>
<path d="M290.3 271.1Q291.6 269.3 292.8 271.3T295.3 273.4 297.8 268.9 300.4 255 302.9 234.1 305.5 210.4 307.2 194.3 307.9 186.5 308.5 178.9 309.2 171.5 309.9 164.5 310.6 157.6 311.3 150.5 311.9 143 312.6 136.4 313.3 132.2 314 131.2 314.7 134.5 315.3 141.6 316 150.7 316.7 159.7 317.4 167.7 318.1 175.3 318.7 182.7 319.4 190.1 320.1 197.4 321.1 207.7 323 222.6 325.5 241.4 328 256.9 330.5 266.1 333 270 335.5 266.8 338 265.7 340.5 272.1 343.1 277" stroke="#77AC30" stroke-width="1.1"/>
<path d="M343.1 277Q344.3 276.9 345.6 277.1T348.1 277.1 350.6 273.9 353.1 269.1 355.6 269.1 358.1 274.4 360.6 275.3 363.1 269.7 365.7 266.3 368.2 268.1 370.7 266.9 373.2 260.4 375.7 263.8 378.2 273.1 380.7 276.9 383.2 278 385.8 275.8 388.3 269.6 390.8 269.5 393.3 272.6 395.8 267.5 398.3 264 400.8 267.2 403.3 271.4 405.8 273 408.4 271.6 410.9 268.9 413.4 267.6 415.9 269 418.4 274.1 420.9 275.1 423.4 272.7 425.9 273.1 428.5 272.9 431 271 433.5 269.7 436 270.2 438.5 272 441 271.7 443.5 266.5 446 264.1 448.6 267.9 451.1 271.5 453.6 272.7 456.1 272.9 458.6 271.1 461.1 267.3 463.6 264.3 466.1 261.7 468.6 262 471.2 268.9 473.7 273.4 476.2 274.6 478.7 277.1 481.2 277.5 483.7 274.9 486.2 269 488.7 267 491.3 270.4 493.8 272.7 496.3 273.9 498.8 273.5 501.3 273.6 503.8 275.7 506.3 273.7 508.8 262.1 511.3 257.7 513.9 265.8 516.4 270 518.9 272.4 521.4 272.9" stroke="#77AC30" stroke-width="0.85"/>
<path d="M64.2 269.9Q65.5 269.5 66.8 268.2T69.3 266.3 71.8 264.9 74.3 266.3 76.8 269.2 79.3 268.2 81.8 266.2 84.3 269.5 86.8 273.2 89.4 270.1 91.9 268.5 94.4 270.5 96.9 271.4 99.4 269.7 101.9 261.9 104.4 258.2 106.9 268.7 109.5 277.3 112 277.5 114.5 274.9 117 265.4 119.5 262.8 122 268.3 124.5 269.5 127 270.8 129.5 269.3 132.1 261.3 134.6 256.6 137.1 260.9 139.6 268.9 142.1 274 144.6 273.8 147.1 265 149.6 257.7 152.2 263.1 154.7 269.6 157.2 271 159.7 271.9 162.2 270.6 164.7 267.4 167.2 267 169.7 271.5 172.2 275.9 174.8 277.1 177.3 277.3 179.8 277.2 182.3 270.3 184.8 266.3 187.3 271.5 189.8 274.1 192.3 273.9 194.9 270.7 197.4 272.4 199.9 274.9 202.4 272 204.9 266.6 207.4 262.8 209.9 267.4 212.4 274.3 214.9 272.4 217.5 264.8 220 263.8 222.5 267.9 225 269.9 227.5 271.6 230 272 232.5 270.1 235 271.6 237.6 275.6 240.1 277.1 242.6 277.3 245.1 277.6 247.6 273 250.1 269.9 252.6 273.1 255.1 274.7 257.7 272.6 260.2 272.3 262.7 274.3 265.2 273.1 267.7 271.7 270.2 274.9 272.7 276.9 275.2 271.7 277.7 267.3 280.3 265.2 282.8 264.3 285.3 268 287.8 269.8 290.3 266.5 292.8 268 295.3 274.2 297.8 276.6 300.4 276.4 302.9 276.3 305.4 276 307.9 276 310.4 273.6 312.9 269.3 315.4 269.3 317.9 270.7 320.4 265 323 256.7 325.5 260.7" stroke="#4DBEEE" stroke-width="0.85"/>
<path d="M325.5 260.7Q326.7 267.2 328 267.8T330.5 260.8 333 242.8 335.5 217.7 337.6 194.7 338.7 183 339.4 176.3 340.1 170.1 340.8 164.1 341.5 158.3 342.1 151.6 342.8 144.2 343.5 137.4 344.2 132.5 344.9 130.8 345.5 131.9 346.2 135.3 346.9 140.7 347.6 147.4 348.3 154.7 348.9 162.3 349.6 169.3 350.3 175.4 351 181.5 351.7 187.6 353.2 199.6 355.6 223.9 358.1 249.8 360.6 265.2 363.1 269.1 365.7 266.9 368.2 264.4 370.7 265.6 373.2 271.4 375.7 276.2" stroke="#4DBEEE" stroke-width="1.1"/>
<path d="M375.7 276.2Q377 277.5 378.2 274.8T380.7 269.1 383.2 267.2 385.8 268.2 388.3 267.3 390.8 266.8 393.3 270.8 395.8 273.4 398.3 270.8 400.8 270.2 403.3 274.4 405.8 277 408.4 274.5 410.9 267.3 413.4 259.9 415.9 262.4 418.4 270.5 420.9 272.5 423.4 272 425.9 274.9 428.5 277.1 431 277.5 433.5 277.4 436 275.7 438.5 273.2 441 271.3 443.5 269 446 264.7 448.6 264.3 451.1 266.9 453.6 270.4 456.1 275 458.6 276.9 461.1 277.1 463.6 272.1 466.1 267 468.6 265.7 471.2 262.9 473.7 262.3 476.2 265.8 478.7 271.9 481.2 272.8 483.7 269.5 486.2 270.3 488.7 269.7 491.3 269.6 493.8 274 496.3 277.1 498.8 274.6 501.3 274.4 503.8 274.7 506.3 268.1 508.8 265.5 511.3 270.3 513.9 273.8 516.4 274.2 518.9 272.9 521.4 272.8" stroke="#4DBEEE" stroke-width="0.85"/>
<path d="M64.2 268.7Q65.5 270.6 66.8 268.6T69.3 267.5 71.8 272.6 74.3 277.3 76.8 277.5 79.3 273.5 81.8 267.8 84.3 266.7 86.8 266.6 89.4 268.9 91.9 273 94.4 272.7 96.9 269 99.4 264.6 101.9 267.4 104.4 270.9 106.9 268.3 109.5 267.1 112 272 114.5 276.4 117 267.2 119.5 255.1 122 255.6 124.5 262.9 127 265.9 129.5 268.1 132.1 274 134.6 276 137.1 275.1 139.6 276.4 142.1 277.3 144.6 276.1 147.1 271.1 149.6 263.2 152.2 257.6 154.7 260.1 157.2 268.4 159.7 270.4 162.2 266.1 164.7 266.7 167.2 273.3 169.7 277 172.2 277.1 174.8 275.6 177.3 272.5 179.8 273.6 182.3 274.2 184.8 273.9 187.3 276.1 189.8 276.7 192.3 273.9 194.9 267.8 197.4 261.8 199.9 257.9 202.4 260.8 204.9 268.7 207.4 273.3 209.9 273.1 212.4 274.5 214.9 276.9 217.5 277.6 220 274.6 222.5 267.6 225 260.6 227.5 262 230 266.3 232.5 266.2 235 267.1 237.6 267.2 240.1 264.6 242.6 264.5 245.1 269.6 247.6 272.8 250.1 272.7 252.6 271.5 255.1 270.7 257.7 272.4 260.2 274.8 262.7 276 265.2 276.5 267.7 274.5 270.2 274 272.7 276.4 275.2 277.1 277.7 277 280.3 277.4 282.8 274.6 285.3 267 287.8 262.8 290.3 263.7 292.8 265.8 295.3 266 297.8 265.1 300.4 267.8 302.9 272.4 305.4 275.8 307.9 276.9 310.4 271.8 312.9 265.9 315.4 271 317.9 277.2 320.4 277.3 323 272.6 325.5 264.2" stroke="#4DBEEE" stroke-width="0.8" stroke-dasharray="8 3.5"/>
<polyline points="349,88.8 348.7,88.9 348.3,89.7 348,91.2 347.7,93.3 347.3,95.8 347,98.6 346.6,101.6 346.3,104.6 346,107.9 345.6,111.7 345.3,115.7 344.9,119.7 344.6,123.8 344.3,128.4 343.9,133.4 343.6,138.7 343.2,144.2 342.9,149.7 342.6,155.3 342.2,160.8 341.6,170 340.6,186.5 339.3,204.5 338,217.9 336.8,227 335.5,231.9 334.3,235.1 333,238.9 331.8,242.7 330.5,245.8 329.2,249.2 328,254.3 326.7,259.6 325.5,264.2" stroke="#4DBEEE" stroke-width="0.9" stroke-dasharray="8 3.5" stroke-dashoffset="4"/>
<polyline points="349,88.8 349.4,89.4 349.7,90.6 350,92.4 350.4,94.7 350.7,97.6 351.1,101.1 351.4,105.2 351.7,109.8 352.1,114.7 352.4,119.5 352.8,124.3 353.1,129 353.4,133.8 353.8,138.5 354.1,143.5 354.5,149 354.8,154.9 355.1,161.1 355.6,169.1 356.2,180.3 357,194.4 358.1,210.9 359.4,227.4 360.6,241.5 361.9,253.3 363.1,263.2 364.4,269.6 365.7,271.1 366.9,270.2 368.2,269.4 369.4,269.3 370.7,270.4 371.9,271.4 373.2,271 374.5,270.2 375.7,270.4" stroke="#4DBEEE" stroke-width="0.9" stroke-dasharray="8 3.5" stroke-dashoffset="4"/>
<path d="M375.7 270.4Q377 271 378.2 269.6T380.7 268 383.2 268.3 385.8 272.4 388.3 274.3 390.8 266 393.3 262.6 395.8 269.6 398.3 274.9 400.8 276.2 403.3 274.9 405.8 275.6 408.4 276.1 410.9 276.2 413.4 277.3 415.9 275 418.4 269.4 420.9 268.6 423.4 271.9 425.9 272.2 428.5 274.5 431 277.1 433.5 276.3 436 274.8 438.5 273.3 441 269.3 443.5 268.1 446 272.3 448.6 273.7 451.1 268.4 453.6 266.3 456.1 272.1 458.6 274.2 461.1 272.9 463.6 272.8 466.1 269.4 468.6 267.2 471.2 270.6 473.7 272.4 476.2 270.2 478.7 269.4 481.2 270.3 483.7 270.8 486.2 267.7 488.7 264.1 491.3 268.8 493.8 275.4 496.3 275.6 498.8 271.2 501.3 268.6 503.8 269.9 506.3 271.9 508.8 275 511.3 275.6 513.9 273.4 516.4 272.8 518.9 271.4 521.4 271.9" stroke="#4DBEEE" stroke-width="0.8" stroke-dasharray="8 3.5"/>
<path d="M64.2 266.4Q65.5 265.5 66.8 266.4T69.3 260.6 71.8 258.3 74.3 263.6 76.8 270.3 79.3 276.8 81.8 275.6 84.3 265.6 86.8 244.3 89.4 237.2 91.9 256.6 94.4 273 96.9 276.9 99.4 275.2 101.9 273 104.4 272.7 106.9 269.5 109.5 266.5 112 265.5 114.5 262.3 117 263.2 119.5 266.7 122 268.5 124.5 268.6 127 267.7 129.5 272.6 132.1 276.9 134.6 277.4 137.1 277.3 139.6 273.7 142.1 271.1 144.6 271.7 147.1 269.5 149.6 263.7 152.2 260.1 154.7 262 157.2 252.9 159.7 239.5 162.2 251 164.7 262.8 167.2 256.7 169.7 260.1 172.2 270.6 174.8 275.4 177.3 277.6 179.8 278 182.3 276.2 184.8 274.6 187.3 273.8 189.8 274.8 192.3 275.7 194.9 271.5 197.4 267.8 199.9 268.4 202.4 268.8 204.9 263.9 207.4 259.1 209.9 265.3 212.4 274.8 214.9 276.4 217.5 270.5 220 270.8 222.5 276.1 225 273.6 227.5 269.1 230 272 232.5 277 235 277.1 237.6 275.8 240.1 268.2 242.6 264.2 245.1 269.4 247.6 271.2 250.1 270.2 252.6 272 255.1 275.7 257.7 276.7 260.2 269.7" stroke="#7E2F8E" stroke-width="0.8" stroke-dasharray="8 3.5"/>
<polyline points="280.5,17.8 280.2,18.1 279.8,19.1 279.5,20.7 279.2,23.5 278.8,28.1 278.5,34.3 278.1,41.6 277.8,49.6 277.5,57.7 277.1,65.9 276.8,74.2 276.4,82.7 276.1,91.6 275.8,100.8 275.4,110.1 275.1,119.5 274.7,129.1 274.1,144.6 272.9,172.3 271.5,202.5 270.2,226.1 269,243 267.7,253.3 266.4,259.4 265.2,263.6 263.9,265.5 262.7,264.9 261.4,265.2 260.2,269.7" stroke="#7E2F8E" stroke-width="0.9" stroke-dasharray="8 3.5" stroke-dashoffset="4"/>
<polyline points="280.5,17.8 280.9,18.3 281.2,19.4 281.5,21.2 281.9,23.6 282.2,26.6 282.6,30.1 282.9,34.5 283.2,39.7 283.6,45.7 283.9,52.5 284.3,60.2 284.6,68.4 284.9,76.8 285.3,85.3 285.6,93.9 286,102.5 286.3,111.2 286.6,119.5 287,127.4 287.3,134.9 287.7,142.5 288,151 288.5,161.4 289.2,176.2 290.3,197.9 291.6,221.2 292.8,241.2 294.1,255.9 295.3,263.5 296.6,266.3 297.8,266.9 299.1,267.9 300.4,271.9 301.6,276 302.9,277.4 304.1,277.4 305.4,277.3 306.6,276.7 307.9,275.4 309.1,273.1 310.4,269.1 311.7,265.2 312.9,263.1" stroke="#7E2F8E" stroke-width="0.9" stroke-dasharray="8 3.5" stroke-dashoffset="4"/>
<path d="M312.9 263.1Q314.2 261.9 315.4 263.7T317.9 263.4 320.4 258 323 264.7 325.5 275.9 328 275.4 330.5 272.4 333 272.6 335.5 275.8 338 276.9 340.5 276.9 343.1 277.5 345.6 277.2 348.1 276.1 350.6 269.8 353.1 260.9 355.6 256.9 358.1 262.8 360.6 270.9 363.1 272.5 365.7 272.4 368.2 272.8 370.7 275.2 373.2 277.2 375.7 276.8 378.2 274.6 380.7 275.5 383.2 277.2 385.8 271 388.3 261 390.8 250 393.3 248.1 395.8 251 398.3 253 400.8 264.1 403.3 272.4 405.8 269.7 408.4 267.5 410.9 271.5 413.4 273.6 415.9 271.8 418.4 271.4 420.9 273 423.4 274.9 425.9 275.9 428.5 268.2 431 257.1 433.5 256 436 263.4 438.5 268.9 441 268.2 443.5 268.4 446 273.5 448.6 275.9 451.1 275 453.6 274.8 456.1 272.7 458.6 267.1 461.1 264.3 463.6 266.6 466.1 266.4 468.6 267.8 471.2 272.5 473.7 274.3 476.2 273.4 478.7 271.6 481.2 268.9 483.7 268.9 486.2 269.9 488.7 267.9 491.3 266.3 493.8 266.3 496.3 268.8 498.8 274.3 501.3 277.7 503.8 277.9 506.3 273.2 508.8 268.5 511.3 271.3 513.9 274.9 516.4 273.6 518.9 271.2 521.4 271.2" stroke="#7E2F8E" stroke-width="0.8" stroke-dasharray="8 3.5"/>
<path d="M64.2 274.4Q65.5 271.2 66.8 269.6T69.3 270.5 71.8 271.9 74.3 271.8 76.8 275.4 79.3 270.1 81.8 262.5 84.3 268 86.8 275.5 89.4 276.4 91.9 265.4 94.4 260.5 96.9 267.4 99.4 271.9 101.9 273.6 104.4 272.2 106.9 273.1 109.5 274.6 112 273 114.5 269.9 117 267.3 119.5 267.3 122 267 124.5 269 127 273 129.5 273.3 132.1 272 134.6 273 137.1 275.4 139.6 276.8 142.1 277.5 144.6 272.9 147.1 267.1 149.6 269.5 152.2 273.6 154.7 276.4 157.2 275.9 159.7 268 162.2 260.6 164.7 258.2 167.2 262.5 169.7 266.8 172.2 267.2 174.8 268.6 177.3 268.5 179.8 265.9 182.3 262.9 184.8 264.8 187.3 268.6 189.8 270.2 192.3 271.3 194.9 272.3 197.4 269.8 199.9 266 202.4 266.9 204.9 270.4 207.4 274.6 209.9 277.1 212.4 277.5 214.9 276.7 217.5 272 220 269.4 222.5 273.6 225 276.4 227.5 269.2 230 258.7 232.5 255.6 235 257 237.6 263.6 240.1 270.4 242.6 270.2 245.1 263.6 247.6 260.4 250.1 265.1 252.6 268.6 255.1 272.1 257.7 275.9 260.2 277.1 262.7 277 265.2 276.4 267.7 271.1 270.2 263.8 272.7 265.1 275.2 273 277.7 277 280.3 273.7 282.8 271 285.3 273.3 287.8 275.6 290.3 273.9 292.8 269.8 295.3 268.3 297.8 271.4 300.4 275 302.9 276.5 305.4 275 307.9 272 310.4 271.2 312.9 270.4 315.4 270.9 317.9 268.2 320.4 264.2 323 265.3 325.5 267.5" stroke="#4DBEEE" stroke-width="0.85"/>
<path d="M325.5 267.5Q326.7 268.4 328 268.6T330.5 261.7 333 239 335.5 207.6 337.5 182.8 338.6 169.5 339.3 161.1 339.9 152.5 340.6 143.9 341.3 135 342 125.2 342.7 114.6 343.4 104.2 344 96 344.7 92.1 345.4 92.6 346.1 96.8 346.8 104.3 347.4 114 348.1 124.2 348.8 134.4 349.5 142.8 350.2 148.8 350.8 154.1 351.5 159.3 353.1 175 355.6 208.5 358.1 242.6 360.6 260.4 363.1 261.6 365.7 255.3 368.2 260.1 370.7 272.1 373.2 274.5 375.7 270.9" stroke="#4DBEEE" stroke-width="1.1"/>
<path d="M375.7 270.9Q377 268.9 378.2 268.7T380.7 272.2 383.2 275.8 385.8 273.6 388.3 267.5 390.8 262.6 393.3 263.2 395.8 264.6 398.3 266.3 400.8 271.5 403.3 276.2 405.8 277.7 408.4 277.1 410.9 273.9 413.4 271.6 415.9 273.9 418.4 274.5 420.9 272.1 423.4 270.9 425.9 272.4 428.5 273.5 431 270.4 433.5 268.3 436 268.9 438.5 271.2 441 273.7 443.5 274.2 446 274.4 448.6 273.3 451.1 273.6 453.6 275.3 456.1 276.5 458.6 274.7 461.1 270.2 463.6 266 466.1 262.8 468.6 266.5 471.2 272.5 473.7 275.4 476.2 275.8 478.7 273.3 481.2 270.9 483.7 268.8 486.2 267.4 488.7 267.6 491.3 270.2 493.8 272.8 496.3 274.4 498.8 276.5 501.3 277.7 503.8 276.8 506.3 274.1 508.8 273.1 511.3 275 513.9 276.4 516.4 276.9 518.9 275.8 521.4 272.7" stroke="#4DBEEE" stroke-width="0.85"/>
<path d="M64.2 277.7Q65.5 277.8 66.8 274.1T69.3 268.3 71.8 269 74.3 269.9 76.8 260.4 79.3 261.9 81.8 274.4 84.3 277.3 86.8 274.2 89.4 273.5 91.9 275.1 94.4 273.5 96.9 272.7 99.4 272.9 101.9 273.4 104.4 276.3 106.9 277.4 109.5 276.8 112 274.1 114.5 273.9 117 277 119.5 277.2 122 277.3 124.5 277.6 127 271.6 129.5 267 132.1 270.6 134.6 275 137.1 277.3 139.6 278 142.1 277.2 144.6 272.9 147.1 270.3 149.6 271.1 152.2 270.5 154.7 270 157.2 269.6 159.7 271 162.2 270.5 164.7 264.9 167.2 264.4 169.7 269.2 172.2 272.3 174.8 272 177.3 269.6 179.8 272.2 182.3 276.7 184.8 276.5 187.3 273.5 189.8 270.2 192.3 267.8 194.9 265.8 197.4 270.8 199.9 276.8 202.4 275 204.9 274.5 207.4 274.4 209.9 274.5 212.4 276.6 214.9 273.1 217.5 264.5 220 265.1 222.5 273.9 225 275.3 227.5 274.9 230 275.5 232.5 273.2 235 274.3 237.6 277 240.1 277.5 242.6 276.3 245.1 276.6 247.6 277.5 250.1 273.4 252.6 271 255.1 274.2 257.7 276.4 260.2 274.2" stroke="#7E2F8E" stroke-width="0.85"/>
<path d="M260.2 274.2Q261.4 272 262.7 270.8T265.2 269.4 267.7 262.9 270.2 246.1 272.9 221.8 274.6 202.9 275.3 192.8 276 182.7 276.6 172.6 277.3 162.4 278 152.5 278.7 142.7 279.4 134.8 280 129.7 280.7 126.9 281.4 126.9 282.1 130.4 282.8 136.9 283.4 145.1 284.1 153.7 284.8 162.1 285.5 170.3 286.2 178.5 286.8 186.6 287.5 194.6 288.5 205.7 290.3 226.7 292.8 251.5 295.3 267.5 297.8 274.1 300.4 274.8 302.9 271.2 305.4 262.3 307.9 260.4 310.4 267.5 312.9 269.9" stroke="#7E2F8E" stroke-width="1.1"/>
<path d="M312.9 269.9Q314.2 269.1 315.4 269.7T317.9 267 320.4 258.7 323 251.6 325.5 260.5 328 273.2 330.5 273.6 333 270.6 335.5 269.2 338 273.7 340.5 277.8 343.1 273.9 345.6 269.3 348.1 272.7 350.6 276.8 353.1 271.8 355.6 263.3 358.1 262.6 360.6 270.5 363.1 275.2 365.7 272.5 368.2 269.7 370.7 270.3 373.2 270.8 375.7 268.7 378.2 270.4 380.7 275.5 383.2 277.3 385.8 276.6 388.3 274.6 390.8 273.5 393.3 272.7 395.8 267.2 398.3 265.1 400.8 268.7 403.3 268.3 405.8 269.4 408.4 272.9 410.9 273.8 413.4 275.3 415.9 276.1 418.4 275.8 420.9 276.8 423.4 277.2 425.9 273.9 428.5 270.1 431 266.7 433.5 259.6 436 259.3 438.5 267.5 441 271.9 443.5 272 446 270.9 448.6 270.1 451.1 268.7 453.6 270.3 456.1 271.5 458.6 270.4 461.1 272.7 463.6 272.5 466.1 269.8 468.6 269.4 471.2 264.4 473.7 262.2 476.2 268.9 478.7 274.3 481.2 275.7 483.7 273.9 486.2 273.1 488.7 275.5 491.3 276.9 493.8 276.8 496.3 276.4 498.8 275.6 501.3 274.9 503.8 271.5 506.3 267.8 508.8 270.3 511.3 275.9 513.9 276.8 516.4 272.8 518.9 270.5 521.4 270.8" stroke="#7E2F8E" stroke-width="0.85"/>
<path d="M64.2 258.1Q65.5 262.8 66.8 263.8T69.3 259.1 71.8 256.4 74.3 266.1 76.8 273.6 79.3 274.1 81.8 275.2 84.3 277.1 86.8 273.6 89.4 269.1 91.9 268.1 94.4 266.3 96.9 268.1 99.4 271.5 101.9 271.4 104.4 271.9 106.9 271.9 109.5 269.2 112 267.2 114.5 266.5 117 268.9 119.5 273.2 122 276.2 124.5 277 127 274 129.5 267.9 132.1 262.9 134.6 261.7 137.1 256.6 139.6 252.8 142.1 259.8 144.6 270.9 147.1 276.4 149.6 276.1 152.2 274.9 154.7 275.2 157.2 276.5 159.7 277.1 162.2 273.3 164.7 272.4 167.2 275.5 169.7 274.4 172.2 274.6 174.8 272 177.3 266.8 179.8 269.3 182.3 275.3 184.8 277.2 187.3 277.2 189.8 272.8 192.3 269 194.9 273.1" stroke="#D95319" stroke-width="0.8" stroke-dasharray="8 3.5"/>
<polyline points="218.8,88.1 218.5,89.5 218.2,92.2 217.8,95.5 217.5,99.3 217.1,103.6 216.8,108.4 216.5,113.7 216.1,119.2 215.8,124.7 215.4,130.1 215.1,135.7 214.8,141.3 214.4,146.9 214.1,152.5 213.7,158.2 213.4,163.8 213.1,169.5 212.6,176.9 211.9,188 211.1,202.2 209.9,219.1 208.7,235.6 207.4,248.7 206.2,257.3 204.9,260.3 203.6,261.3 202.4,263.5 201.1,266.8 199.9,271.1 198.6,274.7 197.4,276 196.1,275.4 194.9,273.1" stroke="#D95319" stroke-width="0.9" stroke-dasharray="8 3.5" stroke-dashoffset="4"/>
<polyline points="218.8,88.1 219.2,88.3 219.5,89.7 219.9,91.8 220.2,94.4 220.5,97.5 220.9,101.1 221.2,104.9 221.6,109.1 221.9,113.5 222.2,118.3 222.6,123.6 222.9,129.3 223.3,134.9 223.6,140.3 223.9,145.1 224.3,149.5 224.6,153.8 225,158 225.3,162.1 225.6,166.3 226,170.5 226.5,178.2 227.5,192.6 228.8,210.7 230,229 231.3,244.5 232.5,254 233.8,259.6 235,263.8 236.3,267.3 237.6,270.8 238.8,273.5 240.1,274.3 241.3,272.9 242.6,268.7 243.8,263.8 245.1,260.1 246.3,259.2 247.6,262.5" stroke="#D95319" stroke-width="0.9" stroke-dasharray="8 3.5" stroke-dashoffset="4"/>
<path d="M247.6 262.5Q248.9 268 250.1 266.8T252.6 263.2 255.1 266 257.7 273.6 260.2 276.5 262.7 275.8 265.2 273.8 267.7 274.1 270.2 276.2 272.7 276.9 275.2 277.3 277.7 277.4 280.3 274.1 282.8 272.7 285.3 274.6 287.8 271.8 290.3 268.7 292.8 271.8 295.3 274.6 297.8 271.5 300.4 269.2 302.9 271.9 305.4 272.8 307.9 270.1 310.4 268 312.9 269.3 315.4 269.4 317.9 268.4 320.4 271 323 269.5 325.5 266.6 328 269.4 330.5 269 333 270.6 335.5 275.8 338 274.9 340.5 270 343.1 266.7 345.6 267 348.1 264.6 350.6 261.6 353.1 256.1 355.6 247.9 358.1 257.2 360.6 273.2 363.1 277.1 365.7 276.9 368.2 274.8 370.7 273.2 373.2 275.1 375.7 276.7 378.2 276.2 380.7 276.6 383.2 277.6 385.8 274.7 388.3 270.5 390.8 269.9 393.3 271.2 395.8 273.7 398.3 273.4 400.8 267 403.3 261.7 405.8 263.9 408.4 270 410.9 273 413.4 269.1 415.9 266.2 418.4 271.8 420.9 276.8 423.4 277.5 425.9 277.6 428.5 273.2 431 269.4 433.5 271.8 436 271.5 438.5 262 441 259.4 443.5 269.2 446 275.1 448.6 276.6 451.1 277.1 453.6 273.1 456.1 262.1 458.6 256.6 461.1 263.6 463.6 270.4 466.1 270.7 468.6 269.5 471.2 273.1 473.7 277.1 476.2 271.9 478.7 265.5 481.2 263.7 483.7 264.1 486.2 265.6 488.7 268 491.3 268.8 493.8 264.3 496.3 263.3 498.8 267.6 501.3 269.7 503.8 272 506.3 275.6 508.8 272.9 511.3 266.1 513.9 265.2 516.4 270.3 518.9 270.9 521.4 268.5" stroke="#D95319" stroke-width="0.8" stroke-dasharray="8 3.5"/>
<path d="M64.2 275.4Q65.5 276.2 66.8 273.7T69.3 272 71.8 270.4 74.3 268.8 76.8 273 79.3 274.8 81.8 270.5 84.3 267 86.8 263.1 89.4 264.6 91.9 269.7 94.4 273.6 96.9 275.4 99.4 272.3 101.9 274.1 104.4 276.8 106.9 276.5 109.5 277.3 112 277.8 114.5 277.2 117 276.6 119.5 276.7 122 277.2 124.5 277.1 127 270.8 129.5 258.5 132.1 258.1 134.6 268.9 137.1 274.9 139.6 273.9 142.1 271.4 144.6 273.4 147.1 274 149.6 269.8 152.2 267.7 154.7 269.4 157.2 271.4 159.7 273.6 162.2 274 164.7 272.9 167.2 273.9 169.7 273.2 172.2 267.9 174.8 266.6 177.3 273.5 179.8 278 182.3 273.1 184.8 267.4 187.3 268.6 189.8 274.1 192.3 274.9 194.9 270 197.4 268.4 199.9 272.3 202.4 275.2 204.9 272.7 207.4 268.8 209.9 268.1 212.4 273.4 214.9 277.2 217.5 272.7 220 271.6 222.5 272.2 225 267.9 227.5 269.1 230 270 232.5 265 235 269.6 237.6 277.3 240.1 274.6 242.6 271.6 245.1 272 247.6 270.3 250.1 266.6 252.6 266.3 255.1 266.1 257.7 264.4 260.2 265.9 262.7 265.9 265.2 265.8 267.7 265.6 270.2 260.6 272.7 267.4 275.2 277.2 277.7 277.2 280.3 276.6 282.8 273.6 285.3 269.5 287.8 263 290.3 265.1 292.8 274.4 295.3 276 297.8 274.7 300.4 273.8 302.9 269.8 305.4 266 307.9 266 310.4 270 312.9 271.8 315.4 271.1 317.9 274.1 320.4 276.8 323 277.4 325.5 276.9 328 272.7 330.5 267.6 333 262.7 335.5 253 338 254 340.5 269.3 343.1 274.6 345.6 270.5 348.1 269.8 350.6 271.4 353.1 273 355.6 275.4" stroke="#A2142F" stroke-width="0.85"/>
<path d="M355.6 275.4Q356.9 276.9 358.1 276.2T360.6 271 363.1 259.8 365.7 243.6 368.2 225.5 370 211.6 370.8 202.9 371.5 195.9 372.2 188.6 372.9 180.7 373.5 172.7 374.2 164.9 374.9 158.4 375.6 153.1 376.3 149.2 376.9 147.7 377.6 148.9 378.3 152.7 379 158.9 379.7 165.7 380.3 171.5 381 176.9 381.7 182.3 382.4 188.8 383.1 196.4 383.7 204.1 385.5 219.6 388.3 240.3 390.8 254.6 393.3 262.5 395.8 269.1 398.3 271.6 400.8 270.7 403.3 272 405.8 273 408.4 273.6" stroke="#A2142F" stroke-width="1.1"/>
<path d="M408.4 273.6Q409.6 274.1 410.9 273T413.4 271.7 415.9 271.7 418.4 269.6 420.9 269.2 423.4 273.3 425.9 273.1 428.5 270.9 431 273.7 433.5 274.9 436 272.9 438.5 271.8 441 271.3 443.5 270.7 446 272 448.6 275.4 451.1 275.4 453.6 271.1 456.1 266.9 458.6 264.9 461.1 265 463.6 264.8 466.1 265.2 468.6 269.8 471.2 272.8 473.7 269.8 476.2 268.3 478.7 273.4 481.2 276.8 483.7 272.7 486.2 270.3 488.7 274.5 491.3 274 493.8 268.5 496.3 266.8 498.8 269.2 501.3 272.1 503.8 274 506.3 274.2 508.8 270.4 511.3 259.9 513.9 253.2 516.4 261.9 518.9 273.6 521.4 275.9" stroke="#A2142F" stroke-width="0.85"/>
<path d="M64.2 228.2Q65.5 219 66.8 214.3T69.3 201.2 71.8 196 74.3 210.5 76.8 232.8 79.3 250.5 81.8 260.4 84.3 266.8 86.8 269.5 89.4 268.7 91.9 269.9 94.4 274 96.9 274.3 99.4 271.6 101.9 272.8 104.4 267.5 106.9 257.5 109.5 257 112 258.7 114.5 265.4 117 275.4 119.5 277.2 122 274.5 124.5 266.5 127 263.7 129.5 268.4 132.1 267.8 134.6 261.8 137.1 262.7 139.6 269.5 142.1 269.7 144.6 265.2 147.1 264.5 149.6 263.6 152.2 263.9 154.7 268.1 157.2 266.7 159.7 259.3 162.2 259.6 164.7 262.3 167.2 262.2 169.7 266.3 172.2 268.4 174.8 266.6 177.3 264.8 179.8 265.4 182.3 267.4 184.8 272.2 187.3 276.8 189.8 277.6 192.3 276.7 194.9 274.9 197.4 273.3 199.9 271.9 202.4 273.4 204.9 273.9 207.4 267 209.9 258.4 212.4 259.1 214.9 260.5 217.5 259.7 220 267.2 222.5 273.6 225 275.4 227.5 275.7 230 273.8 232.5 274.3 235 273.7 237.6 271.3 240.1 271.4 242.6 271.2 245.1 274.3 247.6 277.6 250.1 277 252.6 276.2 255.1 276.2 257.7 276.5 260.2 276.9 262.7 277 265.2 277.4 267.7 277.4 270.2 276.8 272.7 271.4 275.2 256.8 277.7 259.4 280.3 273.8 282.8 275.6 285.3 276.1 287.8 277.6 290.3 275.5" stroke="#77AC30" stroke-width="0.8" stroke-dasharray="8 3.5"/>
<polyline points="308.5,28.5 308.2,29 307.9,30.3 307.5,32.3 307.2,35 306.8,38.5 306.5,43 306.2,48.5 305.8,55 305.5,62 305.1,69 304.8,76.1 304.5,83.1 304.1,90.6 303.8,99 303.4,107.9 303.1,116.8 302.8,125.7 302.4,134.6 301.8,149.2 300.6,174.8 299.2,202.9 297.8,224.4 296.6,240.8 295.3,253.4 294.1,262.5 292.8,268.7 291.6,272.7 290.3,275.5" stroke="#77AC30" stroke-width="0.9" stroke-dasharray="8 3.5" stroke-dashoffset="4"/>
<polyline points="308.5,28.5 308.9,28.9 309.2,30.3 309.6,32.5 309.9,35.5 310.2,39.4 310.6,44.2 310.9,49.8 311.3,56.4 311.6,63.6 311.9,71.5 312.3,79.5 312.6,87.4 313,95.1 313.3,102.7 313.6,110.1 314,117.3 314.3,124 314.7,130.1 315,135.9 315.3,141.7 315.7,148 316.2,155.7 316.9,167.5 317.9,186.2 319.2,206.5 320.4,222.8 321.7,236.6 323,249.4 324.2,259 325.5,263.5 326.7,266.3 328,271.1 329.2,275.4 330.5,276.7 331.8,276.6 333,276.5 334.3,275.7 335.5,273 336.8,270 338,268.2 339.3,267.8 340.5,269.3 341.8,270.7 343.1,270.3" stroke="#77AC30" stroke-width="0.9" stroke-dasharray="8 3.5" stroke-dashoffset="4"/>
<path d="M343.1 270.3Q344.3 269.1 345.6 271.2T348.1 274.4 350.6 273 353.1 265.5 355.6 263.4 358.1 269.3 360.6 274.5 363.1 274.8 365.7 269.5 368.2 264.5 370.7 268.5 373.2 275.9 375.7 277.4 378.2 276.4 380.7 273.3 383.2 271.1 385.8 268.8 388.3 268.3 390.8 273.8 393.3 277.1 395.8 276.9 398.3 277.3 400.8 272.4 403.3 266.6 405.8 270.9 408.4 273.9 410.9 268.9 413.4 268.4 415.9 270.9 418.4 269.7 420.9 270.3 423.4 272.6 425.9 273.4 428.5 274 431 276 433.5 275.7 436 273.4 438.5 274.5 441 274.8 443.5 275.6 446 277.7 448.6 277.5 451.1 275.4 453.6 271.9 456.1 272.3 458.6 275.6 461.1 274.8 463.6 270.7 466.1 270.4 468.6 274.5 471.2 274.4 473.7 272.1 476.2 272.1 478.7 271.4 481.2 270 483.7 271 486.2 274.1 488.7 274.4 491.3 271.2 493.8 268.2 496.3 267.7 498.8 262.5 501.3 252 503.8 248.6 506.3 258.9 508.8 271 511.3 274 513.9 274.3 516.4 276 518.9 276.8 521.4 276.5" stroke="#77AC30" stroke-width="0.8" stroke-dasharray="8 3.5"/>
<path d="M64.2 255.7Q65.5 254.6 66.8 259.3T69.3 270.2 71.8 277.2 74.3 277.8 76.8 276.9 79.3 275.4 81.8 272.3 84.3 271.4 86.8 270.7 89.4 269.5 91.9 274.2 94.4 276.5 96.9 269.1 99.4 263.3 101.9 267.5 104.4 274.1 106.9 277.1 109.5 273.9 112 266.3 114.5 264.4 117 268.3 119.5 269.7 122 270.1 124.5 274.5 127 277.4 129.5 274.1 132.1 266.3 134.6 262.8 137.1 268.9 139.6 274.2 142.1 275.9 144.6 276.1 147.1 274.1 149.6 273.9 152.2 276.3 154.7 277.4 157.2 277.3 159.7 276.8 162.2 273.1 164.7 270.1 167.2 273.1 169.7 275.5 172.2 270 174.8 264.8 177.3 265.7 179.8 270.9 182.3 275.9 184.8 276.9 187.3 274.3 189.8 274.7 192.3 277 194.9 276.8 197.4 271.8 199.9 267.5 202.4 269.2 204.9 270.4 207.4 271.6 209.9 274 212.4 276 214.9 271.1 217.5 266.3 220 267.6 222.5 272.7 225 275.9 227.5 276.2 230 277.5 232.5 274.3 235 265.8 237.6 258.1 240.1 257.5 242.6 264 245.1 268.9 247.6 271.9 250.1 275 252.6 273.7 255.1 271.1 257.7 270.9 260.2 274.4 262.7 274.1 265.2 269.9 267.7 264.9 270.2 262.5 272.7 269.8 275.2 274.2 277.7 271.7 280.3 273.3 282.8 277.2 285.3 275.8 287.8 270 290.3 266.2" stroke="#77AC30" stroke-width="0.85"/>
<path d="M290.3 266.2Q291.6 265.9 292.8 267T295.3 263 297.8 247.6 300.4 228 302.9 205.9 304.7 185.8 305.6 173.8 306.3 164.9 307 154.9 307.7 143.8 308.3 132.8 309 122 309.7 111.6 310.4 102 311.1 94.4 311.7 90.4 312.4 90.7 313.1 94.9 313.8 102.3 314.5 112.3 315.1 123.7 315.8 135.4 316.5 147 317.2 157.5 317.9 167 318.5 176.6 320.3 194.8 323 222.9 325.5 245.5 328 262.7 330.5 274.2 333 274.2 335.5 264.7 338 259.1 340.5 268 343.1 276.6" stroke="#77AC30" stroke-width="1.1"/>
<path d="M343.1 276.6Q344.3 277.7 345.6 273.7T348.1 270.6 350.6 274.1 353.1 277.1 355.6 275.5 358.1 272.7 360.6 271.1 363.1 270.3 365.7 271.7 368.2 272.9 370.7 270.8 373.2 270.2 375.7 271.8 378.2 272.7 380.7 275.3 383.2 273 385.8 268.4 388.3 271.7 390.8 273.2 393.3 267.6 395.8 266.9 398.3 273.9 400.8 277.8 403.3 273.5 405.8 263.1 408.4 259.9 410.9 266.1 413.4 269.2 415.9 269.9 418.4 271.8 420.9 273.6 423.4 275.7 425.9 273.3 428.5 269.2 431 271.3 433.5 275.6 436 276.8 438.5 274.5 441 271.3 443.5 269.1 446 268 448.6 272.5 451.1 277.1 453.6 275.9 456.1 272.2 458.6 271.2 461.1 274 463.6 273.4 466.1 269.3 468.6 265.1 471.2 265.9 473.7 271.2 476.2 274.7 478.7 275.2 481.2 272.3 483.7 268.9 486.2 269.6 488.7 270.7 491.3 268.1 493.8 267.2 496.3 269.7 498.8 273.8 501.3 276.5 503.8 277.1 506.3 277.7 508.8 274.2 511.3 268.7 513.9 269.6 516.4 274.5 518.9 273.9 521.4 269.3" stroke="#77AC30" stroke-width="0.85"/>
<path d="M64.2 265.8Q65.5 268.7 66.8 267.4T69.3 260.5 71.8 263.8 74.3 275.3 76.8 277.8 79.3 274.6 81.8 270 84.3 268.6 86.8 267.9 89.4 262.7 91.9 257.3 94.4 262.3 96.9 273 99.4 277.4 101.9 274.3 104.4 271.8 106.9 274.6 109.5 272.6 112 265.4 114.5 263.7 117 270 119.5 276.7 122 277.7 124.5 277.3 127 277.7 129.5 277.6 132.1 272.5 134.6 267.9 137.1 272.6 139.6 277.4 142.1 276.3 144.6 276 147.1 277.4 149.6 277.1 152.2 276.7 154.7 272.8 157.2 267.5 159.7 268.1 162.2 271.9 164.7 269 167.2 261.7 169.7 258.4 172.2 257.7 174.8 265.5 177.3 275.1 179.8 276.8 182.3 275.8 184.8 272.1 187.3 269.6 189.8 270.3 192.3 268.8 194.9 268.9 197.4 273.2 199.9 276.2 202.4 276.8 204.9 276.9 207.4 276.8 209.9 274.8 212.4 271.1 214.9 269.2 217.5 269.2 220 267.2 222.5 268.6 225 271.1 227.5 269.9 230 270.6 232.5 273.7 235 275.7 237.6 274.6 240.1 275.7 242.6 277.4 245.1 277.4 247.6 277.6 250.1 276.6 252.6 273.5 255.1 268.9 257.7 271.5 260.2 275 262.7 272.4 265.2 271.3 267.7 274.2 270.2 276.8 272.7 273.3 275.2 267.9 277.7 266.7 280.3 267.2 282.8 264.4 285.3 261.8 287.8 264.5 290.3 269.3 292.8 270.4 295.3 271.4 297.8 273.3 300.4 274.7 302.9 274.4 305.4 270.8 307.9 269.2 310.4 269 312.9 268.5 315.4 266.1 317.9 263.1 320.4 258.1 323 257.7 325.5 267.1 328 274.9 330.5 274.9 333 268.9 335.5 271.3 338 276.8 340.5 273.8 343.1 268.5 345.6 269.3 348.1 274.7 350.6 275.8 353.1 272.7 355.6 265.7" stroke="#A2142F" stroke-width="0.85"/>
<path d="M355.6 265.7Q356.9 260.7 358.1 257.8T360.6 257.9 363.1 255.4 365.7 237.5 368.2 212.5 369.9 194.2 370.8 184.8 371.5 177.3 372.1 169.8 372.8 162.4 373.5 154.9 374.2 147.2 374.9 138.6 375.5 129.6 376.2 122.6 376.9 118.6 377.6 118.3 378.3 121.2 378.9 126.3 379.6 132.8 380.3 139.8 381 147.1 381.7 154.5 382.3 161.8 383 168.9 383.7 176.1 385.5 198.8 388.3 227.7 390.8 247 393.3 261.2 395.8 269.1 398.3 274 400.8 272.3 403.3 268.9 405.8 272.7 408.4 275.9" stroke="#A2142F" stroke-width="1.1"/>
<path d="M408.4 275.9Q409.6 275.3 410.9 274.1T413.4 272.7 415.9 271.7 418.4 271.7 420.9 272.1 423.4 270.4 425.9 271.8 428.5 275.2 431 275.7 433.5 276 436 274.6 438.5 270.7 441 268.7 443.5 267.7 446 271.8 448.6 277.4 451.1 277.3 453.6 276.4 456.1 272.2 458.6 269.4 461.1 272.6 463.6 274.7 466.1 271.8 468.6 265.2 471.2 264 473.7 268.3 476.2 269.4 478.7 269.7 481.2 271.5 483.7 273.7 486.2 273.7 488.7 272.8 491.3 274.6 493.8 275.9 496.3 276.1 498.8 277.1 501.3 275.7 503.8 271.4 506.3 268.8 508.8 271.7 511.3 276.3 513.9 277.8 516.4 276 518.9 273.2 521.4 271.3" stroke="#A2142F" stroke-width="0.85"/>
<path d="M64.2 272.3Q65.5 275.6 66.8 276.2T69.3 275.7 71.8 274.6 74.3 274.2 76.8 274.5 79.3 272.7 81.8 271.5 84.3 271.6 86.8 264.8 89.4 262.5 91.9 271.3 94.4 277.3 96.9 275.4 99.4 271.9 101.9 270.2 104.4 273.3 106.9 277.1 109.5 276.9 112 275.2 114.5 270.5 117 264.6 119.5 261.2 122 264.1 124.5 269 127 269.3 129.5 270 132.1 273.6 134.6 274.2 137.1 268 139.6 258.7 142.1 258.9 144.6 269.2 147.1 273.4 149.6 274.1 152.2 275.7 154.7 273.8 157.2 275.2 159.7 277.8 162.2 276.4 164.7 267.2 167.2 261.2 169.7 268.2 172.2 273 174.8 271.3 177.3 270.6 179.8 271.3 182.3 268.7 184.8 267.4 187.3 270.2 189.8 274.7 192.3 275.3 194.9 270.1 197.4 268.5 199.9 273.4 202.4 274.9 204.9 269.5 207.4 267.2 209.9 262.1 212.4 252.6 214.9 252.5 217.5 257.7 220 258.7 222.5 259.8 225 260.8 227.5 263.7 230 271.6 232.5 276.2 235 271.3 237.6 266.8 240.1 270.4 242.6 271.7 245.1 268.7 247.6 272.4 250.1 277.1 252.6 272.6 255.1 268.4 257.7 272.5 260.2 277.4 262.7 274 265.2 266.3 267.7 268.1 270.2 275.4 272.7 274.3 275.2 271.2 277.7 273.8 280.3 276.6 282.8 271.7 285.3 266.7 287.8 267.1 290.3 267.6" stroke="#77AC30" stroke-width="0.85"/>
<path d="M290.3 267.6Q291.6 267.5 292.8 266.6T295.3 261.7 297.8 254.9 300.4 250.5 302.9 234.6 305.5 197.7 307.3 169.4 307.9 158.1 308.6 146.8 309.3 137.4 310 130.4 310.7 124.1 311.3 117.8 312 111 312.7 105.5 313.4 103 314.1 103.8 314.7 107.6 315.4 114.2 316.1 122.7 316.8 131.9 317.5 141.1 318.1 150.5 318.8 160 319.5 169.7 320.2 179.4 321.1 192.7 323 217.5 325.5 246.2 328 265.4 330.5 268.1 333 267.1 335.5 272.7 338 271.4 340.5 267.2 343.1 271.8" stroke="#77AC30" stroke-width="1.1"/>
<path d="M343.1 271.8Q344.3 276.7 345.6 277.1T348.1 275.4 350.6 274.2 353.1 274.5 355.6 275.4 358.1 277.2 360.6 275.4 363.1 271.4 365.7 270.9 368.2 274.3 370.7 277.3 373.2 277.8 375.7 271.4 378.2 267.7 380.7 271.6 383.2 271.4 385.8 268.4 388.3 268.7 390.8 273.5 393.3 277.1 395.8 277.6 398.3 277.6 400.8 277 403.3 274.5 405.8 269.9 408.4 265.6 410.9 268.6 413.4 275.4 415.9 274 418.4 269.9 420.9 273.1 423.4 274.3 425.9 271.2 428.5 272.2 431 272.3 433.5 269.7 436 267.3 438.5 265.7 441 267.3 443.5 268.4 446 264.7 448.6 267.3 451.1 273.7 453.6 273.6 456.1 269.8 458.6 267.6 461.1 270.6 463.6 271.8 466.1 270.3 468.6 266.4 471.2 265.4 473.7 268.3 476.2 269.1 478.7 270.1 481.2 271.8 483.7 272.8 486.2 271.7 488.7 270.6 491.3 269.5 493.8 270.9 496.3 274.4 498.8 276.6 501.3 276.2 503.8 273.9 506.3 270.1 508.8 268.2 511.3 270.6 513.9 270.6 516.4 267.4 518.9 269 521.4 272.2" stroke="#77AC30" stroke-width="0.85"/>
<path d="M64.2 276.9Q65.5 277.2 66.8 272.5T69.3 267.7 71.8 271 74.3 275.2 76.8 276.3 79.3 276.9 81.8 275 84.3 270.6 86.8 266.1 89.4 267.2 91.9 269.9 94.4 269.9 96.9 269.9 99.4 270.8 101.9 271.4 104.4 272 106.9 275 109.5 274.4 112 270.3 114.5 266 117 261.1 119.5 263.7 122 273.5 124.5 277.6 127 276.9 129.5 276.4 132.1 274 134.6 274.5 137.1 277.6 139.6 275.8 142.1 271.2 144.6 265.2 147.1 262.8 149.6 263.5 152.2 261.5 154.7 265.1 157.2 272 159.7 274.7 162.2 272.5 164.7 265.2 167.2 260.5 169.7 265 172.2 273.1 174.8 276.9 177.3 277 179.8 273.8 182.3 270.2 184.8 273.4 187.3 277.1 189.8 274.5 192.3 274.1 194.9 275.6 197.4 275.1 199.9 271.6 202.4 266.3 204.9 265.7 207.4 266.4 209.9 266.9 212.4 265.2 214.9 258.7 217.5 258 220 267.5 222.5 275.2 225 275.6 227.5 273.5" stroke="#EDB120" stroke-width="0.85"/>
<path d="M227.5 273.5Q228.8 272.6 230 271.5T232.5 268.1 235 256.2 237.6 233.1 240.1 205 241.8 184.4 242.7 174.6 243.4 166.8 244.1 158.9 244.7 151 245.4 142.9 246.1 134.8 246.8 126.6 247.5 118.8 248.1 112.9 248.8 109.4 249.5 107.9 250.2 109.2 250.9 113.8 251.5 121.5 252.2 130.7 252.9 140 253.6 149.1 254.3 157.7 254.9 166 255.6 174 257.4 194.9 260.2 223.9 262.7 245.7 265.2 260.7 267.7 270.3 270.2 275.5 272.7 275.4 275.2 273.3 277.7 270.5" stroke="#EDB120" stroke-width="1.1"/>
<path d="M277.7 270.5Q279 268.4 280.3 265.1T282.8 268.5 285.3 273.3 287.8 266.3 290.3 259.8 292.8 261.7 295.3 270.7 297.8 276.8 300.4 273.6 302.9 269 305.4 263.9 307.9 262.9 310.4 266.9 312.9 268.5 315.4 269.9 317.9 271.7 320.4 273.2 323 273.8 325.5 273.3 328 273.4 330.5 275.5 333 277.1 335.5 274.2 338 271.2 340.5 273.4 343.1 275.8 345.6 274.3 348.1 269.1 350.6 268.3 353.1 268.9 355.6 268.7 358.1 270.8 360.6 271.4 363.1 271.6 365.7 268 368.2 265 370.7 268.6 373.2 271.7 375.7 263.6 378.2 255.8 380.7 261.6 383.2 269.3 385.8 270.3 388.3 268.5 390.8 266.9 393.3 269.9 395.8 273.6 398.3 272.9 400.8 265.9 403.3 257.8 405.8 260.8 408.4 265.3 410.9 263.4 413.4 266.6 415.9 272.3 418.4 270.1 420.9 266.7 423.4 267.3 425.9 265.7 428.5 266.9 431 273.8 433.5 274.8 436 270 438.5 265 441 265.3 443.5 269.6 446 270.1 448.6 270.5 451.1 273.6 453.6 274.4 456.1 271.4 458.6 265.3 461.1 260.2 463.6 266.2 466.1 274.8 468.6 276.8 471.2 276.4 473.7 275.2 476.2 272.4 478.7 269.7 481.2 272.9 483.7 277.3 486.2 277.7 488.7 272.7 491.3 267.5 493.8 272 496.3 276.9 498.8 274.1 501.3 268.1 503.8 264.8 506.3 266 508.8 267.5 511.3 268.4 513.9 269.4 516.4 266.8 518.9 267 521.4 272.8" stroke="#EDB120" stroke-width="0.85"/>
<path d="M64.2 273.6Q65.5 274 66.8 274.3T69.3 272.5 71.8 270.1 74.3 271.9 76.8 275.8 79.3 276.9 81.8 276.9 84.3 277 86.8 273.4 89.4 270.6 91.9 269.9 94.4 269.5 96.9 271.3 99.4 273.2 101.9 269.7 104.4 265.1 106.9 269.4 109.5 275.9 112 276.1 114.5 275 117 273.1 119.5 268.2 122 263.5 124.5 260.3 127 263.8 129.5 272.6 132.1 277.1 134.6 272.2 137.1 263 139.6 265.3 142.1 272.9 144.6 270.5 147.1 267.3 149.6 267 152.2 266.4 154.7 271.3 157.2 276.3 159.7 275.8 162.2 271.9 164.7 268.7 167.2 270.3 169.7 273.1 172.2 275.6 174.8 275.3 177.3 271.5 179.8 272.1 182.3 275.6 184.8 276.8 187.3 275.9 189.8 271.2 192.3 269.1 194.9 272.4 197.4 272.8 199.9 270.5 202.4 269.2 204.9 270.1 207.4 272.1 209.9 271.2 212.4 269.8 214.9 269.4 217.5 267.4 220 266.3 222.5 269.7 225 275.1 227.5 277.2 230 275.4 232.5 269.6 235 268.5 237.6 270.3 240.1 268.1 242.6 269 245.1 271.2 247.6 271 250.1 272.6 252.6 271.7 255.1 266 257.7 262.9 260.2 263.8 262.7 257.7 265.2 257.4 267.7 268.8 270.2 275.6 272.7 277 275.2 276.6 277.7 277.2 280.3 277.4 282.8 276.9 285.3 276.6 287.8 276.1 290.3 276.4" stroke="#77AC30" stroke-width="0.85"/>
<path d="M290.3 276.4Q291.6 277 292.8 276.7T295.3 270.6 297.8 262.6 300.4 248.6 302.9 221 304.9 194.8 306 180.2 306.7 171.2 307.4 162.2 308 153.1 308.7 144.1 309.4 136.1 310.1 129.3 310.8 122.8 311.4 118 312.1 116 312.8 117.1 313.5 121 314.2 127.5 314.8 135.7 315.5 144.2 316.2 152.8 316.9 161.4 317.6 170.2 318.2 179.1 318.9 188 320.5 204.5 323 232.5 325.5 257.9 328 270.6 330.5 274.8 333 272.8 335.5 266.8 338 263.2 340.5 266.8 343.1 273.5" stroke="#77AC30" stroke-width="1.1"/>
<path d="M343.1 273.5Q344.3 276.1 345.6 276.5T348.1 277.3 350.6 276 353.1 269.3 355.6 268.5 358.1 273.6 360.6 271.8 363.1 268.4 365.7 268.5 368.2 273.2 370.7 277 373.2 272.9 375.7 271 378.2 273.4 380.7 274.5 383.2 276 385.8 276.8 388.3 276 390.8 273.4 393.3 274.4 395.8 277.6 398.3 277.4 400.8 276.7 403.3 277.1 405.8 277.3 408.4 277.1 410.9 274.2 413.4 270.3 415.9 272.4 418.4 275.5 420.9 271.9 423.4 267.5 425.9 266.7 428.5 268.2 431 271.4 433.5 274.3 436 274.2 438.5 269.6 441 262.3 443.5 260 446 267.3 448.6 273.7 451.1 273.6 453.6 273.5 456.1 273.6 458.6 266.9 461.1 261 463.6 265.9 466.1 272.3 468.6 274.4 471.2 276 473.7 275.5 476.2 270.2 478.7 263.7 481.2 261.5 483.7 264.7 486.2 272.6 488.7 277.9 491.3 274.7 493.8 270.4 496.3 269.2 498.8 268.1 501.3 270.8 503.8 276.3 506.3 275.9 508.8 269.5 511.3 266.7 513.9 271.4 516.4 271.3 518.9 268.4 521.4 269.9" stroke="#77AC30" stroke-width="0.85"/>
</g>
<g stroke="#111" stroke-width="1.7" fill="none">
<path d="M184.7 98.2V145.4M180.7 98.2h8M180.7 145.4h8"/>
<path d="M216.9 80V145.4M212.9 80h8M212.9 145.4h8"/>
<path d="M248.4 82.4V141.7M244.4 82.4h8M244.4 141.7h8"/>
<path d="M281.2 62.8V157M277.2 62.8h8M277.2 157h8"/>
<path d="M312.8 50.3V131.2M308.8 50.3h8M308.8 131.2h8"/>
<path d="M345.8 44.1V142.7M341.8 44.1h8M341.8 142.7h8"/>
<path d="M377.8 118.9V155.5M373.8 118.9h8M373.8 155.5h8"/>
<path d="M410.7 93.7V160.7M406.7 93.7h8M406.7 160.7h8"/>
</g>
<g stroke="#505050" stroke-width="1.15" fill="none">
<path d="M519.5 0.5H65.6V281H519.5"/>
<path d="M518.9 0.5V281" stroke="#858585" stroke-width="1.7"/>
<path d="M117.9 281v-4.5M117.9 0.5v4.5M222.6 281v-4.5M222.6 0.5v4.5M327.2 281v-4.5M327.2 0.5v4.5M431.9 281v-4.5M431.9 0.5v4.5M65.6 281h4.5M519.5 281h-4.5M65.6 234.1h4.5M519.5 234.1h-4.5M65.6 187.1h4.5M519.5 187.1h-4.5M65.6 140.1h4.5M519.5 140.1h-4.5M65.6 93.2h4.5M519.5 93.2h-4.5M65.6 46.2h4.5M519.5 46.2h-4.5" stroke-width="1.1"/>
</g>
<text x="117.9" y="312.8" font-size="23.7" text-anchor="middle" textLength="37.5" lengthAdjust="spacingAndGlyphs">638</text>
<text x="222.6" y="312.8" font-size="23.7" text-anchor="middle" textLength="37.5" lengthAdjust="spacingAndGlyphs">640</text>
<text x="327.2" y="312.8" font-size="23.7" text-anchor="middle" textLength="37.5" lengthAdjust="spacingAndGlyphs">642</text>
<text x="431.9" y="312.8" font-size="23.7" text-anchor="middle" textLength="37.5" lengthAdjust="spacingAndGlyphs">644</text>
<text x="57.8" y="289.6" font-size="23.7" text-anchor="end" textLength="12.4" lengthAdjust="spacingAndGlyphs">0</text>
<text x="57.8" y="242.7" font-size="23.7" text-anchor="end" textLength="12.4" lengthAdjust="spacingAndGlyphs">5</text>
<text x="57.8" y="195.7" font-size="23.7" text-anchor="end" textLength="24.8" lengthAdjust="spacingAndGlyphs">10</text>
<text x="57.8" y="148.7" font-size="23.7" text-anchor="end" textLength="24.8" lengthAdjust="spacingAndGlyphs">15</text>
<text x="57.8" y="101.8" font-size="23.7" text-anchor="end" textLength="24.8" lengthAdjust="spacingAndGlyphs">20</text>
<text x="57.8" y="54.9" font-size="23.7" text-anchor="end" textLength="24.8" lengthAdjust="spacingAndGlyphs">25</text>
<text x="302" y="343.8" font-size="25.2" text-anchor="middle" textLength="181.5" lengthAdjust="spacingAndGlyphs">Wavelength [nm]</text>
<text x="24.5" y="120.6" font-size="25.2" text-anchor="middle" textLength="168" lengthAdjust="spacingAndGlyphs" transform="rotate(-90 24.5 120.6)">Enhancement</text>
<text x="70" y="29.8" font-size="30.5" text-anchor="start" textLength="37.5" lengthAdjust="spacingAndGlyphs">(a)</text>
<g clip-path="url(#cb)" fill="none" stroke-linejoin="round">
<path d="M60.8 606Q61.6 606.1 62.4 606.1T64 606.6 65.6 608.1 67.2 609.7 68.8 609.6 70.4 608 72 605.9 73.6 603.2 75.2 599.9 76.8 597.2 78.4 596.4 80 599.1 81.6 604.4 83.2 609.4 84.8 613.4 86.4 616.6 88 619 89.6 620.8 91.2 621.8 92.8 622.2 94.4 622.4 96 622.5 97.6 622.2 99.2 621.5 100.8 620.7 102.4 619.8 104 618.8 105.6 617.7 107.2 616.6 108.8 615.5 110.4 614.5 112 613.4 113.6 612.3 115.2 610.6 116.8 608.8 118.4 608.4 120 609.5 121.6 610.6 123.2 609.3 124.8 605.4 126.4 601.9 128 602.9 129.6 609.9 131.2 617.2 132.8 617.8 134.4 611.8 136 603.9 137.6 595.9 139.2 589.8 140.8 590 142.4 595.2 144 600.8 145.6 605.5 147.2 609.3 148.8 609.5 150.4 603.5 152 594.2 153.6 585.2 155.2 576.4 156.8 567.1 158.4 560.8 160 563.4 161.6 572.4 163.2 582.5 164.8 592.7 166.4 602.1 168 610.2 169.6 616.5 171.2 620.7 172.8 620.8 174.4 607.4" stroke="#D95319" stroke-width="0.95" stroke-dasharray="8 3.5"/>
<polyline points="184.4,385.8 184.1,386.2 183.8,387.9 183.5,390.9 183.2,394.9 182.9,399.6 182.6,404.7 182.3,409.8 182,415 181.7,420.3 181.4,425.9 181.1,431.8 180.8,438.2 180.5,444.8 180.2,451.6 179.9,458.6 179.6,465.7 179.3,472.8 179,480 178.7,487.1 178.4,494.3 178.1,501.6 177.8,509.1 177.5,516.9 177.2,524.9 176.9,533.3 176.6,542.6 176.3,553.1 176,565.4 175.6,579.9 175.1,594.6 174.4,607.4" stroke="#D95319" stroke-width="0.95" stroke-dasharray="8 3.5" stroke-dashoffset="4"/>
<polyline points="184.4,385.8 184.7,386.7 185,388.8 185.3,391.7 185.6,395.3 185.9,399.3 186.2,403.9 186.5,409.2 186.8,415.5 187.1,423.2 187.4,431.8 187.7,441 188,450.2 188.3,459 188.6,467.6 188.9,475.9 189.2,484.1 189.5,492.3 189.8,500.5 190.1,508.7 190.4,516.7 190.7,524.7 191,532.4 191.3,540 191.6,547.6 191.9,555.4 192.2,563.1 192.5,570.7 192.8,577.6 193.1,583.5 193.4,588.3 193.7,591.9 194,594.6 194.2,596.7 194.6,599 195.2,602.2" stroke="#D95319" stroke-width="0.95" stroke-dasharray="8 3.5" stroke-dashoffset="4"/>
<path d="M195.2 602.2Q196 606 196.8 605.1T198.4 602.9 200 601.5 201.6 603 203.2 606.3 204.8 609.5 206.4 612.5 208 614.9 209.6 616.6 211.2 617.7 212.8 616.9 214.4 614.3 216 612.6 217.6 613.9 219.2 616.1 220.8 616.4 222.4 614.5 224 611.9 225.6 609.1 227.2 606.8 228.8 606.7 230.4 609 232 612 233.6 615 235.2 617.8 236.8 619.8 238.4 621.2 240 621.9 241.6 621.8 243.2 621.3 244.8 620.5 246.4 619.3 248 618 249.6 616.8 251.2 615.6 252.8 614.4 254.4 612.7" stroke="#D95319" stroke-width="0.95" stroke-dasharray="8 3.5"/>
<polyline points="264.4,433.8 264.1,434.4 263.8,436.5 263.5,440.1 263.2,445 262.9,450.7 262.6,457 262.3,463.5 262,470.2 261.7,477.5 261.4,485.4 261.1,494.2 260.8,503.6 260.5,513.3 260.2,523.1 259.9,532.6 259.6,542.1 259.3,551.5 259,561 258.7,570.8 258.4,580.1 258.1,588.3 257.8,594.8 257.5,599.2 257.2,602.1 256.9,604.3 256.6,606.2 256.3,607.7 256,609.1 255.6,610.4 255.1,611.6 254.4,612.7" stroke="#D95319" stroke-width="0.95" stroke-dasharray="8 3.5" stroke-dashoffset="4"/>
<polyline points="264.4,433.8 264.7,434.7 265,436.7 265.3,439.6 265.6,443.1 265.9,447 266.2,451.1 266.5,455.2 266.8,459.6 267.1,464.7 267.4,470.2 267.7,476.1 268,482 268.3,487.8 268.6,493.3 268.9,498.2 269.2,502.7 269.5,507 269.8,511 270.1,514.9 270.4,518.7 270.7,522.2 271,525.6 271.3,528.7 271.7,532 272.2,536.1 272.9,540.5 273.6,544.9" stroke="#D95319" stroke-width="0.95" stroke-dasharray="8 3.5" stroke-dashoffset="4"/>
<path d="M273.6 544.9Q274.4 549.3 275.2 552.5T276.8 558.6 278.4 565.3 280 574 281.6 584.5 283.2 594 284.8 598.6 286.4 599.6 288 599.5 289.6 596.3 291.2 590.8 292.8 586.1 294.4 583.4 296 584.5 297.6 588.6 299.2 592.6 300.8 595.5 302.4 597.5 304 599 305.6 600.9 307.2 603.5 308.8 606.2 310.4 608.5 312 610.3 313.6 611.9 315.2 613.1 316.8 614 318.4 614.7 320 614.8 321.6 613.8 323.2 611.4 324.8 608.3 326.4 604 328 598.9 329.6 594.7 331.2 591.5 332.8 589.4 334.4 589.7 336 592.8 337.6 596.9 339.2 600.5 340.8 603.7 342.4 606.7 344 609.6 345.6 612.1 347.2 614.2 348.8 615.9 350.4 617.3 352 617.7 353.6 616.5 355.2 613.7 356.8 610.4 358.4 606.7 360 603 361.6 600.3 363.2 598.5 364.8 597.8 366.4 599.1 368 602 369.6 605.1 371.2 608 372.8 609.6 374.4 608.9 376 606.5 377.6 603.7 379.2 600.8 380.8 597.8 382.4 596.4 384 597.8 385.6 601 387.2 604.3 388.8 607 390.4 609.6 392 612 393.6 614.2 395.2 616.3 396.8 618 398.4 619.2 400 620 401.6 620.6 403.2 620.9 404.8 620.7 406.4 619.5 408 617.7 409.6 615.5 411.2 613 412.8 609.9 414.4 607 416 604.6 417.6 602.4 419.2 601 420.8 601.4 422.4 603.8 424 606.9 425.6 609.9 427.2 612.7 428.8 615.2 430.4 617.3 432 618.9 433.6 620 435.2 620.7 436.3 621 436.9 620.9 437.5 620.5 438.1 619.9 438.7 619.1 439.3 618.2 439.9 617.3 440.5 616.6 441.1 615.9 441.7 615.4 442.3 614.9 442.9 614.5 443.5 614.1 444.1 613.6 444.7 613.2 445.3 612.7 445.9 612.1 446.5 611.4 447.1 610.6 447.7 609.8 448.4 608.7 449.6 606.7 451.2 603.5 452.8 600.2 454.4 597.5 456 595.4 457.6 594.3 459.2 595.1 460.8 597.6 462.4 601.1 464 605.2 465.6 609 467.2 611.6 468.8 613.3 470.4 613.6 472 612.2 473.6 610.1 475.2 609.2 476.8 609.7 478.4 610.8 480 612 481.6 613.3 483.2 614.7 484.8 616.1 486.4 617.2 488 618.2 489.6 619.1 491.2 619.7 492.8 620.2 494.4 620.5 496 620.8 497.6 621 499.2 620.7 500.8 619.6 502.4 617.8 504 616 505.6 614.1 507.2 612.2 508.8 611.2 510.4 611.7 512 612.9 513.6 613.8 515.2 613.5 516.8 612.3 518.4 610.7 520 609 521.6 607.4" stroke="#D95319" stroke-width="0.95" stroke-dasharray="8 3.5"/>
<path d="M60.8 613.5Q61.6 615.1 62.4 616.4T64 619 65.6 621.5 67.2 623.4 68.8 623.7 70.4 622.5 72 618.6 73.6 612 75.2 604.8 76.8 598.7 78.4 596.6 80 598.3 81.6 601.5 83.2 605.2 84.8 608.1 86.4 610 88 610.6 89.6 609.2 91.2 606.4 92.8 604 94.4 602.3 96 602.4 97.6 605.8 99.2 610.6 100.8 615.5 102.4 620.1 104 622.4 105.6 622.9 107.2 623 108.8 622.5 110.4 621 112 619 113.6 617 115.2 615.5 116.8 615.4 118.4 616.2 120 616.9 121.6 617 123.2 617 124.8 616.9 126.4 615.7 128 613.9 129.6 613.3 131.2 614.4 132.8 615.8 134.4 617.3 136 618.5 137.6 618.4 139.2 616.7 140.8 615.4 142.4 616 144 617.4 145.6 617.6 147.2 616.2 148.8 614.3 150.4 612.3 152 610.2 153.6 608.2 155.2 606.6 156.8 606.9 158.4 609.3 160 611.8 161.6 613.6 163.2 614.7 164.8 614.8 166.4 614 168 609.1 169.6 594 171.2 564.1 172.8 530.2 174.4 500.3" stroke="#EDB120" stroke-width="0.95" stroke-dasharray="8 3.5"/>
<polyline points="183.2,396.3 182.9,396.6 182.6,397.4 182.3,398.4 182,399.7 181.7,401.1 181.4,402.6 181.1,404.4 180.8,406.4 180.5,408.8 180.2,411.4 179.9,414.3 179.6,417.3 179.3,420.5 179,423.8 178.7,427.3 178.4,431.1 178.1,435.2 177.8,439.6 177.5,444.3 177.2,449.2 176.9,454.3 176.6,459.5 176.3,464.7 176,470.6 175.6,477.6 175.1,487.1 174.4,500.3" stroke="#EDB120" stroke-width="0.95" stroke-dasharray="8 3.5" stroke-dashoffset="4"/>
<polyline points="183.2,396.3 183.5,396.5 183.8,397.3 184.1,398.6 184.4,400.5 184.7,402.7 185,405.3 185.3,408.1 185.6,411.7 185.9,416.4 186.2,422.2 186.5,429.2 186.8,437.1 187.1,445.4 187.4,453.8 187.7,461.9 188,469.9 188.3,477.5 188.6,485.1 188.9,492.9 189.2,500.6 189.5,508.4 189.8,516.1 190.1,523.6 190.4,530.9 190.7,538 191,545 191.3,551.9 191.6,558.7 191.9,565.3 192.2,571.6 192.5,577.2 192.8,582 193.1,585.9 193.4,589.2 193.7,592.3 194,594.9 194.2,596.9 194.6,598.9 195.2,601.7" stroke="#EDB120" stroke-width="0.95" stroke-dasharray="8 3.5" stroke-dashoffset="4"/>
<path d="M195.2 601.7Q196 604.9 196.8 605.8T198.4 607.5 200 609.3 201.6 611.6 203.2 613.9 204.8 616.2 206.4 618.4 208 619.9 209.6 620.6 211.2 620.9 212.8 620.5 214.4 619.1 216 618.4 217.6 619.5 219.2 621.3 220.8 621.2 222.4 619 224 616 225.6 613.1 227.2 611 228.8 610.3 230.4 610.5 232 612.5 233.6 615.2 235.2 617.6 236.8 619.3 238.4 620.5 240 621.3 241.6 621.8 243.2 621.7 244.8 620.6 246.4 618.8 248 615.7 249.6 611.3 251.2 606.4 252.8 600 254.4 590.4" stroke="#EDB120" stroke-width="0.95" stroke-dasharray="8 3.5"/>
<polyline points="264.7,382.1 264.4,382.3 264.1,384.9 263.8,389.3 263.5,394.9 263.2,401.3 262.9,407.9 262.6,415 262.3,423.1 262,431.9 261.7,441.5 261.4,451.4 261.1,461.2 260.8,470.8 260.5,479.8 260.2,488.4 259.9,497 259.6,505.4 259.3,513.6 259,521.6 258.7,529.1 258.4,536.2 258.1,542.7 257.8,548.7 257.5,554.3 257.2,559.6 256.9,564.5 256.6,569.1 256.3,573.2 256,577 255.6,580.8 255.1,585.1 254.4,590.4" stroke="#EDB120" stroke-width="0.95" stroke-dasharray="8 3.5" stroke-dashoffset="4"/>
<polyline points="264.7,382.1 265,384.1 265.3,388.4 265.6,394.2 265.9,400.7 266.2,408 266.5,415.7 266.8,424.3 267.1,434 267.4,444.4 267.7,454.8 268,464.9 268.3,473.9 268.6,482.1 268.9,489.6 269.2,496.6 269.5,503.4 269.8,509.7 270.1,515.6 270.4,520.9 270.7,525.6 271,529.7 271.3,533.4 271.7,537.1 272.2,541.7 272.9,546.5 273.6,550.9" stroke="#EDB120" stroke-width="0.95" stroke-dasharray="8 3.5" stroke-dashoffset="4"/>
<path d="M273.6 550.9Q274.4 555.1 275.2 557.1T276.8 560.2 278.4 562.5 280 565.1 281.6 570.4 283.2 579.4 284.8 588.3 286.4 594.2 288 598.1 289.6 601.2 291.2 603.6 292.8 605.3 294.4 605.5 296 603.7 297.6 600.8 299.2 597.7 300.8 594.5 302.4 591.2 304 588 305.6 584.7 307.2 582 308.8 581.9 310.4 584.6 312 587.9 313.6 591 315.2 593.3 316.8 593.6 318.4 592.8 320 592.3 321.6 593.8 323.2 596.6 324.8 599.3 326.4 601.6 328 602.6 329.6 601.1 331.2 598.9 332.8 598.8 334.4 601.1 336 603.9 337.6 606.7 339.2 609.4 340.8 611.7 342.4 613.5 344 614.9 345.6 616.2 347.2 617.1 348.8 617.8 350.4 618.3 352 618.8 353.6 619.1 355.2 619.4 356.8 619.7 358.4 619.9 360 619.9 361.6 619 363.2 617.2 364.8 615.2 366.4 613.3 368 611.4 369.6 610.3 371.2 610.6 372.8 611.9 374.4 613.4 376 614.8 377.6 615.7 379.2 615.1 380.8 613.1 382.4 611.5 384 611.3 385.6 612.2 387.2 613.4 388.8 614.6 390.4 615.8 392 616.7 393.6 616.5 395.2 614.5 396.8 611 398.4 606.4 400 600.3 401.6 593.7 403.2 587.9 404.8 582.9 406.4 579.8 408 580.6 409.6 585.1 411.2 590.9 412.8 597.5 414.4 603.8 416 608.2 417.6 611.1 419.2 613.1 420.8 614.3 422.4 615.1 424 616 425.6 617 427.2 618 428.8 618.9 430.4 619.6 432 620.3 433.6 620.9 435.2 621.4 436.3 621.7 436.9 621.9 437.5 622 438.1 621.9 438.7 621.6 439.3 621 439.9 620.1 440.5 619.3 441.1 618.6 441.7 618.1 442.3 618.1 442.9 618.3 443.5 618.6 444.1 619.1 444.7 619.5 445.3 619.8 445.9 620 446.5 619.9 447.1 619.8 447.7 619.5 448.4 619 449.6 618.1 451.2 616.8 452.8 615.3 454.4 613.6 456 612 457.6 610.7 459.2 609.4 460.8 608.1 462.4 606.8 464 605.5 465.6 604.3 467.2 603.1 468.8 601.8 470.4 600.9 472 601.3 473.6 603.5 475.2 606.1 476.8 606.7 478.4 605.6 480 603.9 481.6 601.4 483.2 598.4 484.8 595.7 486.4 593.6 488 593.9 489.6 599.3 491.2 608.6 492.8 616.2 494.4 619.6 496 620.7 497.6 620.7 499.2 619.7 500.8 618.2 502.4 616.6 504 615.2 505.6 613.9 507.2 613 508.8 612.5 510.4 612.1 512 611.8 513.6 611.3 515.2 610.6 516.8 609.2 518.4 607.6 520 606.2 521.6 605" stroke="#EDB120" stroke-width="0.95" stroke-dasharray="8 3.5"/>
<path d="M60.8 608.4Q61.6 608.7 62.4 609.5T64 612 65.6 615.4 67.2 617.3 68.8 617.8 70.4 617.4 72 615 73.6 611 75.2 606.3 76.8 601.2 78.4 597.4 80 597.8 81.6 601.7 83.2 606.2 84.8 610.5 86.4 614.9 88 617.2 89.6 615.2 91.2 611.7 92.8 609.2 94.4 608.9 96 611.7 97.6 614.9 99.2 617.1 100.8 618.8 102.4 619.9 104 620.7 105.6 620.6 107.2 619.2 108.8 617.3 110.4 615.3 112 613.3 113.6 611.2 115.2 609 116.8 607 118.4 605.2 120 605 121.6 606.6 123.2 607.6 124.8 606.6 126.4 604.7 128 602.9 129.6 601.3 131.2 601 132.8 602.9 134.4 605.8 136 608.3 137.6 610.1 139.2 610.1 140.8 607.4 142.4 605.2 144 605.5 145.6 606.7 147.2 608.8 148.8 611.3 150.4 613.3 152 613.4 153.6 612 155.2 611.2 156.8 611.5 158.4 612.9 160 614.1 161.6 611 163.2 602.1 164.8 587.4 166.4 570.4 168 557.4 169.6 549.2 171.2 543.4 172.8 541.5 174.4 543.1" stroke="#7E2F8E" stroke-width="0.95" stroke-dasharray="8 3.5"/>
<polyline points="185.6,389.4 185.3,389.8 185,392 184.7,395.4 184.4,399.7 184.1,404.7 183.8,410.4 183.5,416.8 183.2,423.6 182.9,430.6 182.6,437.7 182.3,444.9 182,452.3 181.7,460 181.4,467.7 181.1,475.4 180.8,482.8 180.5,489.9 180.2,496.8 179.9,503.7 179.6,510.3 179.3,516.6 179,522.2 178.7,526.9 178.4,530.9 178.1,534.5 177.8,537.7 177.5,540.6 177.2,543 176.9,544.6 176.6,545.6 176.3,545.8 176,545.5 175.6,544.9 175.1,544.1 174.4,543.1" stroke="#7E2F8E" stroke-width="0.95" stroke-dasharray="8 3.5" stroke-dashoffset="4"/>
<polyline points="185.6,389.4 185.9,391.3 186.2,395.2 186.5,400.3 186.8,406.2 187.1,412.7 187.4,419.9 187.7,428.3 188,437.6 188.3,447.3 188.6,457.2 188.9,466.7 189.2,476.1 189.5,485.4 189.8,494.8 190.1,504.1 190.4,513.4 190.7,522.5 191,531.2 191.3,539.5 191.6,547.6 191.9,555.7 192.2,563.6 192.5,571.2 192.8,578.1 193.1,583.8 193.4,588.3 193.7,591.6 194,594 194.2,595.8 194.6,597.7 195.2,600.6" stroke="#7E2F8E" stroke-width="0.95" stroke-dasharray="8 3.5" stroke-dashoffset="4"/>
<path d="M195.2 600.6Q196 604 196.8 604.8T198.4 605.7 200 604 201.6 599.4 203.2 593.8 204.8 589.4 206.4 587.3 208 586.7 209.6 588.6 211.2 592.3 212.8 595.9 214.4 599 216 601.3 217.6 602.6 219.2 601.7 220.8 598.1 222.4 591.2 224 582.5 225.6 576.2 227.2 573.3 228.8 574.4 230.4 578.3 232 583.4 233.6 589.3 235.2 594.6 236.8 598 238.4 597.6 240 593.7 241.6 586.6 243.2 572.6 244.8 549.8 246.4 523.6 248 504.6 249.6 499.5 251.2 504.4 252.8 503.6 254.4 488.3" stroke="#7E2F8E" stroke-width="0.95" stroke-dasharray="8 3.5"/>
<polyline points="258.1,455.5 257.8,455.5 257.5,456.3 257.2,457.7 256.9,459.4 256.6,461.5 256.3,464 256,467.4 255.6,472.1 255.1,478.8 254.4,488.3" stroke="#7E2F8E" stroke-width="0.95" stroke-dasharray="8 3.5" stroke-dashoffset="4"/>
<polyline points="258.1,455.5 258.4,456 258.7,457.2 259,458.9 259.3,460.7 259.6,463 259.9,465.7 260.2,468.9 260.5,472.5 260.8,476.4 261.1,480.1 261.4,483.7 261.7,486.9 262,489.8 262.3,492.6 262.6,495.3 262.9,498 263.2,500.9 263.5,504.1 263.8,507.7 264.1,512.1 264.4,517.3 264.7,523.4 265,529.7 265.3,535.8 265.6,541.5 265.9,546.7 266.2,551.6 266.5,556.1 266.8,560.3 267.1,564 267.4,567.5 267.7,570.7 268,573.7 268.3,576.4 268.6,578.9 268.9,581.2 269.2,583.2 269.5,585.1 269.8,586.9 270.1,588.5 270.4,589.9 270.7,591.3 271,592.4 271.3,593.5 271.7,594.6 272.2,596 272.9,597.6 273.6,599.3" stroke="#7E2F8E" stroke-width="0.95" stroke-dasharray="8 3.5" stroke-dashoffset="4"/>
<path d="M273.6 599.3Q274.4 601.1 275.2 603.3T276.8 608.1 278.4 613.3 280 617.8 281.6 620.4 283.2 621.5 284.8 621.9 286.4 621.9 288 621.5 289.6 621.1 291.2 620.4 292.8 619.5 294.4 619.2 296 619.6 297.6 619.6 299.2 617.7 300.8 614.5 302.4 611.1 304 607.8 305.6 605.2 307.2 603.2 308.8 602.2 310.4 602.7 312 604.1 313.6 605.6 315.2 607 316.8 607.7 318.4 606.7 320 604.9 321.6 604.9 323.2 607.4 324.8 609.5 326.4 609.6 328 608.7 329.6 607.2 331.2 604.9 332.8 603.3 334.4 603.2 336 603.6 337.6 603.9 339.2 603.3 340.8 602 342.4 601.4 344 603.3 345.6 607 347.2 610.8 348.8 614.2 350.4 616.1 352 616.7 353.6 616.9 355.2 616.5 356.8 615.5 358.4 615.2 360 616 361.6 616.7 363.2 616.1 364.8 614.3 366.4 612.8 368 611.7 369.6 611.2 371.2 611.8 372.8 613.2 374.4 613.8 376 613.3 377.6 612.2 379.2 609.7 380.8 606.6 382.4 604.2 384 603.5 385.6 605.3 387.2 608.4 388.8 611.3 390.4 613.4 392 613.4 393.6 612 395.2 611.2 396.8 611.7 398.4 612.7 400 613.3 401.6 613.8 403.2 613.1 404.8 609 406.4 601.7 408 593.2 409.6 585.9 411.2 581.5 412.8 582.4 414.4 588.9 416 597.2 417.6 604.1 419.2 607.9 420.8 609.8 422.4 610.9 424 611.6 425.6 612.2 427.2 612.7 428.8 612.9 430.4 612.3 432 611 433.6 608.9" stroke="#7E2F8E" stroke-width="0.95" stroke-dasharray="8 3.5"/>
<polyline points="442,526.1 441.7,526.2 441.4,527.1 441.1,528.6 440.8,530.6 440.5,533.2 440.2,536.5 439.9,540.6 439.6,545.2 439.3,550.1 439,555.1 438.7,560.4 438.4,565.9 438.1,571.6 437.8,577.3 437.5,582.5 437.2,587.1 436.9,590.9 436.6,594.2 436.3,597.2 435.9,600.2 435.2,603.8 434.4,606.9 433.6,608.9" stroke="#7E2F8E" stroke-width="0.95" stroke-dasharray="8 3.5" stroke-dashoffset="4"/>
<polyline points="442,526.1 442.3,526.7 442.6,528.1 442.9,529.8 443.2,532.1 443.5,535.2 443.8,539.1 444.1,543.6 444.4,548.4 444.7,553.4 445,558.6 445.3,564.2 445.6,570 445.9,575.9 446.2,581.4 446.5,586.2 446.8,590.5 447.1,594.6 447.4,598.3 447.7,601.6 448,604.5 448.4,607 448.9,609.2 449.6,611.6" stroke="#7E2F8E" stroke-width="0.95" stroke-dasharray="8 3.5" stroke-dashoffset="4"/>
<path d="M449.6 611.6Q450.4 614.1 451.2 615.1T452.8 614.7 454.4 611.5 456 608.1 457.6 605.4 459.2 604.4 460.8 605.7 462.4 608.1 464 610.5 465.6 612.8 467.2 613.7 468.8 612.7 470.4 611.4 472 611.3 473.6 612.1 475.2 613.1 476.8 614.1 478.4 614.8 480 614.9 481.6 614.5 483.2 613.6 484.8 611.6 486.4 609.6 488 609.6 489.6 611.2 491.2 613.3 492.8 615.7 494.4 618.1 496 620.1 497.6 621.5 499.2 620 500.8 614.8 502.4 608.5 504 604.3 505.6 604.3 507.2 607.8 508.8 611.4 510.4 613.4 512 612.5 513.6 609 515.2 604.5 516.8 600.7 518.4 598.8 520 598.3 521.6 599.5" stroke="#7E2F8E" stroke-width="0.95" stroke-dasharray="8 3.5"/>
<path d="M60.6 607.2Q61.3 607.4 61.9 607.9T63.2 609.3 64.5 612.1 65.8 615.1 67.1 617.2 68.4 618.6 69.7 619.3 71 618.3 72.3 615.6 73.6 612 74.9 607.1 76.2 601.8 77.5 599.2 78.8 599.9 80.1 601.9 81.4 604.1 82.7 606.3 84 608.5 85.3 610.6 86.6 612.8 87.9 614.4 89.2 614.8 90.5 614.1 91.8 613.3 93.1 612.7 94.4 612.9 95.7 614 97 615.5 98.3 617 99.6 618.5 100.9 619.7 102.2 620.7 103.5 621.5 104.8 621.9 106.1 621.4 107.4 620.1 108.7 618.6 110 617.2 111.3 615.8 112.6 615 113.9 614.8 115.2 614.6 116.5 614.3 117.8 613.4 119.1 612.4 120.4 612.1 121.7 612.2 123 612.4 124.3 612 125.6 610.5 126.9 609.2 128.2 609.2 129.5 610.7 130.8 612.1 132.1 612.9 133.4 613.4 134.7 613.6 136 612.3 137.3 609.2 138.6 606.2 139.9 603.9 141.2 602.9 142.5 604 143.8 606.4 145.1 609 146.4 611.3 147.7 612 149 610.2 150.3 607 151.6 604.2 152.9 602 154.2 599.9 155.5 597.6 156.8 595 158.1 593.5 159.4 594.9 160.7 598.5 162 602 163.3 604.8 164.6 606.5 165.9 607.4 167.2 606 168.5 598.5 169.8 585.8 171.1 571.4 172.4 558.1 173.7 544.9 175 528.5 175.8 517.1 176.3 510.3 176.9 501.5 177.5 492.7 178.1 484 178.7 475.1 179.3 466.2 179.9 457.3 180.5 448.5 181.1 439.5 181.7 430.3 182.3 421.4 182.9 412.9 183.5 404.9 184.1 397 184.7 392.3 185.3 394.1 185.9 401.1 186.5 411.4 187.1 426.1 187.7 444.8 188.3 463.7 188.9 481.9 189.5 500.2 190.1 518 190.7 533.9 191.3 546.3 191.9 555.6 192.5 563.4 193.1 571.7 193.7 581.1 194.6 591.9 195.8 600.3 197.1 602.9 198.4 603.3 199.7 603.7 201 604.3 202.3 605.2 203.6 605.9 204.9 606.5 206.2 607 207.5 607.6 208.8 608.3 210.1 609 211.4 609.5 212.7 609.7 214 609.9 215.3 610.3 216.6 611.4 217.9 612.9 219.2 614.1 220.5 613.9 221.8 611.9 223.1 608.9 224.4 605.3 225.7 601.6 227 598.8 228.3 597.5 229.6 597.5 230.9 599.6 232.2 602.9 233.5 606 234.8 608.7 236.1 610.9 237.4 612.4 238.7 613 240 612.6 241.3 611.4 242.6 609.5 243.9 606.3 245.2 600.7 246.5 590.2 247.8 579.7 249.1 575 250.4 573.4 251.7 572.5 253 570.3 254.3 565.2 255.5 559.3 256.3 554.7 256.9 550.3 257.5 544.5 258.1 535.7 258.7 523.3 259.3 509.7 259.9 497.2 260.5 486.2 261.1 475.9 261.7 466.4 262.3 458.5 262.9 451.7 263.5 445.6 264.1 440.8 264.7 438.6 265.3 440.9 265.9 447.6 266.5 456.2 267.1 466.5 267.7 478.8 268.3 491 268.9 501.6 269.5 511.1 270.1 520.3 270.7 530 271.3 541.4 272.4 559.7 273.8 575.8 275.1 583 276.4 588.2 277.7 592.3 279 595.9 280.3 599.1 281.6 601.9 282.9 604.7 284.2 607.6 285.5 610.3 286.8 612 288.1 612 289.4 610.6 290.7 609.2 292 608.4 293.3 608 294.6 607.7 295.9 607.5 297.2 607.8 298.5 608.3 299.8 608.6 301.1 608.3 302.4 607.3 303.7 605.7 305 603.3 306.3 600.9 307.6 600.4 308.9 601.5 310.2 602.5 311.5 603 312.8 603.4 314.1 604.1 315.4 605.1 316.7 605.7 318 604.9 319.3 603.2 320.6 603.2 321.9 605.2 323.2 607.8 324.5 610 325.8 611.7 327.1 612.1 328.4 610.6 329.7 608 331 605.3 332.3 602.8 333.6 601.5 334.9 602.3 336.2 604.2 337.5 605.9 338.8 607.1 340.1 608 341.4 608.8 342.7 609.6 344 610.4 345.3 611.3 346.6 612.6 347.9 614.1 349.2 616 350.5 617.9 351.8 618.2 353.1 616.9 354.4 615.5 355.7 614.8 357 614.6 358.3 614.5 359.6 614.8 360.9 615.4 362.2 615.8 363.5 614.9 364.8 612.8 366.1 611.2 367.4 610.5 368.7 610.2 370 610.1 371.3 610.7 372.6 611.7 373.9 612.6 375.2 613.2 376.5 613.6 377.8 612.4 379.1 609.5 380.4 606.9 381.7 605.3 383 604.8 384.3 605.8 385.6 607.8 386.9 609.9 388.2 612 389.5 613.3 390.8 613 392.1 611.3 393.4 610.2 394.7 610.4 396 611.1 397.3 611.8 398.6 612.4 399.9 612.6 401.2 612.7 402.5 612.8 403.8 612.7 405.1 611.2 406.4 607.7 407.7 603.6 409 599.2 410.3 596 411.6 595.9 412.9 598.7 414.2 602.5 415.5 605.7 416.8 608.4 418.1 609.7 419.4 609.6 420.7 609 422 608.9 423.3 609.6 424.6 610.6 425.9 611.3 427.2 611.7 428.5 611.9 429.8 611.9 431.1 611.4 432.4 610.3 433.7 608.6 435 606 435.8 603.9 436.3 602.5 436.9 600.7 437.5 599 438.1 597.5 438.7 596 439.3 594.5 439.9 593 440.5 591.7 441.1 590.7 441.7 590.1 442.3 590.2 442.9 591.1 443.5 592.6 444.1 594.5 444.7 596.6 445.3 598.7 445.9 600.8 446.5 603.2 447.1 605.7 447.7 608.2 448.3 610.3 449.3 612.6 450.6 614.7 451.9 614.5 453.2 611.7 454.5 608 455.8 605.5 457.1 603.9 458.4 602.9 459.7 602.8 461 604.2 462.3 606.6 463.6 609 464.9 611.2 466.2 612.4 467.5 611.8 468.8 610.4 470.1 609.7 471.4 610 472.7 610.9 474 611.9 475.3 612.6 476.6 613.3 477.9 613.8 479.2 614.4 480.5 615 481.8 615.3 483.1 614.6 484.4 612.5 485.7 610.6 487 610.4 488.3 611.5 489.6 613.1 490.9 614.6 492.2 615.9 493.5 617.2 494.8 618.5 496.1 620.1 497.4 621.4 498.7 621.7 500 620.2 501.3 617.6 502.6 615.1 503.9 612.9 505.2 611.1 506.5 610.8 507.8 611.6 509.1 612.6 510.4 613.6 511.7 614.4 513 614.9 514.3 614.6 515.6 613.7 516.9 612.3 518.2 610.4 519.5 608.1 520.8 606.2 522.1 604.8" stroke="#0072BD" stroke-width="1.6"/>
</g>
<g stroke="#111" stroke-width="1.8" fill="none">
<path d="M184.7 374.4V425.8M180.5 374.4h8.4M180.5 425.8h8.4"/>
<path d="M264.9 419.5V470.6M260.7 419.5h8.4M260.7 470.6h8.4"/>
</g>
<g stroke="#505050" stroke-width="1.15" fill="none">
<path d="M519.5 360H63.7V631H519.5"/>
<path d="M518.9 360V631" stroke="#858585" stroke-width="1.7"/>
<path d="M116.9 631v-4.5M116.9 360v4.5M220.7 631v-4.5M220.7 360v4.5M324.5 631v-4.5M324.5 360v4.5M428.3 631v-4.5M428.3 360v4.5M63.7 631h4.5M519.5 631h-4.5M63.7 582.7h4.5M519.5 582.7h-4.5M63.7 534.4h4.5M519.5 534.4h-4.5M63.7 486.1h4.5M519.5 486.1h-4.5M63.7 437.8h4.5M519.5 437.8h-4.5M63.7 389.5h4.5M519.5 389.5h-4.5" stroke-width="1.1"/>
</g>
<text x="116.9" y="663" font-size="23.7" text-anchor="middle" textLength="37.5" lengthAdjust="spacingAndGlyphs">638</text>
<text x="220.7" y="663" font-size="23.7" text-anchor="middle" textLength="37.5" lengthAdjust="spacingAndGlyphs">640</text>
<text x="324.5" y="663" font-size="23.7" text-anchor="middle" textLength="37.5" lengthAdjust="spacingAndGlyphs">642</text>
<text x="428.3" y="663" font-size="23.7" text-anchor="middle" textLength="37.5" lengthAdjust="spacingAndGlyphs">644</text>
<text x="55.9" y="640.3" font-size="23.7" text-anchor="end" textLength="12.4" lengthAdjust="spacingAndGlyphs">0</text>
<text x="55.9" y="592" font-size="23.7" text-anchor="end" textLength="12.4" lengthAdjust="spacingAndGlyphs">2</text>
<text x="55.9" y="543.7" font-size="23.7" text-anchor="end" textLength="12.4" lengthAdjust="spacingAndGlyphs">4</text>
<text x="55.9" y="495.4" font-size="23.7" text-anchor="end" textLength="12.4" lengthAdjust="spacingAndGlyphs">6</text>
<text x="55.9" y="447.1" font-size="23.7" text-anchor="end" textLength="12.4" lengthAdjust="spacingAndGlyphs">8</text>
<text x="55.9" y="398.8" font-size="23.7" text-anchor="end" textLength="24.8" lengthAdjust="spacingAndGlyphs">10</text>
<text x="302" y="694" font-size="25.2" text-anchor="middle" textLength="181.5" lengthAdjust="spacingAndGlyphs">Wavelength [nm]</text>
<text x="21.3" y="504.2" font-size="25.2" text-anchor="middle" textLength="168" lengthAdjust="spacingAndGlyphs" transform="rotate(-90 21.3 504.2)">Enhancement</text>
<text x="69.5" y="390" font-size="30.5" text-anchor="start" textLength="37.5" lengthAdjust="spacingAndGlyphs">(b)</text>
</svg>
</body></html>
